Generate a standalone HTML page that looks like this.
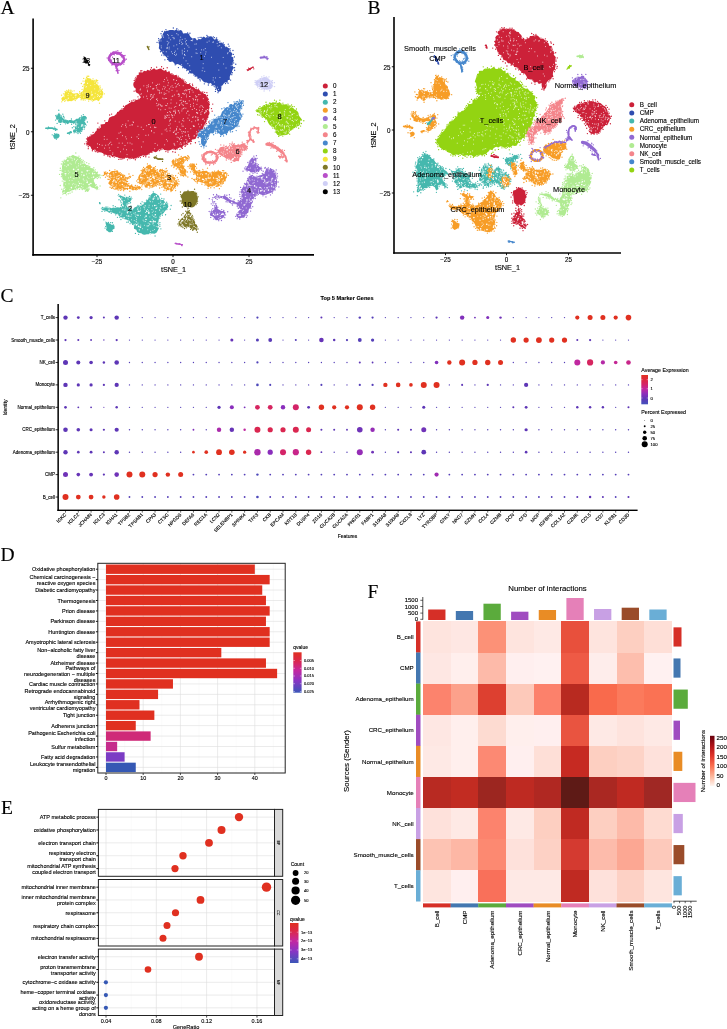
<!DOCTYPE html>
<html lang="en"><head><meta charset="utf-8"><title>Figure</title>
<style>html,body{margin:0;padding:0;background:#fff}svg{display:block}text{font-family:"Liberation Sans",sans-serif;stroke:#000;stroke-width:.12px}</style></head>
<body>
<svg width="727" height="1029" viewBox="0 0 727 1029">
<rect width="727" height="1029" fill="#fff"/>
<g font-family="Liberation Serif" font-size="19.5" style="font-family:'Liberation Serif',serif">
<text x="0.5" y="14.2" style="font-family:'Liberation Serif',serif">A</text>
<text x="367.5" y="13.6" style="font-family:'Liberation Serif',serif">B</text>
<text x="0.5" y="302.3" style="font-family:'Liberation Serif',serif">C</text>
<text x="0.5" y="561.3" style="font-family:'Liberation Serif',serif">D</text>
<text x="1" y="814.3" style="font-family:'Liberation Serif',serif">E</text>
<text x="367.5" y="598.3" style="font-family:'Liberation Serif',serif">F</text>
</g>
<g id="panelA">
<path d="M135.39 78.99L136.72 77.65L136.54 75.42L138.77 74.63L138.72 72.41L140.61 72.23L142.62 72.39L143.99 70.68L146.14 71.24L147.51 69.67L149.25 70.49L150.91 70.31L152.51 69.32L154.1 68.15L155.91 69.85L157.33 69.45L159.25 68.85L161.12 68.45L162.55 69.81L164.1 70.68L166.13 69.63L166.98 72.31L169.37 71.12L170.18 73.16L171.47 74.21L172.9 74.98L174.57 75.24L176.7 74.81L177.25 77.15L179.28 77.24L180.82 78.07L181.9 79.61L183.61 80.19L184.34 82.18L185.79 83.22L187.47 83.96L189.65 83.99L190.72 85.57L192.01 86.85L193.86 87.31L195.15 88.44L196.41 89.62L198.5 89.34L199.84 90.38L200.71 92.24L202.64 92.36L203.8 93.7L205.69 94.31L206.67 95.83L206.97 97.65L209.2 98.91L207.55 101.27L208.8 102.81L210.14 104.32L209.11 106.1L209.66 108.12L208.19 109.8L209.49 111.95L209.4 113.97L208.31 115.69L208.43 117.81L206.42 119.22L206.69 121.51L205.52 122.94L204.55 124.48L203.34 125.88L203.24 127.99L202.46 129.64L200.44 130.46L199.86 132.24L197.55 132.87L197.87 135.37L196.52 136.52L195.91 138.41L194.34 139.34L192.1 139.6L191.06 141.02L190.27 142.59L187.97 142.28L187.44 144.17L185.71 144.58L184.63 145.33L183.01 145.81L182.13 148.15L179.95 147.23L178.66 148.1L176.96 148.72L175.39 150.21L173.35 148.42L171.73 149.62L169.98 150.13L167.96 150.67L166.11 150.19L164.22 150L162.32 148.2L160.56 149.17L158.63 149.65L157.19 151.57L155.53 152.31L153.09 151.19L151.62 152L150.19 152.88L148.69 153.63L147.49 154.96L145.68 155.72L143.59 155.4L141.54 155.25L139.98 156.79L138.3 156.83L136.68 157.5L135.12 158.67L133.38 158.16L131.67 157.87L129.99 158.31L128.2 158.39L126.47 156.7L124.6 158.82L122.83 158.44L121.03 158.62L119.25 158.35L117.53 157.22L115.87 157.03L114.29 156.06L112.46 157.22L110.97 155.54L109.31 155.34L107.77 155.54L106.14 154.8L104.31 154.61L102.91 153.29L101.29 152.53L99.49 152.28L98.07 151.64L96.2 151.2L95.18 149.47L92.46 150.31L91.34 148.75L90.58 146.8L88.91 145.76L87.25 144.7L85.82 143.9L87.39 142.04L86.82 138.9L87.79 137.25L90.07 136.76L91.28 135.33L93.3 134.62L94.46 133.26L95.28 131.63L96.67 130.61L96.92 128.37L99.35 128.48L100.85 127.57L100.53 124.57L102.66 124.32L104.73 123.98L105.56 122.04L107.83 121.97L108.5 119.82L109.2 117.79L110.65 116.98L112.17 116.27L114.15 116.1L115.22 114.85L116.8 114.21L117.09 111.92L118.91 111.39L119.99 109.83L122.13 109.74L123.75 108.92L124.32 106.63L125.55 105.2L127.24 104.49L128.81 103.59L130.29 102.56L131.9 101.73L134.12 101.86L135.29 100.27L137.07 99.7L139.07 99.49L141.05 96.87L139.49 95.54L138.54 93.84L136.53 92.66L135.25 91L135.88 88.71L134.05 87.23L133.24 84.9L133.49 82.82L135.18 80.86Z" fill="#cc2139"/>
<path d="M135.12 78.85h0M135.84 77.37h0M140.6 70.9h0M141.87 70.74h0M150.56 69.33h0M151.42 67.71h0M156.64 67.18h0M161.6 66.78h0M163.5 68.53h0M167.19 67.77h0M171.89 73.58h0M173.02 74.62h0M178.12 76.22h0M182.31 79.07h0M183.91 79.9h0M185.14 81.6h0M186.14 82.61h0M189.86 83.56h0M192.47 84.13h0M192.69 85.63h0M196.16 87.32h0M196.53 89.17h0M198.56 89.1h0M200.88 92.01h0M202.82 91.99h0M204.65 92.37h0M206.88 92.69h0M207.47 95.52h0M207.13 97.52h0M208.63 101.38h0M209.06 102.58h0M212.75 104.07h0M211.49 108.57h0M208.52 109.82h0M212.18 111.17h0M206.92 119.46h0M208.8 122.02h0M206.28 123.48h0M205.03 124.84h0M203.67 126h0M204.34 128.25h0M201.77 131.8h0M200.12 136h0M198.31 137.68h0M195.4 142.7h0M191.46 141.26h0M190.73 143.7h0M188.12 142.54h0M187.61 144.34h0M185.87 144.96h0M185.12 146.4h0M182.27 148.43h0M179.93 149.36h0M177.17 149.04h0M175.22 152.25h0M173.24 149.08h0M172.79 151.71h0M167.98 152.01h0M165.86 151.62h0M162.12 149.08h0M160.79 149.76h0M159.37 150.69h0M151.85 152.39h0M149.01 154.04h0M148.96 157.08h0M145.8 156.74h0M143.48 156.4h0M141.66 155.57h0M140.37 157.6h0M138.39 157.25h0M136.81 157.72h0M135.33 159.76h0M133.31 158.47h0M131.69 158.25h0M130.04 158.65h0M127.54 159.83h0M126.56 157.37h0M122.8 158.85h0M121.01 159.37h0M118.83 159.41h0M114.35 157.11h0M110.1 157h0M109.31 156.09h0M107.7 155.93h0M104.13 155.01h0M97.89 152.2h0M95.88 151.63h0M94.86 150.81h0M92.38 150.74h0M88.25 148.69h0M88.31 146.71h0M87.05 145.04h0M84.7 143.84h0M86.36 141.84h0M86.51 138.87h0M87.68 137.08h0M89.84 136.36h0M91.07 135h0M93.11 134.32h0M93.08 132.34h0M99.25 127.09h0M97.89 123.1h0M104.81 120.87h0M109.65 115.03h0M111.62 114.06h0M116.59 114.07h0M121.95 108.98h0M123.49 108.74h0M123.49 106.23h0M129.57 101.35h0M131.77 101h0M133.35 100.07h0M135.04 99.93h0M138.75 99.05h0M140.68 96.83h0M137.98 96.8h0M134.13 91.18h0M134.25 80.4h0" stroke="#cc2139" stroke-width="1.35" stroke-linecap="round" fill="none"/>
<path d="M159.08 46.3L159.18 44.53L158.37 42.58L159.75 41.07L159.48 39.18L161.59 37.95L162.41 36.06L162.67 34.23L163.54 32.55L164.89 31.64L166.28 30.82L167.93 30.82L169.6 30.1L171.33 30.06L173.05 29.88L174.5 30.51L176.75 29.24L177.99 31.35L180.25 30.08L182 30.71L183.06 33.46L185.27 33.16L187.6 33.14L189.19 33.89L189.82 35.92L190.93 37.29L192.33 38.5L195.18 37.96L197.01 40.6L198.53 39.07L200.74 39.37L202.26 37.83L203.78 36.47L205.88 38.06L207.28 36.1L209.15 36.49L211.21 36.33L212.77 37.43L214.07 39.17L216.52 38.44L217.38 40.11L218.19 41.89L219.54 42.75L221.52 42.58L222.83 43.48L223.99 44.8L225.14 46.14L226.8 46.78L228.01 47.71L229.99 48.86L229.05 51.48L231.52 52.4L232.65 54.25L231.22 56.19L233.4 57.52L233.17 59.26L233.89 60.83L232.72 62.6L232.78 64.27L232.69 65.92L234 67.69L232.88 69.26L232.21 70.8L231.85 72.56L230.98 74.18L229.95 75.74L229.73 77.16L229.94 79.66L227.78 80.19L227.61 82.77L225.32 82.31L223.97 83.26L222.93 84.66L221.51 86.48L221.31 88.56L220.93 90.93L218.04 92.08L217.15 90.6L216.4 88.84L215.4 87.25L215.77 86.36L214.16 84.99L212.23 84.93L210.9 82.95L208.49 83.8L206.9 82.48L204.75 82.44L203.03 81.29L201.58 79.61L200.17 78.28L197.53 78.93L197.3 76.37L195.43 76L194.24 74.72L192.93 73.6L190.92 73.42L189.2 72.84L188.82 70.41L186.94 70.35L186.02 68.77L184.31 68.43L183.13 67.23L181.54 65.82L179.71 64.89L177.82 64.08L175.24 64.66L173.85 62.86L172.36 61.38L170.12 61.92L168.63 61.24L167.95 59.27L167.12 57.9L165.65 56.62L164.45 55.07L162.7 54.18L162.28 52.47L161.07 51.29L160.18 50.08L158.78 48.25Z" fill="#2f4db0"/>
<path d="M157.04 42.36h0M158.9 40.79h0M158.6 38.66h0M161.89 35.91h0M161.05 33.7h0M162.17 31.38h0M164.77 31.47h0M165.94 29.55h0M173.31 28.01h0M176.88 28.71h0M178.29 30.09h0M187.64 32.94h0M189.94 33.29h0M198.13 37.84h0M200.08 37.42h0M201.79 37.34h0M206.94 35.39h0M213.33 36.86h0M214.49 37.59h0M216.63 38.03h0M217.68 39.97h0M218.42 41.7h0M219.89 41.06h0M223.23 43.03h0M224.18 44.63h0M228.24 44.15h0M229.02 46.16h0M230.2 48.81h0M230.38 50.91h0M232.97 50.52h0M233.45 54.32h0M234.4 56.89h0M233.67 62.91h0M235.77 64.29h0M234.53 67.66h0M234.64 70.27h0M232.32 72.73h0M231.77 74.65h0M230.61 80.09h0M228.05 83.28h0M225.48 83.53h0M217.99 92.68h0M215.47 91.44h0M215.59 89.26h0M214.98 86.79h0M213.82 85.83h0M212.02 85.26h0M208.35 84.99h0M204.32 83.84h0M200.28 80.85h0M199.96 79.51h0M197 76.59h0M195.23 76.37h0M193.99 74.98h0M188.72 73.18h0M186.8 70.6h0M182.72 67.66h0M178.46 67.55h0M175.18 64.86h0M167.68 59.39h0M164.9 59.81h0M164.05 55.55h0M161.65 55.05h0M160.51 51.78h0" stroke="#2f4db0" stroke-width="1.35" stroke-linecap="round" fill="none"/>
<path d="M219.93 77.46h0M203.78 49.92h0M182.21 52.03h0M176.79 33.64h0M178.11 34.83h0M211.46 57.29h0M175.81 55.43h0M204.75 71.35h0M214.33 82.06h0M208.06 37.13h0M221.29 47.81h0M200.75 52.71h0M213.58 41.96h0M176.8 44.81h0M201.6 49.83h0M196.28 43.95h0M218.86 70.07h0M221.27 86.23h0M161.28 47.81h0M167.19 41.36h0M231.19 65.73h0M227.98 52.67h0M223.18 57.43h0M202.94 68h0M174.57 52.45h0M168.85 42.25h0M207.1 42.22h0M209.1 41.09h0M181.66 42.22h0M217.87 63.55h0M163 35.9h0M187.89 63.68h0M188.97 47.16h0M181.67 64.7h0M185.03 55.41h0M185.52 41.84h0M212.83 42.24h0M192.81 39.69h0M186.05 60.85h0M169.19 47.16h0M218.59 89.48h0M173.05 37.47h0M227.68 53.64h0M226.04 68.03h0M217.16 43.37h0M174.61 54.37h0M197.08 53.37h0M167.48 44.92h0M203.2 63.68h0M205.26 48.58h0M189.74 65.69h0M190.17 70.41h0M191.75 56.76h0M194.95 44.19h0M215.49 77.91h0M192.61 40.74h0M167.88 56.28h0M165.13 56.99h0M213.24 77.76h0M196.03 53.02h0M213.13 80.08h0M217.35 87.23h0M163.16 51.35h0M214.94 39.46h0M225.46 46.65h0M173.87 45.9h0M196.19 49.38h0M161.01 40.9h0M205.96 51.9h0M223.69 63.99h0M205.46 54.03h0M218.05 46.02h0M232.51 65.37h0M191.41 40.57h0M219.71 45.33h0M202.17 70.71h0M160.79 38.87h0M204.44 56.38h0M168.15 43.7h0M166.23 51.74h0" stroke="#fff" stroke-width=".8" stroke-linecap="round" fill="none"/>
<path d="M167.65 47.35h0M180.7 37.17h0M181.94 44.43h0M168.34 35.7h0M174 38.78h0M179.74 41.09h0M182.72 43.59h0M161.2 45.95h0M174.15 38.07h0M166.76 48h0M177.76 48.9h0M170.69 39.75h0M187.63 50.88h0M186.28 44.17h0M186.16 43.83h0M167.71 34.52h0M171.63 51.8h0M184.49 54.37h0M185.08 38.83h0M179.43 43.39h0M187.83 45.73h0M169.12 48.91h0M168.94 38.02h0M186.31 40.46h0M191.11 40.5h0M182.18 50.28h0M183.42 57.95h0M176.42 54.22h0M184.58 54.69h0M175.26 51.13h0M180.03 39.95h0M167.21 48.39h0M171.96 35.5h0M184.4 48.69h0M184.56 51.45h0M172.63 53.62h0M163.46 37.21h0M182.31 53.82h0M182.21 39.4h0" stroke="#fff" stroke-width=".8" stroke-linecap="round" fill="none"/>
<path d="M192.09 90.16h0M161.95 105.81h0M141.44 93.86h0M165.31 98.45h0M206.3 111.53h0M198.55 119.73h0M170.02 130.79h0M176.99 90.99h0M140.09 89.95h0M173.8 132.49h0M159.51 90.86h0M188.11 111.14h0M187.95 131.79h0M183.19 100.94h0M167.6 103.73h0M154.18 94.33h0M201.98 111.35h0M176.56 129.47h0M191.79 121.73h0M163.97 98.87h0M185.54 128.57h0M193.19 116.93h0M153.18 97.07h0M188.36 135.85h0M150.63 86.66h0M157.03 98.86h0M175.91 87.01h0M162.56 89.04h0M190.43 106.61h0M147.35 90.27h0M166.71 77.93h0M187.69 111.3h0M183.49 108.64h0M202.45 106.26h0M179.48 129.08h0M168.97 91.85h0M189.67 138.45h0M193.24 125.58h0M198.63 124.11h0M184.12 107.97h0M193.81 126.51h0M183.3 93.39h0M169.13 108.06h0M182.75 104.78h0M186.44 142.04h0M193.52 103.31h0M204.69 112.64h0M177.21 126.81h0M175.23 121.23h0M197.01 112.82h0M164.45 79.55h0M158.87 104.09h0M168.92 125.45h0M164.22 94.47h0M204.64 113.2h0M166.96 90.67h0M195.68 120.87h0M172.27 115.7h0M196.31 133.88h0M172.19 96.56h0M177.71 84.45h0M197.34 100.88h0M198.51 94.63h0M165.87 93.64h0M169.31 88.8h0M159.34 93.02h0M160.76 109.8h0M169.47 121.09h0M185.34 101.43h0M185.11 93.39h0M146.98 85.71h0M163.83 86.42h0M181.84 131.38h0M185.97 139.44h0M194.2 135.5h0M176.51 128.57h0M178.17 94.42h0M156.11 85.47h0M173.91 79.68h0M172.12 85.83h0M173.79 111.13h0M177.11 137.22h0M172.18 115.74h0M185.76 135.63h0M165.79 105.46h0M183.81 121h0M186.95 142.13h0M175.12 110.17h0M189.39 120.23h0M165.18 109.44h0M176.14 130.62h0M169.05 115.13h0M196.86 96.45h0M196.93 104.38h0M174.65 94.94h0M174.83 145.24h0M185.02 132.15h0M162.76 98.18h0M183.66 131.59h0M200.91 114.51h0M143.42 96.99h0M140.43 89.09h0M203.37 119.04h0M185.26 131.94h0M202.57 119.26h0M182.41 120.34h0M187.9 118.15h0M186.83 90.7h0M185.87 108.25h0M185.1 101.89h0M196.58 131.76h0M178.66 93.96h0M160.77 105.67h0M161.9 106.31h0M184.14 142.3h0M195.73 116.65h0M203.18 107.44h0M180.71 142.57h0M207.45 109.51h0M168.36 82.8h0M184.33 90.69h0M189.47 92.83h0M190.45 88.91h0M189.08 136.69h0M183.23 126.23h0M173.45 79.78h0M165.28 116.63h0M170.17 123.92h0M183.31 105.4h0M178.98 96.42h0M188.37 134.68h0M181.34 97.58h0M181.39 139.6h0M195.54 95.77h0M140.12 94.32h0M169.06 117.46h0M179.33 95.09h0M187.09 140.86h0M163.86 81.59h0M178.08 132.54h0M181.74 123.97h0M172 90.28h0M194.45 108.38h0M193.11 92.16h0M179.86 139.66h0M200.87 112.83h0M172.78 117.65h0M153.01 89.26h0M164.95 115.87h0M167.68 112.5h0M181.07 100.17h0M199.57 110.29h0M179.01 94.21h0M193.59 105.97h0M153.82 88.43h0M178.33 137.78h0M181.13 103.93h0M184.06 143.91h0M186.06 103.62h0M170.84 86.93h0M157.6 100.68h0M194.08 126.26h0M143.84 85.86h0M186.55 96.87h0M180.68 129.71h0M147.25 98.67h0M157.68 84.38h0M173.1 87.56h0M156.4 85.74h0M189.33 89.46h0M197.93 120.45h0M171.11 99.81h0M196.61 109.66h0M183.2 85.71h0M189.09 115.08h0M158.32 104.96h0M150.71 94.89h0M197.74 99.43h0M185.96 90.61h0M172.84 95.98h0M157.73 89.92h0M146.71 96.2h0M189.96 96.5h0M195.5 99.89h0M197.24 113.17h0M179.29 85.38h0M188.94 89.57h0M181.85 110.94h0M158.84 90.24h0M182.12 126.13h0M195.82 117.2h0M190.39 104.69h0M195.75 99.48h0M202.6 109.59h0M199.97 94.55h0M165.25 87.2h0M165.53 118.05h0M170.66 112.38h0M205.62 110.89h0M175.3 113.45h0M152.54 82.85h0M188.07 89.46h0M179.65 112.9h0M199.8 126.79h0M173.95 111.32h0M159.23 84.23h0M167.9 85.3h0M180.7 137.09h0M166.74 105.58h0M197.75 113.1h0M193.43 99.72h0M156.53 99.47h0M157.14 105.7h0M183.51 101.57h0M176.51 80.46h0M169.78 111.61h0M204.44 120.79h0M184.12 94.51h0M186.66 95.06h0M177.29 141.62h0M182.73 93.43h0M175.78 106.52h0M205.76 112.25h0M158.46 108.86h0M176.71 86.12h0M148.52 84.9h0M160.19 104.58h0M159.83 92.91h0M197.75 119.13h0M179.21 122.02h0M171.7 114.7h0M182.15 109.05h0M161.36 92.83h0M166.35 117.39h0M178.28 110.65h0M199.92 106.97h0M170.25 128.1h0M147.51 91.61h0M150.63 99.61h0M182.39 136.3h0M196.48 112.54h0M190.81 128.67h0M192.25 109.49h0M193.99 126.18h0M192.66 117.4h0M174.24 144.36h0M179.34 105.39h0M181.77 102.65h0M171.11 108.25h0M189.73 96.45h0M166.87 115.22h0M166.44 98.53h0M194.13 136.27h0M174.36 107.26h0M152.67 97.25h0M203.28 98.67h0M178.85 111.08h0M175.59 112.5h0M187.13 103.36h0M164.6 118.04h0M186.53 113.07h0M167.57 115.65h0M179.48 138.43h0M206.33 110.32h0M170.27 120.18h0M176.46 133.86h0M151.74 98.25h0M175.25 83.41h0M201.52 124.85h0M201.08 105.61h0M150.76 96.24h0M175.19 111.62h0M152.94 88.55h0M183.34 118.64h0M140.27 97.28h0M197.92 117.43h0M185.95 89.57h0M174.24 115.07h0M179.51 104.91h0M148.36 86.72h0M146.88 87.7h0M175.94 134.38h0M182.16 133.2h0M193 98.59h0M189.21 100.81h0M151.65 94.57h0M180.05 100.46h0M170.94 103.09h0M180.07 144.14h0M170.24 119.86h0M196.11 97.22h0M181.44 144.17h0M174.08 143.43h0M156.71 103.38h0M189.41 91.34h0M173.31 132.21h0M156.74 87.91h0M164.65 88.85h0M178.62 83.72h0M176.71 103.08h0M167.73 80.18h0M164.16 93.02h0M153.15 95.79h0" stroke="#fff" stroke-width=".8" stroke-linecap="round" fill="none"/>
<path d="M151.46 130.73h0M108.25 144.85h0M132.68 149.91h0M125 145.5h0M127.04 154.64h0M112.69 154.35h0M137.91 126.31h0M133.48 122.57h0M155.05 127.6h0M126.28 127.04h0M146.7 125.74h0M138.61 138.53h0M117.98 147.41h0M127.71 142.98h0M143.25 129.54h0M128.14 120.83h0M110.05 150.48h0M122.29 143.18h0M104.26 139.28h0M125.73 136.89h0M121.46 126.27h0M105.72 145.27h0M119 133.13h0M97.51 143.84h0M151.41 131.12h0M130.07 143.04h0M154.44 127.13h0M166.97 131.14h0M148.45 124.54h0M157.39 145.11h0M120.76 132.25h0M149.26 124.46h0M166.35 139.59h0M155.91 127.37h0M131.97 144.02h0M167.6 141.04h0M104.45 148.17h0M112.86 152.94h0M154.05 132.75h0M175.44 133.93h0M148.39 135.05h0M99.62 144.56h0M131.41 137.34h0M154.73 148.72h0M117.2 138.67h0M141.23 127.18h0M129.99 125.3h0M155.09 143.48h0M138.81 134.74h0M174.55 131.12h0M120.45 151.78h0M107.06 139.33h0M123.35 149.1h0M141.6 146.97h0M109.38 143.33h0M145.89 135.37h0M125.64 125.5h0M111.75 144.69h0M133.08 121.88h0M122.58 135.66h0M125.85 124.01h0M102.14 145.29h0M104.25 136.44h0M131.91 124.86h0M150.47 127.24h0M97.35 147.51h0M166.36 128.98h0M110.79 142.23h0M109.32 147.9h0M122.77 124.65h0M165.15 129.91h0M126.32 138.86h0M126.39 149.72h0M143.18 141.84h0M164.68 144.84h0M137.02 136.86h0M153.48 123.84h0M132.36 124.89h0M161.89 133.99h0M119.08 143.14h0" stroke="#fff" stroke-width=".8" stroke-linecap="round" fill="none"/>
<path d="M243.77 100.01L242.99 101.62L242.23 103.23L241.77 104.96L241.53 106.77L241.17 108.54L240.68 109.73L240.06 111.79L240.91 113.26L241.78 114.73L242.6 116.3L241.51 117.63L240.51 119L239.58 120.42L239.22 122.11L238.71 123.69L238.03 125.41L236.71 126.32L235.41 127.26L234.28 128.42L233.02 129.4L231.38 129.92L230.35 131.19L228.26 131.13L227.7 133L226.3 133.94L224.49 133.81L222.95 134.71L220.76 135.65L219.6 133.72L217.76 132.71L216.09 130.93L214.46 131.83L213.23 133.54L210.65 133.15L209.6 134.6L208.98 136.48L207.41 137.48L206.35 139.44L206.95 141.72L206.07 143.61L205.12 145.46L203.87 146.91L202.46 145.41L201.14 143.77L201.02 141.63L201.1 139.45L200.41 137.09L198.25 136.75L197.42 134.96L199.12 133.45L199.23 130.66L201.52 130.82L203.47 130.25L204.96 128.71L206.57 127.82L207.51 126.26L208.68 124.93L210.41 124.02L211.14 121.8L212.78 120.64L213.99 119.31L215.44 118.52L217.53 118.53L218.53 116.7L220.38 115.71L221.34 113.82L221.98 111.69L223.68 110.36L224.77 108.44L226.39 107.13L228.75 106.8L229.67 104.18L231.41 104L233.39 104.42L234.47 102.57L236.31 102.68L238.31 102.44L239.74 100.46L241.84 100.52Z" fill="#4687cc"/>
<path d="M243.23 101.73h0M242.77 103.43h0M243.41 105.28h0M241.87 106.83h0M241.66 108.68h0M242.93 114.08h0M240.7 119.13h0M238.99 126.14h0M236.95 126.66h0M236.19 130.55h0M232.55 131.66h0M230.64 131.93h0M226.45 134.54h0M223.53 135.89h0M220.56 136.35h0M217.59 132.92h0M215.93 131.52h0M215.69 133.18h0M213.61 134.64h0M208.28 138.25h0M207.3 139.54h0M206.16 146.16h0M203.85 147.8h0M201.17 146.53h0M199.87 144.26h0M199.03 141.65h0M197.92 137.21h0M198.31 133.11h0M198.71 130.18h0M201.41 129.71h0M202.95 129.41h0M204.43 128.03h0M206.35 127.59h0M207.2 126.03h0M209.47 123.28h0M209.91 120.94h0M212.09 119.84h0M213.87 119.16h0M214.69 115.1h0M216.97 117.57h0M218.19 116.35h0M221.85 108.79h0M224.13 107.91h0M227.97 102.56h0M234.02 101.82h0M236.28 101.72h0M237.7 101.49h0M239.47 99.96h0" stroke="#4687cc" stroke-width="1.35" stroke-linecap="round" fill="none"/>
<path d="M219.77 117.26h0M218.46 120.94h0M223.8 114.21h0M231.11 125.91h0M240.86 116h0M239.08 112.97h0M230.08 110.26h0M227.47 109.25h0M227.51 119.05h0M228.9 115.88h0M212.97 123.23h0M225.15 112.08h0M232.98 104.22h0M235.15 119.89h0M222.41 127.66h0M223.17 130.9h0M225.32 115.55h0M231.78 112.12h0M233.39 114.53h0M219.5 130.8h0M233.31 117.04h0M232.49 104.23h0M240.96 117.18h0M233.49 111.4h0M226.92 116.18h0M234.52 121.62h0M202.49 134.47h0M207.52 126.77h0M204.75 140.56h0M237.7 112.56h0M204.97 132.09h0M225.14 121.29h0M237.43 108.57h0M204.47 134.59h0M242.81 101.55h0M205.78 132.21h0M204.34 134.7h0M213.85 123.32h0M239.99 116.42h0M216.38 126.16h0M229.33 130.7h0M222.66 125.79h0M209.28 128.71h0M239.52 102.33h0M229.61 115.25h0M227.39 125.8h0M236.97 123.98h0M208.34 129.59h0M231.88 117.81h0M230.44 118.5h0M221.84 128.8h0M228.82 115.14h0M226.59 125.52h0M207.83 128.79h0M221.64 122.4h0M221.73 124.79h0M235.12 111.22h0M205.47 138.63h0M218.79 130.1h0M235.32 105.78h0M234.65 124.5h0M229.64 121.12h0M232.59 107.04h0M228.96 117.25h0M230.72 112.91h0M236.08 104.29h0M217.97 117.26h0M230.45 113.88h0M216.37 130.46h0M235 116.56h0M215.32 127.2h0M240.27 109.01h0M214.72 131.28h0M232.47 117.83h0M221.82 123.34h0M218.89 121.72h0M236.33 119.5h0M217.84 123.09h0M228.94 126.03h0M201.07 138.42h0M232.34 126.53h0M200.04 132.01h0M230.39 122.69h0M200.03 132.48h0M216.83 127.45h0M237.83 106.84h0M212.96 124.36h0M221.13 119.75h0M237.12 112.08h0M222.33 117.57h0M218.97 122.98h0M224.5 117.19h0M234.57 109.41h0M222.15 119.22h0M223.63 115.21h0M210.98 133.4h0M237.4 103.38h0M234.53 123.42h0M228.67 131.72h0M236.27 106.85h0M239.95 109.72h0M216.68 130.97h0M229.22 107.28h0M200.12 132.7h0M224.42 114.98h0M239.68 115.25h0M236.41 107.14h0M215.07 130.12h0M231.18 120.2h0M235.82 105.74h0M232.2 123.34h0M240.5 104.37h0M225.15 125.41h0M236.6 110.68h0M240.26 101.52h0M212.91 121.13h0M208.94 134.89h0M205.77 137.02h0M225.05 121.69h0M202 130.4h0M228.17 107.7h0M205.35 144.25h0M237.9 122.57h0M238.16 105.5h0M220.45 125.19h0M220.94 117.24h0" stroke="#fff" stroke-width=".8" stroke-linecap="round" fill="none"/>
<path d="M255.26 110.48L256.83 109.22L258.75 108.6L260.57 107.78L262.19 106.68L263.23 104.99L265 104.95L266.22 103.65L268.35 104.45L269.46 102.2L271.17 102.94L272.81 102.31L274.49 102.62L276.15 102.33L277.86 103.07L279.61 102.06L281.02 103.52L282.73 103.75L284.3 104.57L286.12 104.35L287.84 104.55L289.27 105.29L291.19 105.45L291.53 107.58L293.34 107.89L294.2 109.37L295.89 109.9L297.41 111.36L298.55 113.11L298.77 115.29L299.74 116.84L301 118.27L302.31 120.32L300.07 121.36L300.36 123.41L299.65 125.31L298.09 126.34L296.04 126.41L294.81 127.97L292.59 128.69L291.36 130.45L288.8 131.14L288.88 133.81L286.97 134.84L284.88 135.25L282.69 135.11L280.96 135.84L278.9 135.79L277.27 134.87L276.36 133.6L275.61 132.02L275.54 130.26L274.88 128.37L273.61 127.14L272.22 126.03L270.06 125.51L268.78 123.87L267.83 121.98L267.03 119.97L265.75 118.75L264.14 117.86L262.73 116.77L261.77 115.39L260.21 114.21L258.95 112.54L256.84 112.16Z" fill="#93d412"/>
<path d="M258.61 108.22h0M259.98 106.73h0M266.01 102.25h0M274.51 100.14h0M276.29 101.26h0M279.88 100.17h0M282.95 103.06h0M287.95 104.19h0M291.61 105.04h0M292.55 106.69h0M294.23 106.56h0M296.47 108.95h0M303.81 120.77h0M301.39 123.52h0M300.61 126.05h0M298.63 128.13h0M296.36 127.07h0M292.74 128.9h0M289.27 131.49h0M289.65 134.19h0M282.83 136.04h0M278.73 136.43h0M275.28 132.09h0M274.47 128.63h0M272.81 128.05h0M272.02 126.47h0M264.55 121.57h0M265.63 118.91h0M262.36 117.13h0M261.22 115.93h0M259.21 115.19h0M257.61 114.72h0" stroke="#93d412" stroke-width="1.35" stroke-linecap="round" fill="none"/>
<path d="M266.66 114.39h0M295.09 119.84h0M296.56 124.99h0M271.82 124.81h0M284.38 115.19h0M279.28 125.33h0M297.18 119.31h0M286.78 121.31h0M275.82 127.85h0M270.12 107.12h0M281.82 104.08h0M284.83 111.98h0M290.45 112.33h0M280.31 116.7h0M292.43 125.33h0M288 125.82h0M267.9 107.96h0M281.75 130.37h0M291.91 114.22h0M289.33 108.26h0M269.51 104.31h0M268.84 115.43h0M263.7 112.94h0M269.92 117.29h0M260.04 111.28h0M273.32 115.51h0M275.94 130.75h0M284.63 128.78h0M269.64 107.63h0M290.2 118.37h0M280.98 125.13h0M290 111.79h0M279.61 112.23h0M284.3 111.27h0M293.44 121.62h0M267.35 110.71h0M290.05 125.38h0M260.17 112.86h0M284.98 135.15h0M284.48 125.86h0M291.02 115.81h0M270.89 115.75h0M292.47 114.3h0M279.73 120.09h0M286.13 132.93h0M261.21 113.93h0M278.35 131.25h0M286.05 122h0M273.77 121.86h0M290.07 119.39h0M289.55 130.21h0M285.17 132.16h0M287.73 123.17h0M267.79 104.77h0M283.06 130.32h0M267.7 109.69h0M265.41 105.67h0M292.3 114.64h0M287.52 104.94h0M293.99 113.47h0M261.45 111.78h0M280.8 129.75h0M260.14 110.08h0M284.27 113.98h0M270.39 121.69h0M292.61 120.63h0M274.71 104.63h0M284.3 126.95h0M282.2 116h0M278.81 122.37h0M277.22 107.01h0M276.11 125.54h0M287.94 117.84h0M270.89 108.91h0M273.73 112.04h0M279 117.3h0M264.15 111.46h0M281.05 126.17h0M288.6 126.78h0M257.92 109.44h0M288.57 123.77h0M267.27 114.49h0M292.41 117.86h0M277.15 130.24h0M281.2 119.64h0M264.73 111h0M289.06 115.47h0M276.56 103.96h0M296.34 120.53h0M284.04 132.38h0M277.53 124.08h0M264.57 110.72h0M297.12 115.41h0M260.87 109.25h0M276.22 122.26h0M284.59 126.36h0M275.44 104.78h0M276.89 116.01h0M286.29 126.59h0M287.18 118.42h0M282.86 104.62h0M265.64 115.74h0M284.48 127.53h0M298.26 124.05h0M290.21 106h0M280.85 130.22h0M278.37 123.42h0M282.65 129.48h0M280.36 112.32h0M276.3 106.62h0M285.23 109.49h0M274.95 106.23h0M300.41 120.93h0M271.39 105.67h0M288.95 131.18h0M272.09 112.72h0M290.45 107.49h0M283.2 135.53h0M287.2 122.71h0M279.19 117.88h0M273.94 123.12h0M285.16 133.43h0M289.07 129.38h0M286.66 131.19h0M275.54 126.34h0M266.75 112.64h0M271.2 113.45h0M290 111.75h0M266.61 116.42h0M255.97 110.29h0M291.95 120.46h0M272.07 120.63h0M279.69 124.44h0M280.04 134.16h0M259.17 109.67h0M286.94 125.81h0M289.69 127.92h0M266.55 111.18h0M264.73 111.26h0M282.49 124.64h0M282.8 125.95h0M269.13 104.66h0M271.81 107.3h0M263.27 105.88h0M269.1 116.3h0M287.06 117.52h0M288.87 105.7h0" stroke="#fff" stroke-width=".8" stroke-linecap="round" fill="none"/>
<path d="M254.01 81.89L255.93 81.72L256.63 80.03L258.65 80.25L259.85 77.98L261.96 77.99L264.13 77.03L266.21 77.29L268.44 77.76L269.42 79.4L270.55 80.87L271.95 81.33L273.47 82.81L272.39 84.67L273.45 86.45L272.11 87.61L270.96 88.96L269.56 89.43L267.9 89.2L266.24 88.95L264.15 90.29L263.09 88.64L261.39 88.42L259.96 87.62L258.02 86.4L256.49 86L255.95 84.1Z" fill="#cfcff6"/>
<path d="M255.22 80.73h0M258.41 79.87h0M261.72 76.92h0M263.94 75.85h0M266.29 76.84h0M269.02 76.87h0M270.83 80.5h0M272.46 80.56h0M274.45 82.68h0M274.61 86.56h0M269.66 90.79h0M267.84 89.61h0M266.33 89.25h0M264.08 90.96h0M262.77 89.11h0M261.11 89.28h0M259.37 88.61h0M257.75 86.97h0M255.18 84.57h0" stroke="#cfcff6" stroke-width="1.35" stroke-linecap="round" fill="none"/>
<path d="M268.45 84.54h0M272.19 84.06h0M259 79.63h0M270.71 80.15h0M271.83 83.26h0M268.21 78.43h0M262.99 81.47h0M258.35 85.79h0M261.27 79h0M266.74 83.93h0M254.96 83.38h0M268.38 84.21h0M258.89 83.74h0M265.84 85.64h0M272.23 86.75h0M270.57 82.1h0" stroke="#fff" stroke-width=".8" stroke-linecap="round" fill="none"/>
<path d="M260.5 57.75L264.5 57.25L267.75 58.5" stroke="#9069d2" stroke-width="1.84" stroke-linecap="round" stroke-linejoin="round" fill="none"/>
<path d="M264.07 57.01h0M261.2 57.47h0M263.95 56.04h0M260.82 57.66h0M262.22 57.28h0M260.99 57.12h0M266.93 56.6h0M267.13 59.52h0M264.84 56.49h0M267.62 58.33h0M266.55 56.88h0" stroke="#9069d2" stroke-width="1.3" stroke-linecap="round" fill="none"/>
<path d="M247.75 70.5L253 67" stroke="#cc2139" stroke-width="1.2" stroke-linecap="round" stroke-linejoin="round" fill="none"/>
<path d="M253.79 68.78h0M250.96 68.25h0M248.77 69.57h0M253.2 67.3h0M250.02 68.71h0M248.57 68.08h0M250.17 69.5h0M247.45 69.78h0M249.38 68.68h0M247.2 69.68h0" stroke="#cc2139" stroke-width="1.3" stroke-linecap="round" fill="none"/>
<path d="M175 243.3L182.5 244.8" stroke="#b84fc9" stroke-width="1.1" stroke-linecap="round" stroke-linejoin="round" fill="none"/>
<path d="M179.55 244.24h0M179.34 243.53h0M180.39 244.1h0M175.97 243.16h0M182.24 244.56h0M178.97 243.84h0M179.39 244.03h0M176.73 243.78h0M176.15 244.08h0M178 244.23h0M181.55 245.22h0M181.99 245.68h0" stroke="#b84fc9" stroke-width="1.3" stroke-linecap="round" fill="none"/>
<path d="M147.5 46.5L148.8 49.5" stroke="#7f7828" stroke-width="1.38" stroke-linecap="round" stroke-linejoin="round" fill="none"/>
<path d="M148.48 47.04h0M147.33 46.76h0M148.79 49.2h0M147.95 47.34h0M149.17 46.81h0" stroke="#7f7828" stroke-width="1.3" stroke-linecap="round" fill="none"/>
<path d="M84 57L86 59.5L85.5 62L88 63L89.3 65.5" stroke="#000000" stroke-width="1.2" stroke-linecap="round" stroke-linejoin="round" fill="none"/>
<path d="M84.64 58.21h0M85.57 57.92h0M84.59 59.2h0M85.29 58.07h0M85.56 58.45h0M86.12 61.05h0M84.29 61.66h0M87.05 60.21h0M86.31 61.04h0M85.89 62.34h0M85.93 62.65h0M86.07 63.22h0M85.63 62.2h0M88.52 65.08h0M88.44 64.91h0M89.66 64.68h0M88.92 64.68h0" stroke="#000000" stroke-width="1.3" stroke-linecap="round" fill="none"/>
<path d="M85 58.5L87.5 61.5" stroke="#000000" stroke-width="1.1" stroke-linecap="round" stroke-linejoin="round" fill="none"/>
<path d="M86.61 60.77h0M87.17 61.56h0M87.01 60.82h0M87.86 60.99h0M84.57 59.91h0M87.86 60.7h0" stroke="#000000" stroke-width="1.3" stroke-linecap="round" fill="none"/>
<path d="M110 55.5L113.75 52.5L118.75 53L123 56.25L124.5 60L121.25 63.75L116.25 65L111.25 62.5L108.75 58.75Z" stroke="#b84fc9" stroke-width="2.39" stroke-linecap="round" stroke-linejoin="round" fill="none"/>
<path d="M110.94 54.89h0M113.21 54.42h0M112.49 52.72h0M110.41 54.36h0M110.59 54.19h0M111.43 54.17h0M110.68 53.11h0M113.05 52.07h0M116.52 53.97h0M116.09 51.2h0M114.6 52.82h0M117.13 52.81h0M114.34 54.74h0M117.81 50.58h0M117.82 54.01h0M117.14 54.21h0M123.28 55.59h0M121.24 52.4h0M120.28 53.25h0M121.44 56.96h0M122.05 56.4h0M118.55 53.39h0M120.93 54.86h0M118.45 54h0M123.83 55.94h0M124.58 55.64h0M123.17 57.18h0M126.28 59.23h0M125.05 55.51h0M126.22 59.18h0M123.44 60.05h0M124.44 62.05h0M122.43 60.94h0M124.42 60.29h0M124.44 60.5h0M122.82 62.64h0M122.1 62.5h0M123.78 64.16h0M119.35 63.4h0M116.62 64.95h0M118.61 65.11h0M117.84 64.84h0M119.28 64.05h0M117.05 63.9h0M117.57 66.08h0M120.52 64.88h0M112.38 63.88h0M116.02 62.57h0M116.15 64.03h0M116.17 63.43h0M115.52 64.06h0M113.21 63.15h0M115.08 64.34h0M113 64.83h0M111.76 64.93h0M110.38 61.88h0M111.53 60.74h0M110.93 59.38h0M108.75 59.28h0M108.74 60.58h0M110.19 61.79h0M108.71 60.02h0M110.4 56.3h0M112.6 57.27h0M109.88 58.03h0M107.13 57.92h0M109.2 56.65h0" stroke="#b84fc9" stroke-width="1.3" stroke-linecap="round" fill="none"/>
<path d="M115.5 64.5L117 68.75L118 73.25" stroke="#b84fc9" stroke-width="1.47" stroke-linecap="round" stroke-linejoin="round" fill="none"/>
<path d="M116.39 66.64h0M117.06 64.67h0M115.58 66.68h0M116.42 65.12h0M116.87 66.51h0M115.86 66.11h0M115.8 68.1h0M117.77 69.08h0M117.8 70.86h0M116.99 69.94h0M116.86 70.28h0M117.18 70.96h0M116.13 70.7h0M119 70.41h0" stroke="#b84fc9" stroke-width="1.3" stroke-linecap="round" fill="none"/>
<path d="M86.43 74.89L86.51 76.86L87.97 78.08L90.33 78.52L92.43 79.89L94.18 80.65L96.32 79.31L98.65 80.85L96.54 81.81L96.21 83.8L98.01 84.83L99.17 86.4L99.67 88.45L101.63 89.75L102.91 91.6L103.64 93.72L102.41 95.66L102.39 97.84L100.22 98.64L98.85 101.33L96.57 99.95L94.54 100.62L92.42 101.73L90.73 100.29L88.87 99.93L87 99.55L85.22 99.44L83.31 99.39L81.44 99.22L79.83 97.43L78.16 97.94L76.8 99.46L74.93 99.39L72.96 100.51L71.5 101.37L69.76 100.9L67.6 101.46L66.03 99.35L64.24 100.21L62.09 101.37L61.28 98.23L62.64 96.96L64.55 96.26L64.2 93.94L65.4 91.84L67.32 91.32L68.71 90.04L70.27 90.98L71.31 92.08L73.04 93.41L74.83 93.52L77.51 92.97L80.02 94.98L80.59 92.49L82.78 91.32L83.36 89.69L83.76 88.02L83.8 86.26L83.31 84.37L85.2 83.07L84.37 81.18L85.57 79.16L86.05 77.21Z" fill="#f5e53c"/>
<path d="M87.71 76.28h0M88.76 76.26h0M93.01 78.84h0M94.14 80.33h0M97.85 82.89h0M100 86.02h0M100.47 87.87h0M102.19 89.17h0M104.34 93.8h0M99.5 103.15h0M88.64 101.07h0M85.2 99.95h0M83.27 100.08h0M81.13 99.78h0M75.22 100.46h0M65.63 100.42h0M64.79 101.29h0M61.75 101.87h0M61.56 95.18h0M64.37 96.17h0M63.51 93.8h0M65.13 91.51h0M66.87 90.48h0M68.68 89.81h0M70.85 90.24h0M72.02 91.27h0M74.09 90.83h0M79.77 93.35h0M79.58 91.74h0M82.06 89.31h0M82.71 86.4h0M81.33 83.5h0M83.04 81.05h0M83.72 78.38h0" stroke="#f5e53c" stroke-width="1.35" stroke-linecap="round" fill="none"/>
<path d="M66.99 99.69h0M79.91 94.37h0M83.74 97.15h0M94.88 84.63h0M71.09 95.11h0M95.42 80.91h0M91.56 100.1h0M75.57 94.77h0M82.76 93.05h0M99.98 89.89h0M93.65 98.45h0M88.25 96.69h0M91.86 95.21h0M87.07 99.41h0M92.02 95.23h0M91.66 94.19h0M73.2 97.64h0M95.22 93.3h0M75.86 95.7h0M87.71 83.19h0M86.61 78.91h0M90.76 85.58h0M68.15 98.34h0M97.43 94.67h0M85.03 92.89h0M92.62 100.63h0M97.52 96.36h0M86.53 93.29h0M84.82 85.87h0M99.45 96.61h0M100.78 92.26h0M94.76 82.04h0M75.71 97.18h0M68.48 93.63h0M64.25 96.75h0M92.55 94.44h0M84.89 99.89h0M65.51 99.98h0M93.17 98.18h0M98.41 95.35h0M91.5 92.01h0M69.35 91.45h0M91.4 79.73h0M76.49 94.9h0M80.21 96.35h0M85.93 87.19h0M98.77 91.23h0M101.37 98.2h0M100.17 90.14h0M94.76 88.9h0M85.68 94.67h0M87.59 83.54h0M99.71 96.39h0M94.85 97.17h0M103.36 93.58h0M75.12 95.45h0M68.41 98.16h0M100.82 95.44h0M68.01 95.55h0M85.83 99.49h0M86.38 86.54h0" stroke="#fff" stroke-width=".8" stroke-linecap="round" fill="none"/>
<path d="M55.02 114.88L57.58 114.84L59.01 112.58L60 114.61L61.61 115.1L61.83 117.05L63.24 118.13L64.46 119.43L66.15 119.54L67.53 120.94L69.35 119.96L71.23 119.98L73.17 120.85L75.01 120.01L76.31 118.82L78.25 118.78L79.38 117.25L81.8 116.86L83.6 115.68L85.47 115.91L86.97 117.84L86.19 119.75L84.38 121.31L85.49 123.07L86.71 125.31L85.39 127.13L83.7 128.69L82.93 130.33L81.13 130.78L80.21 132.78L78.11 132.45L76.54 132.38L74.19 132.53L73 131.65L73.25 129.8L75.13 129.25L74.77 127.01L76.69 125.58L77.92 124.18L75.99 122.72L73.78 123.24L71.64 123.03L69.53 123.05L67.42 124.31L65.96 122.67L64.17 123.21L62.69 122.28L60.46 123.11L58.25 122.5L58.09 120.16L56.31 119.49L55.93 117.49Z" fill="#45b8ae"/>
<path d="M58.79 110.28h0M62.83 114.19h0M63.35 116.23h0M64.04 117.24h0M64.55 119.25h0M67.58 120.55h0M71.46 119h0M81.47 115.99h0M83.32 114.58h0M87.39 121.97h0M84.23 129.1h0M81.64 131.34h0M80.49 133.29h0M78 133.51h0M76.55 132.62h0M74.12 132.83h0M71.43 132.19h0M72.31 127.71h0M73.87 126.63h0M75.85 124.65h0M77.51 124.28h0M75.79 123.63h0M73.8 123.58h0M71.59 124.2h0M65.56 123.83h0M60.52 124.37h0M57.12 123.4h0M55.53 120.12h0" stroke="#45b8ae" stroke-width="1.35" stroke-linecap="round" fill="none"/>
<path d="M81.23 126.38h0M76.54 131.53h0M85.3 119.26h0M55.9 117.05h0M77.83 124.03h0M60.36 115.99h0M80.84 117.83h0M76.1 129.69h0M69.42 123.06h0M83.9 125.08h0M58.03 119.63h0M64.89 119.49h0M83.48 127.12h0M56.9 115.45h0M81.56 125.96h0M78.33 127.34h0M76.09 121.67h0M62.35 120.97h0M61.6 114.76h0M76.64 132.88h0M76.1 122.91h0M80.37 118.84h0M76.59 126.95h0" stroke="#fff" stroke-width=".8" stroke-linecap="round" fill="none"/>
<path d="M82.09 125.73h0M83.45 128.72h0M82.1 124.76h0M85.31 125.88h0" stroke="#fff" stroke-width="1.6" stroke-linecap="round" fill="none"/>
<path d="M45.75 128.25L51.25 128L57 129.5" stroke="#45b8ae" stroke-width="1.47" stroke-linecap="round" stroke-linejoin="round" fill="none"/>
<path d="M50.97 128.12h0M48.85 127.81h0M48.37 127.26h0M47.63 128.8h0M48.95 127.45h0M46.98 128.35h0M48.48 127.24h0M48.06 128.4h0M48.69 128.54h0M52.87 128.27h0M55.44 130.31h0M54.23 128.77h0M54.63 127.09h0M53.36 128.75h0M55.51 128.34h0M55.65 130.42h0M52.51 128.19h0M53.75 129.07h0" stroke="#45b8ae" stroke-width="1.3" stroke-linecap="round" fill="none"/>
<path d="M53.08 135.24L54.86 133.94L57.16 133.36L58.3 134.86L59.6 134.73L59.43 136.78L58.06 138.27L56.32 138.69L54.27 138.84L53.43 137Z" fill="#45b8ae"/>
<path d="M52.23 134.85h0M54.7 133.59h0M58.5 134.5h0M56.39 139.15h0" stroke="#45b8ae" stroke-width="1.35" stroke-linecap="round" fill="none"/>
<path d="M67.5 133.25L71.25 132.5" stroke="#45b8ae" stroke-width="1.38" stroke-linecap="round" stroke-linejoin="round" fill="none"/>
<path d="M69.27 132.6h0M68.9 133.07h0M70.01 131.91h0M70.69 131.76h0M69.38 134.07h0M69.23 133.68h0" stroke="#45b8ae" stroke-width="1.3" stroke-linecap="round" fill="none"/>
<path d="M72.96 154.8L74.59 155.66L76.26 156.29L78.49 156.97L80.11 158.45L80.97 160.35L82.82 161.17L84.23 162.23L85.21 163.84L86.42 164.95L88.22 165.09L89.57 166.65L90.97 168.02L93.33 168.55L94.56 170.42L95.81 171.57L97.27 172.46L98.25 173.93L99.42 175.28L101.14 175.73L99.75 176.54L98.35 176.84L96.79 177.61L95.42 178.32L92.76 180.38L94.01 181.51L94.75 182.9L95.66 184.94L96.84 186.73L98.66 187.54L99.6 189.22L96.98 189.37L95.4 188.17L93.36 187.89L91.68 187.41L89.99 186.01L88.13 187.93L88.66 189.58L89 191.04L87.37 191.91L85.71 190.82L84.06 189.79L82.71 188.91L81.41 187.98L79.41 187.72L77.4 188.14L75.53 189.1L73.68 190.05L71.46 190.53L69.58 191.75L67.11 191.9L65.8 194.05L63.89 193.98L62.21 195.2L62.78 193.41L62.03 191.79L62.87 189.66L63.89 187.49L63.12 185.16L63.38 183.12L63.57 180.73L62.33 178.7L62.18 176.4L60.93 174.31L61.94 172.2L61.21 170.4L61.97 168.54L61.98 166.46L62.33 164.21L62.91 161.77L64.58 160.68L66.11 159.47L67.39 157.66L69.58 157.08L71.4 155.79Z" fill="#b0eb92"/>
<path d="M75.8 152.98h0M78.95 156.16h0M80.41 158.23h0M81.74 159.58h0M83.2 160.5h0M84.69 161.82h0M86.66 162.68h0M88.93 163.79h0M89.77 166.46h0M93.85 167.77h0M95.27 169.84h0M97.48 172.24h0M99.77 174.73h0M102.06 175.48h0M100.25 177.77h0M98.61 177.55h0M97.25 178.52h0M93.43 180.68h0M96.16 184.67h0M97.11 186.42h0M100.08 185.95h0M96.92 189.6h0M95.22 188.59h0M88.99 188.25h0M88.98 189.49h0M85.4 191.29h0M82.33 189.46h0M81.16 188.68h0M79.47 189.2h0M77.61 188.75h0M75.8 189.63h0M72.08 192.03h0M70.03 193.17h0M68.22 193.73h0M66.31 194.83h0M60.85 197.83h0M61.84 189.21h0M60.24 185.5h0M62.22 181.06h0M61.39 176.65h0M59.55 174.38h0M60.2 170.4h0M60.33 168.22h0M61.34 164.02h0M62.24 161.34h0M64.24 160.2h0M67.18 157.35h0M69.4 156.69h0" stroke="#b0eb92" stroke-width="1.35" stroke-linecap="round" fill="none"/>
<path d="M64.73 192.07h0M83.23 179.33h0M89.14 173.29h0M92.62 172.97h0M72.35 184.73h0M88.97 170.53h0M70.05 163.25h0M81.53 174.81h0M75.39 162.94h0M75.01 184.21h0M87.48 170.93h0M97.95 173.61h0M81.41 186.44h0M69 183.82h0M75.24 187.48h0M64.84 165.64h0M86.58 174.04h0M76.19 177.96h0M69.8 172.21h0M71.25 188.22h0M83.23 178.89h0M95.71 186.42h0M88.29 187.59h0M78.59 181.82h0M65.1 171.17h0M69.94 189.68h0M76.64 160.46h0M68.4 177.91h0M68.68 173.74h0M82.65 172.3h0M91.88 177.61h0M82.66 163.26h0M84.06 180.79h0M75.98 173.94h0M63.67 180.6h0M83.17 184.25h0M65.11 188.56h0M71.03 157.82h0M71.2 157.91h0M80.71 164.6h0M73.11 173.19h0M75.98 186.51h0M74.28 158.8h0M89.05 186.17h0M76.82 167.12h0M63.97 193h0M81.62 172.34h0M78.61 185.7h0M94.42 173.78h0M68.21 170.94h0M87.6 177.19h0M79.58 177.81h0M70.9 177.1h0M86.24 180.14h0M94.91 173.54h0M66.31 166.63h0M89.68 184.06h0M69.27 180.57h0M87.43 181.18h0M61.93 172.38h0M74.11 178.72h0M74.58 159.62h0M87.98 166.08h0M82.98 187.3h0M65.69 184.17h0M63.79 192.52h0M75.86 161.72h0M76.92 174.81h0M77.72 159.38h0M82.05 166.62h0M78.54 163.69h0M87.01 188.3h0M76.84 185.15h0M72.25 158.86h0M62.75 172.68h0M78.74 185.46h0M72.14 160.62h0M81.91 171.72h0M70.61 177.24h0M73.21 178.27h0M73.16 183.55h0M61.83 169.69h0M66.14 173.67h0M69.99 157.72h0M64.69 162.32h0M94.03 171.37h0M71.17 164.21h0M85.06 189.55h0M88.91 178.33h0M81.01 162h0M78.61 165.87h0M84.58 166.58h0M72.09 180.56h0M64.49 187.02h0M80.96 163.72h0M65.67 175.12h0M81.29 183.7h0" stroke="#fff" stroke-width=".8" stroke-linecap="round" fill="none"/>
<path d="M76.07 171.19h0M71.38 187.56h0M93.57 177.12h0M64.25 189.55h0M68.1 164.95h0M79.63 183.46h0M64.91 181.3h0M65.25 173.77h0M87.14 182.39h0M78.12 169.65h0M89.01 184.55h0M87.17 170.78h0M83.93 175.39h0M90.88 183.51h0M98.75 188.33h0M92.68 173.75h0M73.6 169.4h0M67.89 160.74h0M83.87 163.03h0" stroke="#fff" stroke-width="1.6" stroke-linecap="round" fill="none"/>
<path d="M100.52 208.34L102.39 208.48L104.22 208.22L106.03 207.26L107.8 208.13L109.72 207.44L111.53 208.35L113.29 207.44L115.2 208.02L117.09 207.87L119.24 207.15L122.06 206.67L122.05 204.84L122.68 203.13L122.91 201.39L121.64 200.25L120.69 198.62L119.63 197.1L116.8 195.39L118.78 195.81L120.19 195.23L122.28 196.35L124.58 197.1L126.98 196.82L129.13 197.54L131.04 197.92L132.68 197.99L131.15 200.16L130.03 202.05L127.87 202.49L127.45 204.41L126.14 204.92L127.83 207.5L130.38 207.38L132.65 209.29L134.51 207.56L136.62 206.62L138.16 206.03L139.72 205.48L141.02 204.42L143.08 204.41L144.48 203.12L145.87 201.99L146.83 200.49L148.16 199.3L148.69 197.47L149.94 196.22L150.84 194.63L153.39 192.54L156.17 193.71L158.8 195.74L159.49 197.46L159.95 199.22L161.5 200.09L163.56 199.91L164.78 201.66L166.03 202.86L167.14 204.36L168.44 206.04L167.89 207.83L166.67 209.35L165.04 211.02L163.66 212.94L161.85 214.44L159.85 215.78L159.05 217.99L158.63 220.17L158.3 222.45L158.28 224.56L158.81 226.47L158.89 228.33L157.99 229.91L156.71 232.56L154.62 233.66L152.17 233.45L150.34 233.64L148.55 234.33L146.76 234.29L144.76 234.77L142.91 234.47L141.25 233.35L139.13 232.97L137.22 231.89L136.34 229.82L134.04 228.79L133.91 226.31L132.83 224.2L130.81 222.92L129.47 220.74L127.66 220.37L126.24 219.38L124.43 219.13L123.3 217.72L121.56 217.53L120.13 216.71L118.79 215.74L117.54 214.57L116 213.91L113.71 213.32L111.54 212.37L109.26 212.16L107.1 211.42L104.97 210.51L102.6 210.2Z" fill="#45b8ae"/>
<path d="M102.36 207.42h0M104 207.57h0M106.03 207.02h0M107.85 207.05h0M113.14 205.79h0M115.35 206.75h0M117.03 207.6h0M121.27 205.73h0M121.57 204.75h0M121.1 202.73h0M120.65 201.04h0M119 199.7h0M118.71 194.32h0M124.77 195.1h0M129.44 196.39h0M131.15 197.06h0M130.51 202.73h0M128.87 203.59h0M126.95 204.82h0M130.92 205.92h0M137.97 205.52h0M140.74 203.52h0M142.12 201.83h0M144.16 202.76h0M146.47 200.19h0M149.32 195.75h0M153.26 191.81h0M160.7 194.06h0M161.8 198.5h0M163.97 199.04h0M166.68 202.28h0M167.61 204.01h0M171.12 205.46h0M170.35 209.13h0M166.9 209.56h0M165.57 214.72h0M162.42 215.19h0M160.27 216.11h0M159.71 218.18h0M159.92 222.58h0M159.84 224.36h0M159.87 226.29h0M160.88 228.8h0M155.08 236.02h0M150.39 233.85h0M138.64 234.33h0M135.47 233.44h0M132.59 224.42h0M130.07 223.63h0M128.42 222.04h0M126.89 222.2h0M123.04 218.19h0M120.94 219.48h0M119.82 217.19h0M117.48 217.32h0M115.7 214.86h0M111.33 213.17h0M109.21 212.36h0M104.8 211.17h0M102.01 211.42h0" stroke="#45b8ae" stroke-width="1.35" stroke-linecap="round" fill="none"/>
<path d="M128.19 211.5h0M148.84 225.5h0M136.49 221.95h0M109.11 208.8h0M150.53 201.66h0M122.52 204.51h0M133.03 208.59h0M130.93 216.41h0M158.87 203.42h0M134.47 224.84h0M111.1 210.79h0M160.88 208.43h0M150.61 231.31h0M145.17 205.57h0M130.69 212.28h0M159.55 209.99h0M157.88 226.97h0M132.2 209.89h0M149.97 196.42h0M125.9 210.04h0M139.52 229.93h0M125.24 197.2h0M139.97 211.4h0M124.26 210.19h0M140.5 215.4h0M121.85 213.34h0M160.68 202.59h0M153.31 211.17h0M136.88 214.99h0M145.68 221.52h0M155.99 205.33h0M142.83 204.38h0M155.7 211.66h0M148.92 207.24h0M155.11 217.62h0M144.76 209.12h0M136.54 219.41h0M149.15 205.31h0M139.28 226.8h0M137.4 208.94h0M152.6 205.88h0M137.75 224.3h0M152.69 201.82h0M152.22 219.32h0M136.72 217.7h0M149.82 200.97h0M121.53 207.04h0M149.87 216.86h0M117.54 214.24h0M164.01 204.55h0M151.25 221.79h0M122.23 201h0M161.39 204.09h0M125.35 197.7h0M139.64 211.36h0M121.14 214.7h0M152.89 222.98h0M154.05 216.19h0M156.96 207.36h0M134.23 220.52h0M154.29 196.73h0M142.66 228.71h0M152.27 212.37h0M163.59 206.83h0M160.8 201.08h0M152.9 224.04h0M153.53 222.95h0M120.88 215.5h0M146.34 210.48h0M148.15 223.13h0M163.03 211.04h0M140.77 226.77h0M162.99 204.02h0M157.43 223.3h0M133.86 213.24h0M154.78 198.2h0M159.79 210.26h0M131.62 219.78h0M139.07 229.92h0M135.12 214.14h0M121.7 197.89h0M149.89 224.42h0M140.79 225.13h0M156.28 226.35h0M149.48 223.87h0M144.36 225.3h0M135.42 216.22h0M144.9 217.32h0M133.93 224.35h0M129.32 210.32h0M129.76 216.16h0M124.98 209.06h0M129.39 208.23h0M127.25 211.47h0M140.55 208.05h0M119.85 212.16h0M147.75 226.02h0M132.29 208.9h0M131.58 198.77h0M145.55 212.5h0M140.33 210.3h0M149.92 197.79h0M139.28 206.28h0M164.91 206.4h0M128.28 218.77h0M143.69 207.03h0M161.46 214.25h0M122.99 209.22h0M151.91 209.59h0M132.65 209.28h0M152.9 230.47h0M136.06 221.22h0M126.31 204.06h0M131.68 214.73h0M148.6 210.81h0M119.46 207.18h0M154.01 225.68h0M147.75 229.71h0M117.97 214.79h0M156.13 217.2h0M157.87 197.61h0M144.7 207.61h0M160.66 205.13h0M144.01 221.21h0M124.18 200.51h0M143.1 220.18h0M135.27 212.62h0M137.97 223.1h0M161.01 212.29h0M153.42 198.09h0M146.96 225.91h0M128.15 199.2h0M145.1 206.05h0M127.74 198.01h0M126.56 215.76h0M137.87 209.59h0M154.65 196.38h0M152.29 215.11h0M153.8 216.64h0M122.3 209.74h0M148.27 225.97h0M154.38 229.54h0M121.98 198.79h0M152.04 221.69h0M125.65 207.06h0M123.49 206.13h0M135.24 223.88h0M160.24 207.47h0M147.43 209.58h0M158.8 224.49h0M138.08 207.86h0" stroke="#fff" stroke-width=".8" stroke-linecap="round" fill="none"/>
<path d="M154.7 205.46h0M155.32 214.82h0M137.99 215.26h0M128.27 216.01h0M146.01 219.5h0M155.1 221.66h0M153.21 199.09h0M136.46 224.92h0M127.43 212.73h0M153.47 221.15h0M133.44 226.08h0M146.84 211.55h0M138.59 226.36h0M148.83 213.17h0M158.02 198.93h0M156.22 208.3h0M138.31 211.29h0M156.4 195.85h0M109.04 210.37h0M165.38 201.97h0M146.1 216.16h0M140.93 205.24h0M150.23 221.52h0M148.84 212.4h0M158.27 226.83h0M124.14 217.69h0M122.78 205.47h0M140.39 227.23h0M150.11 233.84h0M164.54 203.73h0" stroke="#fff" stroke-width="1.6" stroke-linecap="round" fill="none"/>
<path d="M105.49 221.26L106.76 222.26L108.25 222.9L110.1 223.7L111.58 224.72L113.22 225.07L114.57 225.67L114.51 228.67L112.78 229.54L112.03 231.14L110.55 232.19L108.91 232.13L107.46 231.11L105.92 230.11L106.54 228.23L106.35 226.32L105.63 223.54Z" fill="#45b8ae"/>
<path d="M103.9 219.86h0M108.46 222.41h0M110.65 222.69h0M112.45 222.73h0M113.29 224.85h0M112.34 231.4h0M105.04 228.06h0M105.74 226.44h0" stroke="#45b8ae" stroke-width="1.35" stroke-linecap="round" fill="none"/>
<path d="M99.84 202.61L100.06 203.93" stroke="#45b8ae" stroke-width="1.1" stroke-linecap="round" stroke-linejoin="round" fill="none"/>
<path d="M99.54 202.69h0M99.68 203.36h0" stroke="#45b8ae" stroke-width="1.3" stroke-linecap="round" fill="none"/>
<path d="M103.79 171.21L105.57 172.39L107.42 173.16L109.54 173.05L110.63 171.83L112.09 171.1L113.15 170.92L115.1 171.08L117.21 170.3L118.48 171.29L119.64 173.12L121.2 174.33L122.84 174.89L124.46 175.49L125.91 177.35L127.88 177.33L129.59 175.68L131.71 175.94L130.13 176.92L128.41 177.77L127.65 179.57L125.96 180.77L124.91 182.41L126.87 182.48L128.01 184.48L129.6 185.42L131.65 185.09L133.4 186.46L135.36 186.57L137.34 186.51L139.49 186L141.14 187.61L143.03 187.44L141.44 188.33L139.56 188.43L138.03 189.46L136.38 190.61L134.69 189.82L132.9 190.55L131.24 189.34L129.52 189.08L127.71 189.9L125.82 189.4L123.81 190.04L122.03 188.39L120.13 189.34L118.18 189.65L116.13 189.58L114.79 189.85L113.13 189.09L111.96 187.96L111.4 186.37L109.96 184.92L108.18 183.36L109.27 181.5L110.5 179.56L109.36 177.82L107.55 176.72L106.02 175.89L103.95 175.07Z" fill="#f79d27"/>
<path d="M105.8 171.96h0M107.5 172.7h0M109.58 170.45h0M114.9 169.8h0M120.12 172.69h0M121.49 173.81h0M122.92 174.66h0M124.62 175.3h0M128.99 174.03h0M132.94 175.4h0M130.36 177.33h0M128.92 178.24h0M126.49 181.29h0M127.54 181.48h0M128.85 183.7h0M131.7 184.9h0M135.37 185.41h0M137.25 185.86h0M141.76 186.09h0M141.81 189.62h0M139.68 188.79h0M129.87 191.27h0M123.64 190.67h0M121.77 189.76h0M120.4 190.14h0M118.2 190.09h0M111.51 188.25h0M110.11 187.22h0M109.16 179.53h0M108 179.23h0M105.46 177.13h0M103.46 175.31h0" stroke="#f79d27" stroke-width="1.35" stroke-linecap="round" fill="none"/>
<path d="M134.11 186.24h0M134.24 188.78h0M116.48 176.94h0M119.99 185.09h0M131.4 187.98h0M115.87 187.19h0M119.78 181.5h0M115.96 172.53h0M111.79 184.63h0M112.64 181.45h0M119.25 175.47h0M128.63 188.89h0M110.46 175.38h0M115.6 180.95h0M122.68 188.43h0M126.77 185.91h0M112.44 183.34h0M113.89 177.76h0M113.93 174.96h0M116.47 178.41h0M117.87 176.59h0M111.77 186.61h0M123.45 181.38h0M108.3 176.49h0M118.59 171.43h0M137.81 188.33h0M110.45 177.03h0M136 186.87h0M118.72 188.96h0M113.93 181.64h0M118.73 172.06h0M109.03 175.65h0M124.38 187.29h0M113.21 173.01h0M107.13 174.46h0M113.15 181.95h0M124.57 176.91h0M120.37 180.96h0M136.81 190h0M126.11 178.92h0M112.79 185.83h0M112.4 184.38h0M122.98 178.67h0M122.22 180.8h0M115.84 172.16h0M110.44 179.01h0M117.41 180.15h0M124.59 177.89h0M114.77 177.15h0M116.27 185.05h0M123.14 186.13h0M111.8 177.49h0M119.43 177.83h0M126.39 189.51h0M124.76 181.8h0M118.42 183.03h0M114.86 188.6h0M118.23 175.61h0M114.36 179.88h0M111.97 186.12h0M113.84 173.08h0M126.32 187.49h0M114.07 188.67h0M127.73 187.44h0M110.17 174.89h0M126.66 179.34h0M115.86 186.89h0M119.01 179.13h0M113.8 185.07h0M124.1 185.92h0M111.01 175.68h0M124.03 180.94h0" stroke="#fff" stroke-width=".8" stroke-linecap="round" fill="none"/>
<path d="M121.27 176.65h0M105.73 175.36h0M128.79 189.62h0M141.91 187.51h0M108.34 174.4h0M128.3 187.38h0M114.1 187.56h0M108.16 174.53h0M107.88 175.11h0M125.99 187.33h0M118.21 178.82h0M122.35 184.45h0M116.07 182.15h0M113.77 180.35h0" stroke="#fff" stroke-width="1.6" stroke-linecap="round" fill="none"/>
<path d="M140.2 173.85L141.63 172.72L141.78 170.73L143.14 169.55L144.22 168.34L145.75 167.78L146.72 166.12L148.11 165.29L150.17 164.49L151.32 166.28L152.8 167.22L154.92 167.07L154.39 169.01L156.33 170.16L156.05 171.69L157.81 171.24L159.12 170.12L160.54 168.75L161.96 169.99L163.63 169.95L165.7 169.72L166.51 171.12L167.34 172.51L168 174.58L169.98 174.86L171.72 175.16L172.71 176.73L174.77 177.24L176 178.65L177.23 180.02L177.25 181.87L178.45 183.9L176.79 185.09L175.91 186.74L174.68 188.01L173.59 189.24L172.82 190.88L171.07 191.19L169.63 190.02L167.91 190.32L166.63 189.87L164.81 189.13L163.67 187.7L162.42 186.37L160.65 186.05L159.55 184.85L158.1 182.92L156.76 183.8L156.2 185.73L154.77 186.56L152.89 187.61L150.84 188.33L149.4 187.19L147.65 187.6L145.67 187.85L144.64 186.55L143.95 184.78L142.48 183.87L139.93 184.16L138.25 182.54L139.12 181.02L138.34 179.3L138.18 177.48L138.96 175.59Z" fill="#f79d27"/>
<path d="M141.21 170.46h0M142.74 169.14h0M143.58 167.4h0M147.47 163.94h0M155.48 166.58h0M154.95 168.76h0M157.27 169.58h0M157.08 170.29h0M162.2 169.38h0M166.22 168.45h0M167.11 170.77h0M169.04 173.41h0M171.91 174.88h0M173.34 175.81h0M175.62 175.79h0M177.3 177.51h0M178.19 179.64h0M178.97 181.33h0M178.81 183.95h0M177.58 185.79h0M174.94 188.25h0M175.62 190.55h0M170.97 191.57h0M166.32 190.69h0M164.01 190.21h0M161.95 187.24h0M159.63 188h0M159.15 185.18h0M157.59 184.27h0M157.76 184.48h0M156.47 185.93h0M149.24 187.92h0M142.34 184.77h0M137.96 182.61h0M136.82 180.95h0M137.88 179.42h0" stroke="#f79d27" stroke-width="1.35" stroke-linecap="round" fill="none"/>
<path d="M157.66 179.4h0M152.45 183.06h0M159.43 178.15h0M148.54 171.02h0M164.79 174.08h0M152.51 167.16h0M168.43 174.68h0M175.87 182.02h0M153.68 176.27h0M162.35 178.92h0M172.59 188.49h0M169.07 182.06h0M152.69 177.51h0M160.48 184.43h0M144.54 184.97h0M169.54 189.85h0M166.62 179.45h0M170.87 186.18h0M163.16 182.61h0M145.37 174.02h0M151.17 187.55h0M140.76 173.74h0M152.49 175.31h0M172.08 179.07h0M163.22 176.66h0M149.27 178.88h0M144.1 178.39h0M169.86 176.45h0M140.11 182.11h0M144.09 171.99h0M154.97 184.86h0M155.51 176.09h0M154.21 178.76h0M145.84 168.67h0M159.98 174.35h0M165.04 174.69h0M155.42 173.47h0M159.39 172.52h0M164.76 175.92h0M166.28 172.8h0M156.35 179.7h0M166.69 182.18h0M145.58 169.99h0M164.46 174.08h0M148.03 169.98h0M144.03 182.95h0M161.16 171.75h0M170.32 182.78h0M155.25 181.02h0M164.25 176.68h0M141.95 174.7h0M168.88 187.69h0M153.06 174.89h0M158.58 171.78h0M146.61 168.56h0M165.45 178.46h0M172.84 189.77h0M172.82 181.23h0M162.79 176.56h0M155.1 169.01h0M159.96 172.36h0M149.93 180.21h0M149.26 186.82h0M146.58 182.06h0M160.23 173.68h0M141.49 177.87h0M146.35 170.04h0M150.39 186.08h0M147.49 181.7h0M166.29 178.14h0M142.78 177.52h0M160.32 176.15h0M173.18 180.29h0M152.03 172.61h0M171.53 175.06h0M162.14 179.58h0M164.13 181.15h0M171.3 177.59h0M146.89 175.78h0M141.29 180.32h0M146.98 183.46h0M145.18 183.15h0M162.71 183.72h0M165.29 175.55h0M173.62 186.67h0M168.47 180.82h0M151.68 186.59h0M165.13 187.05h0M169.99 177.04h0M153.93 185.9h0M164.17 179.25h0M147.21 168.7h0M168.08 182.84h0M154.53 180.72h0M158.36 179.25h0M156.57 175.93h0M165.66 189.36h0M168.37 179.34h0M152.28 167.76h0M141.97 179.24h0M173.07 187.74h0M145.57 184.7h0M170.19 177.7h0M151.57 178.59h0M167.02 176.89h0M150.26 187.76h0M153.8 176.13h0M147.16 177.78h0M166.21 174.62h0M164.47 178.04h0M149.7 179.41h0M149.05 178.51h0M145.21 173.18h0M147.53 180.75h0M142.78 178.74h0M159.98 173.26h0M167.73 181.23h0M174.23 181.01h0M145.55 170.04h0M166.11 186.29h0M140.8 176.06h0M149.49 177.37h0M172.77 179.77h0M167.71 185.1h0M149.29 181.3h0M153.14 177.55h0M159.27 182.56h0M144.68 173.36h0M143.22 174.51h0M141.66 177.47h0M151.99 184.42h0M174.54 188.48h0M160.63 178.92h0M145.04 173.56h0M147.02 170.32h0M162.57 173.65h0M168.63 180.12h0M171.77 178.42h0M163.28 171.42h0M165.8 175.78h0M166.81 180.41h0M143.86 173.04h0M163.27 179.4h0M166.54 173.77h0M157.16 177.62h0M158.47 171.97h0M161.59 171.96h0M146.47 171.24h0M173.07 184.34h0M148.94 179.62h0M158.81 178.09h0M164.8 172.74h0M174.24 181.41h0M166.41 187.58h0M169.98 183.07h0M176.17 180.12h0" stroke="#fff" stroke-width=".8" stroke-linecap="round" fill="none"/>
<path d="M167.34 182.65h0M154.13 178.19h0M158.37 170.83h0M148.63 187.18h0M171.73 183.35h0M165.51 178.48h0M160.95 182.54h0M148.39 186.64h0M169.83 187.79h0M153 176.93h0M175.86 179.38h0M165.11 170.21h0M166.38 173.49h0M171.2 185.68h0M161.26 183.17h0M151.75 168.54h0M151.16 184.45h0M147.83 177.57h0M167.91 185.88h0M150.78 179.31h0M150.56 176.18h0M150.79 182.17h0M173.16 183.13h0M166.86 178.38h0M161.94 185.65h0M168.98 182.71h0M140.8 177.66h0M148.94 181.02h0M154 177.07h0M159.56 180.51h0M149.18 170.01h0" stroke="#fff" stroke-width="1.6" stroke-linecap="round" fill="none"/>
<path d="M171.39 161.99L172.38 159.98L173.92 159.03L175.97 159.53L177.84 158.86L179.63 157.63L181.47 157.47L183.33 156.69L185.44 156.06L187.14 157.16L188.78 157.46L189.89 156.41L189.36 159.45L187.04 159.62L185.19 161.05L184.03 162.78L182.91 164.4L181.1 165.9L180.32 167.54L179.08 168.82L178.42 169.63L177.41 168.21L176.27 166.55L174.13 166.63L172.38 165.52L172.76 162.93Z" fill="#f79d27"/>
<path d="M175.94 159h0M178.62 155h0M181.22 156.51h0M187.73 155.77h0M188.49 156.41h0M187.38 160.51h0M180.57 167.72h0M176.36 168.94h0M173.91 167.49h0M171.48 165.86h0M172.5 163h0" stroke="#f79d27" stroke-width="1.35" stroke-linecap="round" fill="none"/>
<path d="M184.92 159.37h0M180.85 164.42h0M182.22 162.76h0M180.87 165.83h0M177.1 161.33h0M180.52 160.52h0M178.21 165.99h0M188.87 158.71h0M178.29 168.38h0M179.07 161.28h0M180 166.37h0M185.82 158.92h0M174.93 161.14h0M174.48 162.97h0M173.6 165.36h0M178.98 159.88h0M184.27 160.98h0M176.72 160.11h0" stroke="#fff" stroke-width=".8" stroke-linecap="round" fill="none"/>
<path d="M184.47 158.53h0M176.52 162.26h0M174.52 159.81h0" stroke="#fff" stroke-width="1.6" stroke-linecap="round" fill="none"/>
<path d="M179.93 166.02L181.63 164.65L182.87 164.5L183.69 166.36L184.31 168.29L186.25 169.91L186.34 171.87L185.77 173.95L186.94 176.52L184.68 176.26L184.1 177.35L182.79 176.32L181.22 175.5L181.39 173.69L179.74 172.42L179.72 170.7L178.81 169.02L179.83 167.17Z" fill="#f79d27"/>
<path d="M178.6 165.08h0M181.07 163.56h0M184.01 166.24h0M187.28 171.99h0M187.87 176.95h0M180.88 175.68h0M180.23 174.24h0M178.43 173.15h0M178.16 166.55h0" stroke="#f79d27" stroke-width="1.35" stroke-linecap="round" fill="none"/>
<path d="M185.94 173.01h0M183.02 174.62h0M182.83 164.7h0M183.24 169.84h0M181.73 169.57h0M180.92 168.46h0" stroke="#fff" stroke-width=".8" stroke-linecap="round" fill="none"/>
<path d="M184.67 176.19h0" stroke="#fff" stroke-width="1.6" stroke-linecap="round" fill="none"/>
<path d="M189.37 164.33L190.84 163.33L192.7 164.28L194.2 163.29L194.92 164.81L195.31 166.4L194.95 168.2L195.56 170.3L197.52 172.65L195.73 173.09L193.98 174.08L192.92 172.24L191.95 170.81L190.68 169.35L190.49 167.58L189.16 166.13Z" fill="#f79d27"/>
<path d="M192.7 163.89h0M196.48 164.26h0M195.54 166.4h0M196.6 168.09h0M196.15 174.14h0M193.87 174.44h0M190.56 171.88h0M189.44 168.08h0M188.06 166.51h0" stroke="#f79d27" stroke-width="1.35" stroke-linecap="round" fill="none"/>
<path d="M192.58 170.37h0M193.28 171.72h0M190.97 164.83h0M191.05 167.73h0" stroke="#fff" stroke-width=".8" stroke-linecap="round" fill="none"/>
<path d="" stroke="#fff" stroke-width="1.6" stroke-linecap="round" fill="none"/>
<path d="M194.23 170.63L196.23 170.54L198.04 171.53L199.65 171.2L201.6 171.44L203.05 170.41L204.48 170.89L206.64 170.81L208.34 172.13L210.62 172.62L212.4 171.17L214.48 172.17L216.36 171.59L218.25 170.95L220.17 171.19L221.99 172.32L223.93 172.41L226.23 171.82L226.76 173.96L227.24 175.43L226.88 177.4L225.75 178.9L225.7 181.16L223.37 181.42L222.6 182.85L221.85 183.75L220.2 185.21L218.5 186.55L216.32 186.9L214.39 185.7L212.47 186.47L210.54 186.15L208.17 187.14L206.82 185.76L205.31 184.64L203.96 183.11L202.24 182.77L200.57 182.27L198.93 181.38L197.09 182.18L195.75 182.14L194.29 181.03L192.82 178.88L195.22 178.86L197.05 177.74L196.14 175.92L195.63 174.2L194.78 172.68Z" fill="#f79d27"/>
<path d="M193.92 170.42h0M198.21 170.64h0M199.63 170.54h0M202.84 169.32h0M207.49 168.19h0M214.59 171.15h0M218.2 170.45h0M222.53 170.64h0M223.74 170.74h0M227.16 173.85h0M228.27 175.4h0M223.54 181.74h0M223.23 183.26h0M222.07 183.97h0M221.02 186.19h0M219.42 188.65h0M214.16 187.77h0M210.79 187.73h0M208.06 188.21h0M204.92 185.06h0M201.9 184.13h0M197.29 183.02h0M192.02 178.54h0M196.59 177.59h0" stroke="#f79d27" stroke-width="1.35" stroke-linecap="round" fill="none"/>
<path d="M217.3 179.02h0M197.75 177.55h0M227.2 176.26h0M197.89 177.15h0M195.29 179.97h0M201.12 173.59h0M215.29 185.18h0M213.38 178h0M205.4 178.6h0M205 183.88h0M221.31 183.04h0M210.26 178.21h0M222.45 171.96h0M210.24 177.45h0M207.28 178.15h0M211.2 172.78h0M199.88 177.84h0M196.75 181.06h0M209.95 173.61h0M197.44 174.01h0M218.69 179.45h0M197.73 174.71h0M219.35 177.77h0M200.37 174.2h0M199.84 180.32h0M213.83 178.52h0M220.04 178.7h0M204.12 180.98h0M210.06 172.32h0M219.11 177.1h0M222.29 180.99h0M213.86 185.98h0M221.05 175.56h0M219.06 179.79h0M218.96 177.42h0M197.53 179.18h0M202.39 174.33h0M223.58 180.15h0M219.14 183.41h0M208.35 177.42h0M208.19 175.88h0M220.2 184.51h0M203.54 181.68h0M216.96 182.74h0M218.13 175.29h0M219.56 183.84h0M208.27 174.52h0M206.3 178.69h0M211.48 174.85h0M195.29 180.36h0M218.08 181.41h0M206.95 184.07h0M211.34 173.76h0M215.94 178.35h0M211.87 183.79h0M215.44 185.43h0M216.84 185.01h0M219.39 176.43h0M211.36 182.84h0M195.22 178.86h0M212.9 181.79h0M205.07 179.96h0M218.72 176.28h0M216.84 184.82h0M206.01 178.65h0M209.98 183.76h0M202.57 174.72h0M206.81 180.71h0M210.64 181.99h0M206.57 179.39h0M213.56 177.55h0M204.9 180.67h0" stroke="#fff" stroke-width=".8" stroke-linecap="round" fill="none"/>
<path d="M199.24 177.97h0M202.59 179.28h0M217.06 178.51h0M219.21 180.23h0M196.11 180.78h0M209.98 182.46h0M225.69 175.79h0M222.67 173.8h0M221.8 177.34h0M208.97 178.18h0M206.12 173.8h0M217.2 180.3h0M225.5 174.66h0M203.38 179.5h0" stroke="#fff" stroke-width="1.6" stroke-linecap="round" fill="none"/>
<path d="M154.31 157.32L157.58 158.86L162.78 159.25" stroke="#7f7828" stroke-width="1.66" stroke-linecap="round" stroke-linejoin="round" fill="none"/>
<path d="M156.51 155.81h0M154.4 158.24h0M155.24 157.27h0M155.59 157.02h0M156.62 158.14h0M154.3 157.56h0M158.15 159.08h0M159.86 158.61h0M159.45 159.32h0M162.5 161.45h0M159.75 159.31h0M160.73 159.46h0M162.2 158.85h0M158.42 159.24h0" stroke="#7f7828" stroke-width="1.3" stroke-linecap="round" fill="none"/>
<path d="M202.87 157.83L204.38 154.04L207.86 152.08L212.4 152.08L216.18 154.04L217.7 157.52L216.18 160.85L212.4 162.67L207.86 162.67L204.38 161.16Z" stroke="#f4858b" stroke-width="2.3" stroke-linecap="round" stroke-linejoin="round" fill="none"/>
<path d="M204.84 154.66h0M204.74 158.28h0M202.02 154.77h0M203.81 154.72h0M201.56 155.89h0M204.35 154.04h0M206.89 153.44h0M206.82 151.76h0M208.03 152.62h0M207.54 151.54h0M206.34 154.04h0M206.72 152.3h0M212.32 154.37h0M209.68 151.63h0M209.78 151.06h0M211.29 155.07h0M211.06 150.83h0M212.19 154.44h0M210.27 152.19h0M214.44 153.03h0M215.48 149.44h0M213.57 152.67h0M216.44 152.92h0M215.42 153.52h0M214.65 153.97h0M212.18 153.34h0M217.53 156.9h0M215.79 156.54h0M216.16 157.38h0M216.96 155.71h0M217.21 156.65h0M216.38 157.17h0M216.64 158.55h0M215.4 160.09h0M216.46 160.74h0M216.12 158.22h0M216.82 158.87h0M216.7 159.26h0M213.67 164.62h0M214.44 162.78h0M212.27 162.38h0M212.53 160.54h0M215.34 163.17h0M213.55 163.87h0M209.13 162.95h0M210.07 164.04h0M210.75 161.36h0M207.95 162.76h0M209.55 165.24h0M211.6 162.28h0M208.9 161.49h0M205.47 162.82h0M205.51 161.03h0M205.9 163.67h0M205.82 159.92h0M204.37 161.22h0M205.88 164.56h0M203.52 159.44h0M202.3 159.51h0M205.79 158.97h0M204.24 157.26h0M202.01 158.89h0M204.74 159.54h0" stroke="#f4858b" stroke-width="1.3" stroke-linecap="round" fill="none"/>
<path d="M217.85 150.42L219.04 149.09L219.87 147.4L221.25 147.05L223.62 146.6L225.08 147.63L226.74 147.16L228.2 146.3L230 145.92L230.67 144.33L232.27 142.97L233.9 144.36L235.85 144.97L238.19 144.98L240.45 144.55L242.58 143.34L245.07 143.31L246.39 145.02L248.14 146.55L246.79 148.21L246.13 149.64L244.84 150.84L243.47 151.87L241.5 152.37L241.2 154.44L240.16 156.24L239.32 158.48L238.93 161.18L236.58 161.04L234.18 161.91L232.29 160.94L230.6 159.48L228.84 158.48L226.53 159L224.85 157.51L222.93 156.41L220.97 155.4L219.15 154.07L217.92 152.36Z" fill="#f4858b"/>
<path d="M217.18 150.19h0M220.8 144.94h0M223.85 145.13h0M225.26 146.63h0M226.35 146.25h0M229.54 145.35h0M229.89 143.73h0M232.28 142.09h0M234.26 143.72h0M238.15 144.52h0M242.26 142.16h0M247.55 143.92h0M247.29 148.53h0M246.45 149.88h0M241.91 152.73h0M241.81 154.65h0M240.49 156.39h0M231.27 162.43h0M230.42 159.73h0M228.76 159.16h0M226.29 159.96h0M220.33 156.44h0M218.68 154.53h0M217.57 152.49h0" stroke="#f4858b" stroke-width="1.35" stroke-linecap="round" fill="none"/>
<path d="M232.15 148.61h0M235.19 157.49h0M221.19 152.28h0M223.37 155.19h0M238.21 147.47h0M224.67 148.96h0M229.62 151.75h0M223.79 151.81h0M246.47 145.11h0M229.63 147h0M243.27 148.93h0M232.44 144.4h0M238.59 152.79h0M240.22 148.22h0M225.29 154.31h0M239.5 152.41h0M234.47 157.49h0M238.44 151.99h0M241.65 150.92h0M227.42 153.19h0M235.46 151.63h0M242.47 148.04h0M232.97 153.32h0M242.28 151.59h0M234.54 156.9h0M240.09 154.76h0M245.36 144.47h0M236.95 147.44h0M222.97 153.26h0M231.48 151.89h0M229.83 146.48h0M231.72 146.42h0M237.37 157.19h0" stroke="#fff" stroke-width=".8" stroke-linecap="round" fill="none"/>
<path d="M232.31 159.63h0M243.39 151.38h0M233.18 158.86h0M229.19 148.09h0M227.05 149.85h0M230.83 145.37h0" stroke="#fff" stroke-width="1.6" stroke-linecap="round" fill="none"/>
<path d="M247.2 142.7L250.23 138.91L254.01 141.94" stroke="#f4858b" stroke-width="1.47" stroke-linecap="round" stroke-linejoin="round" fill="none"/>
<path d="M248.68 141.61h0M247.49 141.12h0M250.34 139.17h0M246.8 140.7h0M247.05 142.11h0M249.99 140.04h0M250 139.76h0M247.74 140.47h0M253.74 141.85h0M253.23 142.38h0M253.49 140.48h0M253.42 140h0M253.21 141.09h0M251.11 139.32h0M252.39 140.44h0M250.91 138.88h0" stroke="#f4858b" stroke-width="1.3" stroke-linecap="round" fill="none"/>
<path d="M250.23 138.91L249.17 133.62L250.98 129.38L254.77 127.57L258.55 128.47L257.94 132.86" stroke="#f4858b" stroke-width="1.56" stroke-linecap="round" stroke-linejoin="round" fill="none"/>
<path d="M249.85 133.51h0M249.9 134.94h0M249.56 136.7h0M248.51 135.91h0M251.16 136.94h0M250.82 138.67h0M250.58 135.28h0M248.95 134.74h0M250.39 134.36h0M248.36 132.64h0M249.71 133.37h0M249.88 133.08h0M251.36 129.86h0M250.55 132.81h0M250.8 129.6h0M248.79 131.93h0M253.49 129.08h0M254.13 126.76h0M253.44 129.2h0M251.06 129.11h0M250.93 128.13h0M253.62 128.63h0M258.03 127.67h0M257.94 128.34h0M256.59 128.91h0M258.73 127.5h0M254.95 128.12h0M258.27 128.01h0M258.26 131.38h0M258.46 129.34h0M257.23 129.03h0M259.17 132.62h0M257.94 132.78h0M256.59 131.79h0M258.23 132.63h0" stroke="#f4858b" stroke-width="1.3" stroke-linecap="round" fill="none"/>
<path d="M266.87 144.21L271.41 144.97L276.71 147.99L282 152.08" stroke="#f4858b" stroke-width="3.13" stroke-linecap="round" stroke-linejoin="round" fill="none"/>
<path d="M270.25 143.4h0M270.2 143.97h0M268.68 143.6h0M267.77 142.79h0M269.37 142.48h0M268.09 142.87h0M271.41 143.15h0M275.53 145.67h0M271.76 146.81h0M273.95 148.1h0M270.88 148.17h0M274.91 146.45h0M271.87 147.16h0M273.12 142.63h0M273.09 147.9h0M271.35 145.1h0M272.46 144.44h0M277.34 150.37h0M279.48 149.34h0M281.23 151.21h0M281.01 150.73h0M277.93 147.25h0M276.75 151.41h0M279.17 150.34h0M282.48 149.8h0M276.92 148.19h0M277.17 148.86h0M281.01 152.26h0" stroke="#f4858b" stroke-width="1.3" stroke-linecap="round" fill="none"/>
<path d="M282 152.08L285.48 156.31L286.84 161.61" stroke="#f4858b" stroke-width="1.84" stroke-linecap="round" stroke-linejoin="round" fill="none"/>
<path d="M284.48 150.43h0M284.25 153.12h0M283.63 154.68h0M282.96 153.67h0M283.19 153.72h0M283.14 156.07h0M281.04 154.15h0M283 152.49h0M281.42 155.03h0M283.51 156.96h0M285.33 160.26h0M286.9 160.69h0M284.96 156.99h0M286.05 160.43h0M286 160.22h0M286.79 160.29h0M285.03 160.39h0M286.18 161.49h0" stroke="#f4858b" stroke-width="1.3" stroke-linecap="round" fill="none"/>
<path d="M278.67 156.31L283.06 157.22" stroke="#f4858b" stroke-width="1.47" stroke-linecap="round" stroke-linejoin="round" fill="none"/>
<path d="M279.64 157.04h0M279.58 157.81h0M282.49 157.86h0M281.58 155.12h0M283.14 156.22h0M280.12 157.52h0M280.45 157.88h0" stroke="#f4858b" stroke-width="1.3" stroke-linecap="round" fill="none"/>
<path d="M250.28 159.43L251.87 157.8L253.86 157.37L255.53 157.8L256.61 158.52L256.39 160.29L256.28 162.08L255.9 164.26L257.85 165.33L259.37 166.78L260.76 167.77L262.56 168.7L261.11 169.47L259.95 170.61L258.36 170.98L256.58 172.01L254.88 172.39L252.96 172.18L250.83 172.59L249.26 171.04L247.17 170.8L244.27 170.05L245.31 168.76L246.42 167.57L247.59 166.76L248.2 164.81L248.92 163.01L249.97 161.26Z" fill="#9069d2"/>
<path d="M253.86 156.14h0M256.42 155.68h0M257.1 158.36h0M256.89 163.79h0M258.32 164.69h0M261.13 167.17h0M264.9 168.22h0M261.62 170.17h0M258.54 171.41h0M257.09 173.27h0M254.89 172.68h0M253.01 173.28h0M247.12 171.06h0M243.02 171.19h0M244.5 168.06h0M245.75 166.81h0M247.41 166.64h0M247.89 162.5h0M249.45 161.06h0" stroke="#9069d2" stroke-width="1.35" stroke-linecap="round" fill="none"/>
<path d="M254.34 162.86h0M254.07 163.58h0M255.54 171.11h0M255.05 169.05h0M251.25 162.22h0M256.71 166.09h0M250.41 168.05h0M255.79 162.3h0M257.31 168.39h0M245.36 169.92h0M248.83 168.48h0M253.05 164.13h0M260.18 169.89h0M253.87 172.69h0" stroke="#fff" stroke-width=".8" stroke-linecap="round" fill="none"/>
<path d="M253.86 157.93h0M254.71 161.38h0" stroke="#fff" stroke-width="1.6" stroke-linecap="round" fill="none"/>
<path d="M266.14 168.58L268.39 168.09L270.47 167.89L271.63 169.03L273.32 169.5L274.6 170.62L274.65 172.68L276.56 173.96L276.16 176.05L276.57 178.05L276.91 180.06L277.28 181.99L276.95 184.05L277 186.21L275.52 187.73L274.77 189.67L273.56 191.23L272.06 192.31L269.83 193.19L267.62 194.07L265.45 195.05L263.03 195.28L260.82 194.49L258.33 193.58L256.58 194.71L255.19 195.79L253.92 197.89L253.11 200.15L252.68 202.52L251.17 204.45L251.17 206.34L250.46 207.88L248.99 209.03L248.61 210.73L248.4 212.52L246.94 213.6L246.23 215.1L245.02 216.2L244.19 217.67L241.88 217.82L239.77 218.18L237.77 217.69L236.35 216.03L236.3 214.05L237.53 212.46L238.91 210.82L240.56 209.19L239.18 207.99L238.96 206.08L237.25 205.71L235.96 204.29L232.8 204.03L231.46 202.93L229.45 202.93L228.4 201.18L226.54 200.78L224.85 199.52L223.07 198.47L221.07 197.99L219.21 197.77L217.32 197.44L215.63 197.57L213.96 198.01L212.55 198.62L212.69 200.76L214.24 202.13L215.57 203.84L217.14 205.45L217.05 207.43L217.83 208.93L219.6 209.99L221.39 211.02L223.63 210.9L225.62 212.42L224.74 214.65L224.03 217.22L222.4 218.19L220.7 218.95L218.56 220.11L215.78 220.27L214.5 218.52L213.19 216.75L211.27 216.08L209.99 215.48L209.93 211.79L211.85 211.11L213.78 210.76L214.34 208.9L214.31 207.22L214.11 204.77L212.54 203.19L212.36 201.26L211.54 199.33L213.3 198.07L214.64 196.26L216.81 195.34L219.2 195.48L220.94 195.99L222.7 196.23L224.72 195.23L226 196.45L227.49 197.24L228.68 198.47L230.25 199.4L231.68 200.52L233.76 200.42L235.65 202.31L238.32 202.62L239.16 201.23L240.06 199.88L241.53 198.74L241.33 196.38L241.71 194.17L240.86 191.98L241.66 189.86L242.16 188.22L243.16 186.82L243.65 185.25L244.99 183.81L246.45 182.46L246.8 180.36L248.25 178.75L248.59 176.42L250.44 175.58L252.63 174.83L254.56 176.62L257 176.63L259.15 175.52L261.46 175.08L262.75 174.11L264.16 173.29L264.92 172.11L265.69 170.3Z" fill="#9069d2"/>
<path d="M265.23 167.47h0M268.36 167.86h0M276.22 169.94h0M275.74 172.05h0M277.25 173.65h0M277.6 176.05h0M276.96 177.98h0M278.12 181.98h0M278.87 186.93h0M275.2 189.91h0M272.4 192.95h0M270.5 194.88h0M265.94 196.9h0M262.96 195.84h0M258.36 194.25h0M256.93 195.2h0M255.39 195.97h0M255.17 198.49h0M252.73 206.66h0M250.95 208.27h0M250.63 211.07h0M247.06 215.72h0M246.42 217.31h0M239.74 219.02h0M237.16 218.65h0M235.68 216.3h0M238.36 208.41h0M238 206.89h0M237.06 206.05h0M232.51 205h0M231.27 203.49h0M227.86 201.91h0M226.11 201.7h0M219.16 198.12h0M217.21 199.32h0M215.77 198.42h0M214.63 201.77h0M215.89 203.55h0M217.78 207.29h0M221.71 209.6h0M223.77 210.46h0M227.73 211.79h0M225.56 214.92h0M224.74 217.68h0M221.48 220.51h0M218.71 220.69h0M213.79 219.05h0M210.74 217.41h0M209.17 211.47h0M211.58 210.11h0M213.54 210.49h0M212.82 208.68h0M212.8 205.34h0M211.25 203.83h0M209.3 198.67h0M212.85 197.61h0M213.46 194.75h0M216.65 194.39h0M224.73 194.97h0M226.87 195.25h0M229.41 194.7h0M229.59 197.3h0M231 198.29h0M234.19 199.46h0M238.2 202.23h0M238.26 200.65h0M240.67 198.43h0M240 196.32h0M239.82 194.38h0M240.05 191.99h0M241.3 189.73h0M240.59 187.44h0M244.48 183.3h0M247.77 178.53h0M249.87 174.12h0M256.9 176.19h0M262.27 173.39h0M263.19 171.23h0" stroke="#9069d2" stroke-width="1.35" stroke-linecap="round" fill="none"/>
<path d="M271.31 190.32h0M251.04 188.96h0M257.72 181.17h0M210.45 212.78h0M273 186.98h0M237.41 213.36h0M271.66 179.71h0M253.67 196.15h0M262.19 177.28h0M256.78 187.02h0M247.69 186.87h0M261.28 190.26h0M219.76 213.25h0M220.07 196.87h0M265.96 189.68h0M266.13 183.91h0M245.7 196.38h0M252.47 176.68h0M248.23 183.08h0M247.46 181.83h0M271.8 186.02h0M249.24 179.18h0M230.15 199.24h0M219.43 196.18h0M249.76 200.3h0M246.82 190.35h0M273.72 187.08h0M246.2 208.01h0M258.58 177.64h0M261.96 179.34h0M272.24 178.17h0M248.01 182.5h0M271.47 181h0M249.92 185.27h0M246.86 201.88h0M215.56 214.92h0M271.59 186.01h0M271.86 178.82h0M268.94 181.31h0M248.2 183.42h0M274.91 182.29h0M273.15 190.65h0M222.44 197.46h0M269.09 186.9h0M241.33 199.97h0M275.53 186.86h0M246.38 189.26h0M262.93 176.44h0M247.84 185.33h0M216.17 196.55h0M245.21 196.33h0M244.26 185.99h0M260.84 191.24h0M251.84 190.12h0M217.6 196.31h0M272.76 170.32h0M275.73 184.3h0M243.6 210.35h0M252.02 191.66h0M249.24 202.42h0M242.22 193.36h0M242.1 197.61h0M257.72 177.86h0M241.48 202.9h0M261.43 188.17h0M223.31 214.13h0M248.99 189.38h0M268.78 175.18h0M252.21 179.83h0M273.93 187.65h0M238.71 215.63h0M263.66 182.49h0M233.86 203.71h0M265.23 193.97h0M254.26 180.27h0M262.41 177.85h0M242.59 211.2h0M264.28 179.57h0M242.22 198.42h0M245.3 185.71h0M215.18 206.4h0M261.98 190.36h0M215.44 205.86h0M253 183.25h0M259.84 177.34h0M247.97 182.56h0M256.1 194.01h0M236.27 204.47h0M260.28 187.7h0M262.51 189.99h0M243.1 214.55h0M249.95 180.68h0M251.9 185.48h0M253.62 175.62h0M222.22 213.82h0M240.92 209.52h0M250.04 188.2h0M258.47 191.61h0M250.35 185.65h0M218.81 218.62h0M271.62 186.75h0M246.08 202.77h0M258.52 192.96h0M245.08 204.32h0M245.18 193.71h0M254.98 189.67h0M276.22 178.84h0M256.72 187.63h0M268.15 182.23h0M247.81 191.66h0M264.53 173.31h0M256.17 176.83h0M215.34 212.97h0M244.47 191.18h0M222.24 213.28h0M220.04 217.41h0M235.08 204.1h0M276.12 185.57h0M243.39 190.69h0M263 179.33h0M240.08 213.94h0M264.48 187.76h0M212.29 212.21h0M228.84 197.88h0M254.07 182.58h0M244.46 185.02h0M272.2 178.59h0M216.05 215.05h0M272.77 178.45h0M249.28 199.18h0M247.8 181.6h0M220.47 217.39h0M250.67 197.12h0M268.79 170.97h0M249.99 188.25h0M272.07 179.83h0M258.47 190.07h0M214.41 215.38h0M268.05 168.94h0M220.26 215.4h0M265.14 182.9h0M255.87 187.04h0M274.09 172.62h0M270.72 181.94h0M276 174.56h0M242.62 207.31h0M245.76 214.86h0" stroke="#fff" stroke-width=".8" stroke-linecap="round" fill="none"/>
<path d="M264.72 181.01h0M253.53 193.22h0M268.42 190.12h0M245.1 185.89h0M217.58 214.39h0M264.27 191.12h0M249.04 185.06h0M214.68 204.4h0M240.03 215.4h0M246.96 200h0M252.51 199.89h0M213.49 214.33h0M251.08 201.41h0M267.05 187.84h0M269.24 168.87h0M238.02 213.24h0M244.2 205.06h0M221.64 214.56h0M260.79 190.76h0M267.12 182.61h0M275.41 180.32h0M272.02 183.32h0M266.71 177.16h0M261.51 177.9h0M213.94 203.01h0M231.77 202.6h0M260.01 187.54h0M223.04 214.15h0M254.57 185.89h0" stroke="#fff" stroke-width="1.6" stroke-linecap="round" fill="none"/>
<path d="M182.41 193.65L183.86 191.52L186 191.29L188 190.97L190 191.31L191.71 191.02L193.72 190.94L194.8 192.53L197.36 192.86L196.44 195.07L197.7 196.91L197.91 199.1L197.25 201.06L196.68 203.05L195.71 204.42L194.6 206.36L193.01 207.35L191 207.56L189.05 206.77L187.06 206.42L185.33 206.71L183.19 206.23L182.91 204.12L181.89 202.97L181.29 201L182 198.93L180.49 196.87L181.01 194.88Z" fill="#7f7828"/>
<path d="M180.49 192.02h0M188 190.33h0M194.55 189.25h0M194.98 192.18h0M196.81 195.03h0M198.07 196.78h0M197.58 201.17h0M197.22 203.29h0M196.1 204.66h0M188.67 208.1h0M187.05 206.89h0M182.35 207.01h0M181.58 203.13h0M180.2 200.97h0M180.54 194.6h0" stroke="#7f7828" stroke-width="1.35" stroke-linecap="round" fill="none"/>
<path d="M187.86 209.68L188.9 211.13L190.13 212.41L191.5 213.75L191.32 215.71L192.49 217L192.45 218.9L193.76 220.12L195.04 221.67L195.36 223.69L197.1 225.01L196.99 226.94L197.15 228.99L196.9 231.31L195.16 229.86L192.91 229.95L191.07 228.83L189.81 227.62L188.27 227.09L186.39 227.38L184.9 227.07L183.11 226.49L181.22 226.48L179.2 225.54L178.75 223.82L178.49 221.66L179.86 220.4L180.95 218.97L182.51 217.84L183.38 216.28L184.72 214.95L185.81 213.42L186.53 211.62Z" fill="#7f7828"/>
<path d="M187.69 208.83h0M189.37 210.74h0M192.25 215.43h0M192.81 216.89h0M192.99 218.68h0M194.09 219.81h0M197.2 226.93h0M198.01 229.01h0M197.31 232.26h0M192.79 230.43h0M190.62 229.44h0M186.39 227.8h0M184.5 228.54h0M182.94 227.53h0M181.17 226.68h0M178.89 225.83h0M178.01 223.96h0M178.64 219.3h0M181.58 214.9h0M183.04 213.52h0M185.79 211.21h0" stroke="#7f7828" stroke-width="1.35" stroke-linecap="round" fill="none"/>
<path d="M185.53 212.76h0M189.27 226.75h0M187.4 220.95h0M186.78 218.52h0M192.73 228.24h0M186.86 214.25h0M187.84 216.42h0M183.76 226.22h0M185.46 223.13h0M193.45 226.27h0M192.04 222.81h0M182.22 220.53h0M194.41 226.47h0M189.93 223.25h0M183.69 218.39h0M191.95 224.63h0M195.03 229.53h0M184.02 215.23h0M189.64 220.31h0M183.53 226.16h0M181.54 221.23h0M184.26 222h0M181.44 220.82h0M186.39 219.38h0M185.82 213.46h0M181.27 225.27h0M190.73 224.44h0M190.81 220.78h0M188.86 219.62h0M183.83 217.92h0M190.08 215.71h0M183.33 216.38h0M186.33 223.52h0M187.08 226.64h0M186.3 215.4h0M195.55 223.37h0M192.36 220.97h0M185.46 216.26h0M195.34 227.51h0M186.73 218.04h0M187.51 210.74h0M185.33 220.67h0M195.75 223.72h0M196.5 228.06h0M180.1 222.1h0M188.97 219.83h0M181.36 221.63h0M189.61 224.92h0M186.69 217.22h0M191.79 218.13h0M193.66 223.91h0" stroke="#fff" stroke-width=".8" stroke-linecap="round" fill="none"/>
<path d="M188.88 214.37h0M182.37 224.94h0M186.72 214.99h0M191.26 215.04h0M183.93 218.79h0M190.37 216.43h0M186.44 218.97h0M182.85 216.95h0M180.9 222.93h0M182.69 220.72h0" stroke="#fff" stroke-width="1.6" stroke-linecap="round" fill="none"/>
<line x1="33.1" y1="18.5" x2="33.1" y2="255.7" stroke="#000" stroke-width="1.6"/>
<line x1="32.3" y1="254.9" x2="314" y2="254.9" stroke="#000" stroke-width="1.6"/>
<g font-size="6.3" text-anchor="middle">
<line x1="97" y1="254.9" x2="97" y2="257.1" stroke="#000" stroke-width="0.9"/>
<text x="97" y="263.5">−25</text>
<line x1="173" y1="254.9" x2="173" y2="257.1" stroke="#000" stroke-width="0.9"/>
<text x="173" y="263.5">0</text>
<line x1="249" y1="254.9" x2="249" y2="257.1" stroke="#000" stroke-width="0.9"/>
<text x="249" y="263.5">25</text>
</g><g font-size="6.3" text-anchor="end">
<line x1="30.9" y1="68.25" x2="33.1" y2="68.25" stroke="#000" stroke-width="0.9"/>
<text x="29.5" y="71.05">25</text>
<line x1="30.9" y1="131.75" x2="33.1" y2="131.75" stroke="#000" stroke-width="0.9"/>
<text x="29.5" y="134.55">0</text>
<line x1="30.9" y1="195.25" x2="33.1" y2="195.25" stroke="#000" stroke-width="0.9"/>
<text x="29.5" y="198.05">−25</text>
</g>
<text x="173.5" y="272" font-size="7.3" text-anchor="middle">tSNE_1</text>
<text x="15.1" y="136.7" font-size="7.3" text-anchor="middle" transform="rotate(-90 15.1 136.7)">tSNE_2</text>
<g font-size="7.4" text-anchor="middle">
<text x="153.5" y="124.1">0</text>
<text x="201.5" y="60.1">1</text>
<text x="130" y="211.1">2</text>
<text x="169" y="179.6">3</text>
<text x="249" y="192.6">4</text>
<text x="76.5" y="177.1">5</text>
<text x="237.5" y="153.6">6</text>
<text x="225" y="124.1">7</text>
<text x="279.5" y="118.6">8</text>
<text x="87.5" y="97.6">9</text>
<text x="187.5" y="206.6">10</text>
<text x="116" y="62.6">11</text>
<text x="264" y="86.6">12</text>
<text x="86" y="63.1">13</text>
</g>
<g font-size="6.3">
<circle cx="325.3" cy="85.9" r="2.5" fill="#cc2139"/>
<text x="333" y="88.1">0</text>
<circle cx="325.3" cy="94.04" r="2.5" fill="#2f4db0"/>
<text x="333" y="96.24">1</text>
<circle cx="325.3" cy="102.18" r="2.5" fill="#45b8ae"/>
<text x="333" y="104.38">2</text>
<circle cx="325.3" cy="110.32" r="2.5" fill="#f79d27"/>
<text x="333" y="112.52">3</text>
<circle cx="325.3" cy="118.46" r="2.5" fill="#9069d2"/>
<text x="333" y="120.66">4</text>
<circle cx="325.3" cy="126.6" r="2.5" fill="#b0eb92"/>
<text x="333" y="128.8">5</text>
<circle cx="325.3" cy="134.74" r="2.5" fill="#f4858b"/>
<text x="333" y="136.94">6</text>
<circle cx="325.3" cy="142.88" r="2.5" fill="#4687cc"/>
<text x="333" y="145.08">7</text>
<circle cx="325.3" cy="151.02" r="2.5" fill="#93d412"/>
<text x="333" y="153.22">8</text>
<circle cx="325.3" cy="159.16" r="2.5" fill="#f5e53c"/>
<text x="333" y="161.36">9</text>
<circle cx="325.3" cy="167.3" r="2.5" fill="#7f7828"/>
<text x="333" y="169.5">10</text>
<circle cx="325.3" cy="175.44" r="2.5" fill="#b84fc9"/>
<text x="333" y="177.64">11</text>
<circle cx="325.3" cy="183.58" r="2.5" fill="#cfcff6"/>
<text x="333" y="185.78">12</text>
<circle cx="325.3" cy="191.72" r="2.5" fill="#000000"/>
<text x="333" y="193.92">13</text>
</g>
</g>
<g id="panelB">
<path d="M476.17 77.52L477.33 76.16L476.92 74.04L479.03 73.15L478.76 71.02L480.7 70.68L482.78 70.67L484.09 68.85L485.98 69.32L487.5 68.15L489.21 68.94L490.82 68.74L492.36 67.72L494.21 66.57L495.29 68.81L496.99 69.06L498.91 68.55L500.77 68.25L502.15 69.69L503.33 70.94L505.52 70.49L505.69 73.41L508.19 72.44L508.79 74.51L509.96 75.95L511.34 77.15L513.06 77.9L515.31 78.02L515.66 80.43L517.76 80.89L519.28 82.02L520.24 83.78L521.95 84.68L522.63 86.95L524.04 87.95L525.68 88.63L527.8 88.61L528.84 90.15L529.99 91.29L531.55 92.09L532.29 93.55L533 95.04L535.16 95.78L535.32 97.58L534.57 99.59L535.81 101.13L536.09 102.9L537.4 104.78L536.77 106.6L535.38 108.31L536.91 110.41L534.46 111.85L534.71 113.92L535.06 116.01L533.03 117.46L533.37 119.55L531.56 120.59L532.28 122.86L531.74 124.52L530.53 125.87L530.41 127.73L528.32 128.53L528.38 130.49L527.35 131.86L526.48 133.36L525.22 134.4L524.98 136.27L524.18 137.69L522.22 138.16L521.56 139.75L519.2 139.87L519.1 142.3L517.74 143.44L516.77 145.56L514.89 145.99L512.59 145.57L511.1 146.61L509.46 147.64L507.4 146.3L505.83 147.73L504.25 147.29L502.25 146.75L500.26 146.19L498.27 147.54L496.12 146.63L494.72 147.53L493.35 148.5L492.44 150.21L489.85 149.39L488.84 151.13L487.45 152.29L486.18 154.06L484.11 154.56L482.12 155.34L479.73 154.53L478.16 155.08L476.52 155.13L475.07 156.69L473.48 157.07L471.76 155.19L470.07 155.17L468.38 155.23L466.69 155.15L464.97 155.72L463.27 155.91L461.69 154.99L460.18 154.07L458.4 154.89L456.8 154.51L455.1 154.77L453.02 155.42L451.69 154.06L450.26 152.9L448.53 152.39L446.85 151.79L446.16 149.73L443.25 150.19L441.93 148.7L440.25 147.65L438.8 146.2L438.34 144.22L437.11 142.99L436.68 142.3L436.2 139.69L438.25 138.37L439.25 136.97L439.97 135.37L441.07 134.04L441.71 132.38L443.26 131.51L444.58 130.21L445.5 128.56L446.81 127.25L447.51 125.41L449.3 124.68L448.96 121.96L450.61 121.34L452.62 121.1L453.62 119.78L454.63 118.48L455.79 117.32L457.45 116.52L457.31 113.96L458.26 112.45L460.45 112.17L461.63 110.9L463.73 110.43L465.11 109.16L466.12 107.45L467.67 106.36L468.14 103.99L470.75 104.09L472.5 103.13L472.49 100.02L474.7 99.62L476.98 99.18L478.05 97.11L480.91 95.42L478.93 94.33L477.07 93.19L476.46 91.23L476.38 89.26L476.96 87.1L476.19 85.3L476.22 83.59L474.78 81.41L475.54 79.38Z" fill="#93d412"/>
<path d="M476.81 76.05h0M483.25 66.84h0M485.91 68.96h0M487.46 67.74h0M489.26 68.65h0M491.34 66.13h0M498.84 68.21h0M501.1 67.33h0M503.52 68.4h0M506.86 69.2h0M510.11 73.84h0M513.55 75.71h0M515.62 77.7h0M520.16 81.26h0M521.56 82.46h0M522.57 84.21h0M523.97 86.09h0M526.05 86.52h0M532.08 91.55h0M532.63 93.38h0M536.58 97.77h0M536.71 102.63h0M537.81 104.71h0M537.63 107.09h0M536.09 108.28h0M534.87 112.11h0M536.95 113.6h0M536.31 116.61h0M534.74 120.19h0M532.01 120.74h0M532.51 122.85h0M530.8 125.98h0M530.74 128h0M529.6 129.47h0M530.31 131.06h0M528.06 132.33h0M526.64 133.5h0M526.02 136.6h0M524.38 137.98h0M523.84 140.22h0M520.56 141.18h0M519.41 142.43h0M520.02 145.07h0M511.41 147.07h0M509.28 149.81h0M507.42 147.23h0M506.01 148.3h0M504.15 147.63h0M501.95 147.84h0M498.47 149.42h0M495.12 150.01h0M492.97 152.27h0M491.55 153.38h0M486.44 154.44h0M484.47 155.7h0M482.12 155.63h0M479.72 154.76h0M478.23 155.49h0M477.07 156.18h0M473.35 157.36h0M470.72 157.04h0M468.37 155.61h0M466.98 157.18h0M465.12 156.38h0M462.76 158.19h0M460.14 155.41h0M458.58 156.33h0M455.31 155.64h0M452.89 156.05h0M450.83 155h0M445.97 150.14h0M441.59 149.1h0M438.64 149.66h0M437.91 146.69h0M437.45 144.68h0M436.86 143.21h0M435.81 142.54h0M435.8 139.53h0M438.08 138.18h0M438.29 136.42h0M439.69 135.2h0M440.75 133.86h0M441.45 132.15h0M442.31 130.25h0M444.04 129.8h0M446.46 127.03h0M446.96 124.88h0M448.25 124.24h0M452.14 120.16h0M453.35 117.36h0M455.36 116.71h0M457.09 116.36h0M458.04 112.07h0M464.65 108.79h0M465.73 107.09h0M466.48 105.66h0M467.88 103.64h0M469.74 101.95h0M471.53 99.42h0M474.63 99.23h0M476.31 98.29h0M477.33 96.35h0M480.61 95.32h0M478.83 94.51h0M476.71 93.47h0M476.08 91.3h0M476.02 89.21h0M475.31 87.17h0" stroke="#93d412" stroke-width="1.35" stroke-linecap="round" fill="none"/>
<path d="M494.83 44.94L495.26 43.26L493.98 41.29L496.23 39.91L495.18 37.86L496.11 36.11L498.18 34.83L497.42 31.95L498.82 30.71L500.69 30.07L502.29 28.62L504.12 28.2L506.17 29.58L507.94 28.44L509.78 29.17L511.91 29.1L513.79 29.88L515.3 30.51L516.54 31.73L518.58 31.9L519.72 33.64L521.22 34.99L522.05 37.25L523.47 38.68L526.1 39.55L527.35 38.37L529.09 38.24L529.99 35.91L532 36.1L533.82 35.49L535.88 35.06L537.79 35.85L539.44 37.17L540.6 39.02L543.12 38.51L544.44 39.63L545.48 41.13L546.93 42.1L548.61 43.25L549.13 45.66L551.85 46.05L551.47 48.2L551.77 50.07L552.89 51.61L554.65 53.03L553.63 54.84L555.12 56.31L555.9 57.87L554.98 59.67L554.94 61.29L555.06 62.94L555.43 64.62L555.52 66.27L555.05 67.89L554.99 69.59L553.26 70.98L553 72.73L552.83 74.5L553.47 76.67L551.68 77.45L551.27 79.17L549.47 79.54L547.87 81L546.34 83.04L546.71 85.34L546.12 87.57L544.97 88.92L543.96 89.76L542.66 88.67L541.95 87.27L541.66 85.56L541.58 82.99L538.8 84.08L537.16 81.84L534.89 82.86L533.45 82.08L533.01 79.46L530.97 79.45L529.04 79.28L527.19 78.54L526.55 76.26L525.36 74.57L523.97 73.1L521.29 73.03L521.01 70.37L518.93 69.66L518.09 67.69L516.05 67.28L514.03 67.02L513.58 64.43L511.23 64.92L510.14 63.37L508.18 63.24L506.93 61.95L506.09 60.11L503.63 60.24L502.75 58.32L502.13 56.48L501.06 55.08L499.04 54.46L498.01 53.05L497.21 50.82L496.51 48.77L495.49 46.85Z" fill="#cc2139"/>
<path d="M494.6 44.96h0M495.99 39.82h0M496.47 31.81h0M500.18 29.22h0M501.82 27.75h0M504.26 27.64h0M506.21 28.92h0M509.94 28.2h0M512.07 28.21h0M513.89 29.65h0M523.6 38.45h0M527.13 37.87h0M531.71 33.52h0M533.56 34.56h0M535.94 34.35h0M540.93 38.11h0M545.36 38.81h0M545.9 40.72h0M547.39 41.42h0M550.75 41.93h0M551.28 43.19h0M553.51 44.52h0M551.84 48.21h0M552.37 49.82h0M553.07 51.43h0M555.67 52.79h0M557.25 57.93h0M555.84 59.91h0M555.96 61.26h0M555.97 64.54h0M557.22 66.47h0M556.82 68.17h0M555.18 69.7h0M554.37 71.68h0M553.1 78.7h0M549.73 80.02h0M548.84 81.86h0M543.94 89.96h0M541.92 89.27h0M534.98 84.16h0M531.65 83.08h0M532.52 79.92h0M526.59 79.03h0M523.69 73.85h0M520.18 74.23h0M520.66 70.61h0M518.71 69.91h0M517.9 67.91h0M515.77 68.98h0M513.22 64.91h0M511.16 65.16h0M506.96 65.98h0M505.39 62.98h0M505.99 60.3h0M502.95 61.51h0M500.55 59.2h0M501.42 56.86h0M498.38 55.44h0M495.59 49.18h0M492.74 48.06h0" stroke="#cc2139" stroke-width="1.35" stroke-linecap="round" fill="none"/>
<path d="M544.3 42.69h0M524.64 40.02h0M508.11 54.15h0M503.45 52.7h0M503.18 31.68h0M498.22 52.69h0M551.07 48.75h0M534.87 51.79h0M517.24 48.9h0M511.54 50.12h0M544.42 55.1h0M506.28 50.9h0M515.13 45.25h0M552.65 66.45h0M513.76 45.45h0M550.15 67.5h0M508.75 57.73h0M518.01 43.94h0M520.64 58.85h0M543.24 73.93h0M544.47 76.04h0M531.4 48.66h0M513.95 50.76h0M509.57 32.47h0M510.63 33.66h0M537.62 55.99h0M508.77 54.14h0M532.19 69.97h0M539.93 80.6h0M534.87 35.95h0M545.57 46.57h0M528.95 51.44h0M539.33 40.75h0M509.58 43.59h0M529.64 48.57h0M525.34 42.73h0M543.6 68.69h0M545.55 84.75h0M497.02 46.56h0M501.8 40.16h0M553.58 64.37h0M550.98 51.39h0M547.1 56.12h0M530.72 66.63h0M507.77 51.18h0M503.14 41.04h0M534.09 41.01h0M535.71 39.88h0M513.5 41.01h0M542.8 62.21h0M498.41 34.73h0M518.54 62.34h0M519.42 45.92h0M513.51 63.35h0M516.23 54.11h0M516.63 40.62h0M538.72 41.02h0M522.52 38.49h0M517.06 59.53h0M503.42 45.92h0M543.38 87.98h0M506.54 36.28h0M550.74 52.36h0M549.41 66.66h0" stroke="#fff" stroke-width=".8" stroke-linecap="round" fill="none"/>
<path d="M518.42 36.46h0M507.39 53.11h0M501.99 41.2h0M510.67 40.77h0M499.24 37.13h0M516.66 54.47h0M513.03 45.21h0M513.82 38.71h0M507.84 46.08h0M508 48.11h0M508.61 42.23h0M509.85 36.81h0M517.77 51.34h0M508.94 35.33h0M509.37 33.4h0M499.4 42.02h0M498.34 42.33h0M516.9 51.28h0M510.48 31.99h0M510.26 40.62h0M516.86 52.27h0M509.91 56.05h0M497.58 39.9h0M521.62 37.87h0M510.21 55.07h0M501.71 37.55h0M510.32 39.05h0M515.35 54.42h0M499.01 44.69h0M514.09 40.13h0M520.94 45.34h0" stroke="#fff" stroke-width=".8" stroke-linecap="round" fill="none"/>
<path d="M512.08 136.84h0M514.84 102.12h0M524.19 92.91h0M504.41 86.66h0M525.42 92.12h0M512.4 121.28h0M481.68 84.71h0M514.08 104.82h0M508.33 137.76h0M487.15 90.25h0M485.72 99.48h0M512.58 88.61h0M514.52 107.85h0M493.36 84.71h0M502.17 92.88h0M511.09 99h0M515.72 105.64h0M502.39 90.99h0M508.01 119.7h0M497.02 95.44h0M523.37 124.95h0M521.26 107.17h0M521.07 106.26h0M492.37 81.57h0M518.48 134.19h0M519.4 93h0M510.62 105.09h0M523.67 111.29h0M494.29 90.88h0M521.32 97.33h0M528.78 97.45h0M514.89 123.35h0M505.93 133.79h0M518.62 135.06h0M504.13 125.61h0M511.54 95.97h0M498.99 84.17h0M518.34 119.16h0M518.58 126.47h0M485.76 88.72h0M515.09 132.75h0M514.94 94.52h0M521.94 88.66h0M497.56 104.22h0M480.97 92.34h0M500.28 96.9h0M533.44 109.9h0M527.17 118.05h0M504.09 129.05h0M509.73 89.49h0M479.88 88.45h0M507.15 130.74h0M495.59 89.36h0M518.72 109.52h0M518.59 130.04h0M514.74 99.37h0M502.13 102.14h0M491.27 92.8h0M529.95 109.72h0M509.38 127.73h0M521.7 120.04h0M499.19 97.31h0M516.64 126.84h0M522.84 115.27h0M490.46 95.53h0M518.93 134.07h0M488.4 85.18h0M493.58 97.31h0M508.86 85.53h0M498.06 87.55h0M520.6 105.01h0M485.75 88.77h0M501.41 76.5h0M518.39 109.67h0M514.99 107.03h0M530.32 104.66h0M511.74 127.35h0M503.24 90.34h0M519.99 136.66h0M522.87 123.86h0M527.23 122.41h0M515.5 106.36h0M523.33 124.79h0M514.83 91.87h0M503.37 106.45h0M514.39 103.19h0M517.37 140.22h0M523.1 101.73h0M532.14 111h0M509.91 125.09h0M508.3 119.54h0M525.93 111.18h0M499.58 78.11h0M495.07 102.51h0M503.2 123.73h0M499.4 92.94h0M532.1 111.56h0M501.61 89.16h0M524.85 119.19h0M505.91 114.05h0M525.36 132.12h0M505.85 95.02h0M510.31 82.99h0M526.19 99.31h0M527.13 93.1h0M500.73 92.12h0M503.51 87.31h0M495.45 91.51h0M496.6 108.18h0M503.64 119.4h0M516.48 99.86h0M516.3 91.87h0M485.45 84.24h0M499.08 84.94h0M513.65 129.64h0M517 137.64h0M523.65 133.73h0M509.34 126.84h0M510.69 92.89h0M492.83 84h0M507.24 78.25h0M505.79 84.36h0M507.14 109.51h0M509.82 135.44h0M505.84 114.09h0M516.82 133.85h0M500.67 103.87h0M515.25 119.32h0M517.78 140.32h0M508.21 108.55h0M519.76 118.55h0M500.18 107.83h0M509.04 128.88h0M503.3 113.48h0M525.8 94.91h0M525.86 102.79h0M507.83 93.41h0M507.98 143.41h0M516.22 130.4h0M498.21 96.63h0M515.12 129.85h0M529.08 112.87h0M482.57 95.45h0M480.15 87.59h0M531.07 117.37h0M516.41 130.19h0M530.43 117.58h0M514.12 118.65h0M518.55 116.49h0M517.69 89.2h0M516.91 106.64h0M516.29 100.32h0M525.57 130.01h0M511.08 92.43h0M496.61 104.08h0M497.52 104.71h0M515.51 140.48h0M524.89 114.99h0M530.92 105.83h0M512.74 140.76h0M534.37 107.89h0M502.75 81.34h0M515.66 89.18h0M519.83 91.31h0M520.62 87.41h0M519.5 134.91h0M514.78 124.51h0M506.86 78.34h0M500.25 114.97h0M504.21 122.21h0M514.84 103.81h0M511.34 94.88h0M518.93 132.92h0M513.25 96.03h0M513.29 137.8h0M524.73 94.23h0M479.9 92.79h0M503.31 115.8h0M511.62 93.56h0M517.9 139.05h0M499.1 80.14h0M510.61 130.78h0M513.57 122.27h0M505.69 88.78h0M523.85 106.77h0M522.77 90.65h0M512.05 137.86h0M529.05 111.19h0M506.32 115.99h0M490.33 87.76h0M499.99 114.22h0M502.2 110.86h0M513.03 98.61h0M527.99 108.67h0M511.36 92.69h0M523.16 104.37h0M490.99 86.94h0M510.82 135.99h0M513.08 102.34h0M515.45 142.09h0M517.07 102.04h0M504.75 85.45h0M494.04 99.12h0M523.56 124.54h0M482.91 84.38h0M517.46 95.33h0M512.71 127.97h0M485.67 97.12h0M494.1 82.92h0M506.58 86.07h0M493.07 84.27h0M519.71 87.96h0M526.67 118.77h0M504.97 98.25h0M525.6 108.04h0M514.75 84.24h0M519.51 113.43h0M494.63 103.37h0M488.47 93.36h0M526.52 97.87h0M516.99 89.1h0M506.37 94.44h0M494.15 88.42h0M485.23 94.67h0M520.22 94.96h0M524.71 98.33h0M526.11 111.53h0M511.59 83.91h0M519.4 88.08h0M513.66 109.32h0M495.04 88.74h0M513.88 124.41h0M524.96 115.53h0M520.57 103.11h0M524.91 97.92h0M530.45 107.98h0M528.32 93.02h0M500.23 85.71h0M500.45 116.39h0M504.61 110.75h0M532.89 109.27h0M508.36 111.81h0M489.95 81.39h0M518.69 87.96h0" stroke="#fff" stroke-width=".8" stroke-linecap="round" fill="none"/>
<path d="M483.04 135.98h0M477.34 135.12h0M471.29 121.11h0M484.09 149h0M453.52 137.9h0M470.13 132.03h0M501.14 136.08h0M470.6 152.09h0M496.82 128.88h0M459.93 128.74h0M460.54 132.1h0M486.9 129.87h0M479.9 118.5h0M473.18 135.28h0M487.52 126.07h0M490.05 126.37h0M486.12 125.49h0M479.18 132.54h0M464.4 140.78h0M451.68 138.73h0M461.86 133.8h0M480.11 121.55h0M463.59 131.49h0M463.22 125.21h0M449.44 136.88h0M501.14 139.33h0M482.61 140.89h0M457.23 143.2h0M475.09 136.94h0M485.54 133.9h0M464.75 125.17h0M458.63 135.57h0M469.75 138.39h0M481.68 134.76h0M462.98 153.87h0M463.72 145.58h0M503.31 132.78h0M473.65 144.16h0M467.63 141.85h0M485.78 148.58h0M499.87 135.78h0M494.2 144.46h0M495.64 134.14h0M497.37 143.13h0M496.05 138.4h0M482.73 131.93h0M485.16 130.46h0M474.5 133.47h0M493.12 127.12h0M470.26 137.23h0M469.84 128.24h0M477.75 132.94h0M453.37 138h0M506.67 128.31h0M472.72 150.91h0M482.25 134.99h0M478.98 135.76h0M490.52 130.84h0M468 138.74h0M467.54 152.35h0M489.92 136.07h0M470.97 137.46h0M482.87 149.72h0M473.67 139.89h0" stroke="#fff" stroke-width=".8" stroke-linecap="round" fill="none"/>
<path d="M564.59 98.7L562.96 100.01L562.78 101.77L562.76 103.58L561.15 104.89L560.9 106.63L561.52 108.11L561.77 109.75L561.74 111.48L561.55 113.26L563.38 114.86L562.44 116.21L562.05 117.79L561.72 119.4L560.95 120.82L559.59 121.95L557.99 122.85L556.9 124.26L555.91 125.79L554.64 127.02L552.98 127.86L551.71 129.1L551.01 130.91L549.63 132.17L547.48 132.36L544.93 133.88L544.02 132.17L543.4 130.14L541.41 129.37L539.74 131.19L537.17 131.77L536.7 133.45L534.73 133.91L534.06 135.66L534.68 137.89L533.89 139.88L533.66 142.09L531.93 143.25L531.38 145.16L530.28 143.59L529.77 141.86L528.76 139.9L528.62 137.8L527.65 136.28L527.23 134.56L526.47 133.29L527.75 131.64L528.24 130.04L529.19 128.27L531.25 128.46L532.95 127.47L533.86 126.15L534.38 124.51L534.97 122.92L536.25 121.95L536.96 119.92L538.83 119.01L540.7 118.1L541.72 116.03L543.49 115.13L544.09 113.27L545.76 112.25L547.05 110.76L547.92 109.01L549.06 107.67L549.42 105.36L551.16 104.54L552.73 103.65L554.34 102.66L556.07 101.94L557.97 101.67L558.92 99.65L560.65 99.55L561.91 98.3Z" fill="#f4858b"/>
<path d="M565.28 98.28h0M563.63 100.41h0M562.71 105.85h0M562.29 106.47h0M562.71 111.54h0M561.96 113.06h0M563.36 116.63h0M564.28 118.29h0M561.47 121.26h0M560.23 122.87h0M557.47 124.67h0M556.23 126.05h0M554.95 127.46h0M553.23 128.21h0M551.19 131.04h0M549.98 133.01h0M548.09 134.03h0M544.9 134.44h0M543.71 132.29h0M542.91 130.59h0M540.8 133.07h0M537.31 134.15h0M534.98 134.2h0M535.93 137.94h0M533.98 142.28h0M533.05 144.08h0M529.04 144.2h0M528.79 142.27h0M527.99 140.11h0M527.03 136.55h0M526.26 134.94h0M527.38 131.43h0M528.91 127.73h0M531 127.28h0M532.43 126.89h0M533.45 124.19h0M534.14 122.31h0M535.26 121.29h0M536.59 119.59h0M538.43 118.18h0M540.13 114.53h0M545.74 109.89h0M546.38 108.02h0M549 105.08h0M550.65 103.55h0M551.9 102.25h0M555.89 101.28h0M557.53 101.12h0" stroke="#f4858b" stroke-width="1.35" stroke-linecap="round" fill="none"/>
<path d="M550.2 106.83h0M553.13 110.34h0M542.59 130.41h0M530.48 135.41h0M552.31 116.83h0M549.82 119.59h0M528.35 131.06h0M542.35 122.35h0M561.05 104.4h0M536.09 123.97h0M545.6 119.23h0M561.34 114.86h0M532.65 129.58h0M548.72 119.99h0M533.7 131.22h0M538.46 120.34h0M529.46 131.94h0M550.74 110.19h0M557.73 112.28h0M533.27 128.25h0M532.62 135.1h0M557.2 113.4h0M540.11 124.19h0M547.53 127.79h0M544.82 121.78h0M552.06 106.09h0M555.76 118.32h0M536.92 129.35h0M545.58 118.12h0M538.99 118.94h0M560.14 106.12h0M547.4 114.7h0M538.43 119.95h0M551.63 126.9h0M537.43 125.12h0M550.54 112.42h0M551.71 119.34h0M529.51 129.3h0M540.24 125.57h0M541.9 123.2h0M547.45 116.96h0M530.52 138.72h0M544.63 124.32h0M534.8 125.2h0M546.92 131.83h0M554.64 103.8h0M530.14 137.23h0M555.32 104.83h0M552.79 118.34h0M532.61 133.27h0M530.55 141.67h0M551.58 110.34h0M530.45 135.85h0M537.17 130.54h0M533.14 136.67h0M551.75 116.78h0M557.94 116.82h0M543.82 125.4h0M551.43 111.18h0M536.13 125.02h0M550.01 128.09h0M553.99 122.22h0M550.09 114.81h0M546.93 117.41h0M544.34 115.6h0M543.27 119.25h0M547.6 112.57h0M553.51 124.19h0M561.4 114.35h0M559.96 111.33h0M552.68 108.64h0M550.57 107.63h0M550.6 117.38h0M551.72 114.22h0M538.84 121.54h0M548.69 110.45h0M555.03 102.64h0M556.78 118.21h0M546.48 125.93h0M547.09 129.15h0M548.83 113.9h0M554.05 110.49h0M555.36 112.89h0M544.12 129.06h0M555.29 115.38h0M554.63 102.64h0M561.48 115.52h0M555.43 109.77h0M550.12 114.52h0M556.27 119.94h0M530.35 132.7h0M534.43 125.05h0M532.18 138.76h0M558.85 110.93h0M532.37 130.34h0M548.68 119.61h0M558.62 106.96h0M531.96 132.83h0M562.98 99.98h0M533.02 130.46h0M531.86 132.93h0M539.55 121.63h0" stroke="#fff" stroke-width=".8" stroke-linecap="round" fill="none"/>
<path d="M572.42 107.75L574.4 107.67L575.95 106.95L576.62 104.88L578.18 104.04L579.82 103.48L581.73 103.4L583.32 102.74L584.59 101.85L586.23 102.1L587.85 102.04L589.42 101.11L591.05 101.19L592.69 100.83L594.2 101.66L595.64 102.76L597.61 102.09L599.21 102.65L600.8 103.35L602.07 104.59L603.52 105.65L605.15 106.52L606.38 108.03L607.15 109.83L607.67 111.79L608.53 113.45L609.24 115.05L610.73 116.4L610.26 118.26L609.72 119.91L609.22 121.58L608.5 122.74L607.29 125.3L604.23 125.09L603.4 127.17L602.41 128.66L600.37 129.69L599.91 131.68L598.67 133.02L596.93 133.19L595.23 133.53L594.03 133.88L591.32 133.76L589.12 132.09L588.57 130.48L589.75 128.51L588.34 127.24L587.85 125.58L586.39 124.7L585.5 123.34L584.85 121.46L582.83 120.42L583.24 117.75L581.19 117.36L580.03 116.24L579.5 114.6L578.4 113.48L576.62 113.07L576.09 110.98L574.28 110.52Z" fill="#cc2139"/>
<path d="M574.3 107.23h0M574.96 106.16h0M579.62 102.35h0M581.48 102.23h0M584.32 100.63h0M587.6 101.21h0M589.34 100.81h0M592.81 100.04h0M595.4 99.83h0M595.7 102.22h0M597.59 101.36h0M605.98 105.52h0M607.41 107.41h0M609.01 109.19h0M607.86 111.72h0M609.17 113.14h0M611.35 116.2h0M610.59 118.35h0M610.41 123.74h0M604.43 125.51h0M603.06 129.43h0M600.61 129.88h0M600.22 131.84h0M598.83 133.32h0M597.05 134.03h0M594.06 134.33h0M591.22 134.04h0M587.38 133.56h0M586.72 128.28h0M585.62 125.5h0M584.43 123.84h0M582.31 120.65h0M582.01 118.41h0M580.42 118.99h0M577.98 117.5h0M578.3 115.31h0M575.57 111.45h0M573.58 111.3h0" stroke="#cc2139" stroke-width="1.35" stroke-linecap="round" fill="none"/>
<path d="M601.28 113.65h0M592.62 117.59h0M590.24 116.43h0M604.42 114.84h0M590.65 130.79h0M589.38 117.41h0M592.09 128.59h0M598.06 125.77h0M587.95 102.29h0M598.41 119.51h0M601.78 126.75h0M577.28 108.33h0M601.18 119.86h0M599.59 117.12h0M588.56 120.52h0M585.42 118.31h0M583.17 109.73h0M584.61 109.48h0M605.15 119.57h0M592.06 115.02h0M605.06 109.55h0M593.03 113.47h0M590.3 117.33h0M594.8 113.19h0M602.99 107.64h0M607.42 119.58h0M592.89 114.64h0M594.09 111.78h0M603.03 120.79h0M589.57 130.38h0M596.89 102.57h0M595.27 106.97h0M607.54 119.75h0M602.96 117.64h0M598.19 123.57h0M583.93 108h0M588.44 123.03h0M598.64 106.12h0M583.88 108.73h0M594.73 111.62h0M593.93 106.09h0M607.14 111.81h0M587.57 102.03h0M587.13 122.42h0M600.23 115.35h0M598.38 104.76h0M608.18 118.58h0M583.78 112.6h0M601.07 117.58h0M591.07 129.91h0M595.33 119.07h0M604.64 108.55h0M595.36 133.38h0M597.54 102.6h0M585.37 116.01h0M584.06 103.25h0M593.87 104.13h0M593.59 127.36h0M595.24 116.4h0M586.11 113.5h0M597.78 106.42h0M605.7 117.04h0M591.5 118.91h0M591.9 113.23h0M580.28 114.47h0M580.49 105.19h0M591.71 130.8h0M591.21 127.46h0M594.3 124.04h0M578.62 109.79h0M592.33 110.72h0M594.6 108.77h0M595.23 127.23h0M596.1 124.13h0M603.48 112.4h0M603.33 116.42h0M608.21 114.75h0M588.15 103.88h0M598.37 106h0M585.79 105.63h0M580.29 108.29h0M590.88 117.61h0M601.11 122.27h0M585.97 106.37h0M600.88 105.45h0M595.05 115.53h0M605.6 110.96h0M608.99 118.76h0M581.57 107.57h0M590.06 108.86h0M591.37 131.39h0M598.62 124.76h0M602.69 123.83h0M588.12 103.85h0M597.38 128.98h0M585.61 120.88h0M603.4 114.97h0M595.59 116.27h0M585.46 108.09h0M596.13 110.73h0M576.15 110.02h0M599.22 115.75h0M597.7 128h0M579.76 110.03h0M595.79 130.91h0M587.67 117.69h0M608.79 117.93h0M592.67 100.94h0M589.94 128.08h0M582.27 112.74h0M605.27 118.16h0M606.46 123.28h0M586.45 123.11h0M596.61 113.53h0M592.48 123.62h0M606.96 117.64h0M598.55 119.63h0M589.68 126.12h0" stroke="#fff" stroke-width=".8" stroke-linecap="round" fill="none"/>
<path d="M571.94 80.54L573.66 79.26L575.22 77.69L577.44 77.77L578.47 76.39L580.12 76.89L581.95 75.6L584.04 76.06L584.84 78.65L587.15 79.78L587.33 81.44L586.59 83.22L587.45 84.65L586.94 86.3L585.78 87.42L584.62 88.11L582.49 88.72L580.7 87.67L578.67 87.08L576.93 85.88L574.87 86.2L573.19 84.84L572.41 83.05Z" fill="#9069d2"/>
<path d="M572.42 77.84h0M577.22 77.21h0M577.84 74.46h0M581.72 74.48h0M585.82 74.38h0M585.17 78.38h0M587.67 81.5h0M587.13 83.2h0M590.39 84.32h0M587.6 86.7h0M586.32 88.12h0M584.78 88.53h0M582.39 89.58h0M580.41 88.35h0M578.22 88.02h0M576.84 86.27h0M572.39 85.47h0" stroke="#9069d2" stroke-width="1.35" stroke-linecap="round" fill="none"/>
<path d="M577.21 77.96h0M583.92 81.92h0M580.91 84.41h0M583.85 79.5h0M580.46 79.66h0M581.99 79.3h0M584.97 83.11h0M576.46 79.1h0M573.49 82.89h0M583.87 84.5h0M578.69 86.11h0M574.12 79.89h0M582.21 88.09h0" stroke="#fff" stroke-width=".8" stroke-linecap="round" fill="none"/>
<path d="M577.29 56.44L580.52 55.95L583.15 57.19" stroke="#b0eb92" stroke-width="1.84" stroke-linecap="round" stroke-linejoin="round" fill="none"/>
<path d="M579.51 57.27h0M579.5 55.95h0M580.47 56.91h0M579.77 56.59h0M579.77 55.26h0M581.77 55.7h0M582.68 55h0M581.47 57.49h0M580.11 57.73h0" stroke="#b0eb92" stroke-width="1.3" stroke-linecap="round" fill="none"/>
<path d="M566.97 69.12L571.22 65.64" stroke="#93d412" stroke-width="1.2" stroke-linecap="round" stroke-linejoin="round" fill="none"/>
<path d="M568.04 67.49h0M568.94 67.17h0M570.85 66.46h0M569.14 68.26h0M569.52 67.26h0M569.57 65.46h0M570.19 65.78h0M569.7 65.91h0M568.42 66.55h0" stroke="#93d412" stroke-width="1.3" stroke-linecap="round" fill="none"/>
<path d="M508.12 240.88L514.19 242.37" stroke="#4687cc" stroke-width="1.1" stroke-linecap="round" stroke-linejoin="round" fill="none"/>
<path d="M512.45 242.7h0M512.93 242.78h0M508.69 241.99h0M512.34 242.15h0M509.61 242.02h0M508.32 241.81h0M509.62 241.91h0M509.42 241.16h0M512.28 241.65h0M514.07 242.17h0" stroke="#4687cc" stroke-width="1.3" stroke-linecap="round" fill="none"/>
<path d="M485.87 45.26L486.92 48.24" stroke="#cc2139" stroke-width="1.38" stroke-linecap="round" stroke-linejoin="round" fill="none"/>
<path d="M486 47.56h0M486.26 45.37h0M485.37 45.45h0M486.88 47.02h0M486.35 45.29h0" stroke="#cc2139" stroke-width="1.3" stroke-linecap="round" fill="none"/>
<path d="M434.5 55.7L436.12 58.18L435.71 60.67L437.74 61.66L438.79 64.15" stroke="#2f4db0" stroke-width="1.2" stroke-linecap="round" stroke-linejoin="round" fill="none"/>
<path d="M434.33 57.38h0M434.24 56h0M436.12 57.57h0M435.75 57.11h0M435.59 58.97h0M436.72 58.84h0M436.09 60.2h0M436.92 60.38h0M437.26 60.26h0M435.86 60.51h0M436.65 61.35h0M438.49 63.19h0M438 63.67h0M437.98 63.06h0M438.52 63.05h0" stroke="#2f4db0" stroke-width="1.3" stroke-linecap="round" fill="none"/>
<path d="M435.31 57.19L437.33 60.17" stroke="#2f4db0" stroke-width="1.1" stroke-linecap="round" stroke-linejoin="round" fill="none"/>
<path d="M438.26 59.52h0M437.34 59.31h0M437.2 60.2h0M435.2 57.57h0M436.26 58.52h0M436.55 59.32h0" stroke="#2f4db0" stroke-width="1.3" stroke-linecap="round" fill="none"/>
<path d="M455.53 54.21L458.57 51.23L462.61 51.72L466.05 54.95L467.26 58.68L464.63 62.41L460.59 63.65L456.54 61.17L454.52 57.44Z" stroke="#4687cc" stroke-width="2.39" stroke-linecap="round" stroke-linejoin="round" fill="none"/>
<path d="M457.49 54.13h0M456.69 54.23h0M455.72 53.22h0M458.69 52.96h0M456.23 53.71h0M457.44 51.88h0M456.59 51.88h0M461.65 49.56h0M462.36 52.04h0M462.25 52.02h0M458.58 53.19h0M459.7 48.88h0M461.51 51.38h0M464.71 53.83h0M463.97 51.41h0M465.51 53h0M462.73 51.91h0M462.1 53.48h0M466.81 52.8h0M464.5 52.85h0M466.57 55.42h0M463.46 59h0M467.8 58.14h0M464.85 58.62h0M466.53 55.33h0M464.89 55.78h0M466.25 59.13h0M468.8 61.17h0M465.69 61.54h0M465.85 62.96h0M465.21 61.32h0M466.99 60.63h0M465.12 57.91h0M464.69 62.78h0M463.57 64.41h0M464.91 63.42h0M462.2 61.16h0M464.8 63.58h0M464.06 61.56h0M462.79 61.06h0M459.58 60.9h0M457.87 62.28h0M456.46 62.16h0M458.35 63.82h0M459.55 64.19h0M460.61 61.81h0M457.78 62.45h0M455.49 58.33h0M454.93 58.55h0M457.52 60.38h0M454.98 58.77h0M455 58.56h0M453.57 59.44h0M454.09 60.22h0M453.12 54.87h0M454.34 57.16h0M451.28 55.61h0M454.4 56.01h0M457.3 56.06h0" stroke="#4687cc" stroke-width="1.3" stroke-linecap="round" fill="none"/>
<path d="M459.98 63.15L461.2 67.38L462 71.85" stroke="#4687cc" stroke-width="1.47" stroke-linecap="round" stroke-linejoin="round" fill="none"/>
<path d="M461.2 66.2h0M461.24 67.26h0M461.18 66.48h0M460.33 64.15h0M461.32 67.03h0M462.18 66.78h0M461.26 65.71h0M461.04 68.12h0M461.23 67.46h0M461.63 71.79h0M462.3 70.46h0M462.58 67.88h0M462.65 69.48h0M462.73 71.21h0" stroke="#4687cc" stroke-width="1.3" stroke-linecap="round" fill="none"/>
<path d="M437 73.27L436.22 75.47L437.97 75.99L439.59 77.22L441.5 77.5L443.6 78.56L446.02 79.14L445.27 80.74L444.78 81.9L445.2 84.08L446.29 85.06L447.82 86.61L448.12 88.68L449.3 90.45L449.61 92.02L450.4 94.44L448.92 95.79L448.32 98.15L446.51 99.49L444.74 99.11L442.96 98.76L441.32 99.95L439.46 98.75L437.36 98.73L435.62 97.81L432.91 98.22L431.29 96.53L429.15 96.95L426.75 97.38L425.96 99.51L423.91 100.99L421.89 100L419.87 97.78L418.53 98.84L417.45 99.6L416.15 96.88L418.08 96.38L418.54 94.68L418.28 92.44L419.24 90.1L421.38 90.2L421.57 88.98L422.63 90.18L424.24 90.64L427.29 91.32L429.05 92.19L430.92 93.02L432.21 91.46L433.09 89.7L433.36 88.03L433.23 86.28L433.89 84.69L434.11 83.01L434.24 81.31L434.7 79.75L435.12 77.65L436.52 75.83Z" fill="#f79d27"/>
<path d="M438.3 75.37h0M441.72 76.85h0M446.43 78.83h0M446.34 81.22h0M447.88 81.96h0M451.67 94.68h0M449.27 95.98h0M448.59 98.33h0M443.07 99.19h0M436.86 100.75h0M435.54 98.44h0M430.96 97.52h0M429.3 97.77h0M426.97 97.64h0M424.05 102.23h0M417.05 100.08h0M415.4 96.74h0M416.37 94.52h0M417.63 94.63h0M414.87 91.91h0M418.74 89.41h0M423.56 88.69h0M424.68 88.84h0M427.44 90.85h0M429.79 90.62h0M430.8 92.48h0M432.6 89.54h0M432.28 87.99h0M432 86.09h0M433.6 84.61h0M431.02 82.68h0M434.4 79.67h0M435.64 75.45h0" stroke="#f79d27" stroke-width="1.35" stroke-linecap="round" fill="none"/>
<path d="M431.62 93.14h0M428.13 95.93h0M424.19 96.54h0M443.78 91.59h0M422.95 97.88h0M421.87 91.28h0M436.44 91.34h0M435.85 79.58h0M443.27 80.34h0M443.54 81.25h0M429.44 94.12h0M432.53 96.93h0M444.92 79.89h0M424.06 93.56h0M435.62 96.95h0M449.2 96.62h0M422.3 96.8h0M425.51 98.39h0M432.16 93.22h0M439.02 83.29h0M432.48 93.46h0M433.45 89.83h0M438.62 77.48h0M443.8 98.97h0M441.66 96.6h0M436.82 97.79h0M441.95 89.25h0M423.85 95.97h0M437.14 80.51h0M436.25 97.38h0M422.19 89.31h0M446.68 91.35h0M425.64 98.87h0M446.07 84.86h0M434.49 96.37h0M443.92 91.13h0M424.78 91.25h0M436.42 95.09h0M447 88.9h0M422.67 92.17h0M441.69 90.34h0M432.53 91.63h0M432.65 91.79h0M440.59 90.97h0M422.62 99.31h0M443.19 79.84h0M424.4 93.32h0M436.1 83.14h0M440.43 85.32h0" stroke="#fff" stroke-width=".8" stroke-linecap="round" fill="none"/>
<path d="M411.84 114.27L412.78 112.63L413.55 112.06L415.58 112.1L416.1 113.48L416.88 115.26L417.87 116.33L419.54 117.51L421.1 118.22L423.15 118.4L425.18 118.24L427.01 118.02L428.57 116.38L431.13 116.31L432.34 114.43L434.05 114.1L435.91 115.68L436.15 117.9L435.07 119.5L436.2 121.2L436.91 123.61L435.45 125.23L433.9 126.65L432.14 128.04L431.28 130.31L428.03 131.59L426.92 130.02L425.84 129.93L427.16 128.13L428.14 126.06L428.32 123.74L429.83 121.18L428.03 121.2L426.15 120.88L424.58 121.93L422.96 122.67L421.31 121.2L419.25 120.99L416.86 122.05L413.42 120.84L413.55 118.67L412.34 117.78L411.71 115.84Z" fill="#f79d27"/>
<path d="M411.13 114.03h0M411.95 111.99h0M413.49 111.75h0M415.8 111.71h0M418.26 115.86h0M423.16 117.49h0M426.9 117.81h0M428.12 115.31h0M430.4 114.9h0M434.3 113.37h0M437.74 114.66h0M436.96 118.08h0M438.69 123.94h0M436.11 125.89h0M434.82 127.72h0M432.68 128.42h0M428 132.05h0M426.06 131.13h0M426.44 127.7h0M427.76 123.55h0M425.42 123.43h0M422.82 123.3h0M420.93 122.04h0M419.34 121.46h0M410.46 119h0M411.44 115.88h0" stroke="#f79d27" stroke-width="1.35" stroke-linecap="round" fill="none"/>
<path d="M433.27 120.54h0M416.36 113.74h0M414.08 112.76h0M421.07 120.98h0M416.96 117.69h0M430.61 118.75h0M434.68 123.66h0M430.12 126.69h0M414.8 113.48h0M413.2 114.62h0M415.65 114.82h0M430.47 119.83h0M414.35 116.52h0M429.87 129.09h0M433.94 120.76h0M435.23 123.37h0M418.62 120.61h0M429.26 125.95h0" stroke="#fff" stroke-width=".8" stroke-linecap="round" fill="none"/>
<path d="M414.67 115.21h0M431.68 118.1h0M429.97 118.15h0" stroke="#fff" stroke-width="1.6" stroke-linecap="round" fill="none"/>
<path d="M403.55 126.52L408 126.27L412.66 127.76" stroke="#f79d27" stroke-width="1.47" stroke-linecap="round" stroke-linejoin="round" fill="none"/>
<path d="M404.4 126.73h0M405.38 125.76h0M406.19 127.74h0M403.6 126.43h0M407.61 127.33h0M407.83 126.97h0M407.13 125.01h0M409.09 127.14h0M409.81 126.27h0M409.89 126.44h0M412.34 127.3h0M409.59 127.88h0M411.15 128.54h0M409.51 125.49h0M412.41 128.38h0" stroke="#f79d27" stroke-width="1.3" stroke-linecap="round" fill="none"/>
<path d="M409.27 132.85L410.87 132.18L412.91 131.49L414.69 133.02L414.52 134.86L413.41 136L410.05 137.15L410.65 134.89Z" fill="#f79d27"/>
<path d="M408.02 132.75h0M410.19 130.36h0M414.27 137.68h0" stroke="#f79d27" stroke-width="1.35" stroke-linecap="round" fill="none"/>
<path d="M421.15 131.49L424.18 130.75" stroke="#f79d27" stroke-width="1.38" stroke-linecap="round" stroke-linejoin="round" fill="none"/>
<path d="M421.4 131.89h0M423.97 131.57h0M422.24 131.46h0M423.46 130.63h0M422.14 132.7h0" stroke="#f79d27" stroke-width="1.3" stroke-linecap="round" fill="none"/>
<path d="M425.61 152.71L428.15 154.4L429.33 155.91L430.88 157.04L431.67 158.68L433.58 159.33L435.29 162.12L437.36 163.92L438.7 165.02L440.66 165.41L441.45 167.3L443.05 168.41L444.54 170.11L446.5 171.36L448.81 174.36L446.15 175.23L443.68 176.15L442.25 177.98L443.05 180.98L444.66 182.28L445.59 184.06L445.98 185.75L447.22 187.48L444.8 187.6L443.88 186L442.15 185.44L439.84 184.58L437.77 185.87L438.17 187.52L438.57 189.06L436.44 190.59L435.56 189.03L434.87 187.19L432.37 185.69L429.2 186.25L428.03 187.81L426.25 188.33L424.24 188.11L422.94 189.63L420.68 189.72L419.57 191.45L417.36 192.97L416.75 191.39L416.92 189.73L417.83 187.63L417.68 185.33L417.49 183.1L417.76 181.04L417.91 178.73L417.65 176.5L416.49 174.46L415.96 172.25L416.55 170.24L415.41 168.25L415.71 166.31L416.92 164.57L417.43 162.39L417.49 159.99L418.36 158.43L420.24 157.73L421.47 156.26L422.75 154.9L423.98 153.34Z" fill="#45b8ae"/>
<path d="M425.96 151.31h0M429.73 155.5h0M433.86 159.04h0M437.93 163.25h0M442.13 166.76h0M443.41 168.01h0M445.91 168.51h0M450.4 174.5h0M444.35 177.1h0M444.29 180.28h0M445.95 183.92h0M447.18 185.17h0M447.47 187.64h0M444.69 187.84h0M439.86 184.82h0M439.1 186.62h0M436.43 192.3h0M429.68 187.24h0M424.72 189.33h0M423.2 190.19h0M421 190.32h0M420.82 192.72h0M417.31 195.63h0M413.65 191.81h0M417.43 187.56h0M416.87 185.39h0M417.16 180.98h0M417.05 178.75h0M416.96 176.73h0M415.19 174.98h0M413.01 172.21h0M415.27 170.42h0M415.08 166.05h0M415.46 163.92h0M415.71 162.18h0M417.75 157.68h0M419.6 156.81h0M422.24 154.47h0M423.29 152.44h0" stroke="#45b8ae" stroke-width="1.35" stroke-linecap="round" fill="none"/>
<path d="M439.6 166.86h0M428.99 170.02h0M425.62 174.95h0M437.47 182.26h0M427.82 186.98h0M441.64 176.39h0M437.94 166.28h0M446.64 174.75h0M429.01 159.9h0M419.68 188.84h0M426.44 171.93h0M432.04 167.22h0M436.7 171.82h0M426.74 168.18h0M435.73 184.32h0M424.4 167.51h0M428.53 167.2h0M445.6 174.33h0M424.9 165.97h0M423.34 154.85h0M424.51 182.2h0M446.7 174.81h0M422.2 182.79h0M418.96 187.84h0M440.42 176.68h0M421.2 159.84h0M435.73 179.73h0M428.64 162.77h0M421.62 159.8h0M420.88 166.72h0M433.16 180.06h0M417.02 170.31h0M441.63 175.81h0M435.46 166.15h0M421.62 168.03h0M442 184.32h0M441.87 169.27h0M437.68 175.58h0M439.6 169.06h0M426.21 167.76h0M441.68 184.41h0M438.29 165.4h0M443.8 172.3h0M418.63 190.16h0M440.66 175.72h0M418.77 183.96h0M419.28 163.71h0M419.63 187.78h0M430.29 181.91h0M424.27 182.07h0M431.98 181.73h0M422.9 179h0M424.96 167.51h0M434.51 185.24h0M440.58 170.98h0M419.79 182.83h0M420.64 180.02h0M417.67 192.51h0M433.51 182.48h0M420.2 178.29h0M428.17 162.6h0M417.05 171.32h0M431.17 181.6h0M439.63 166.41h0M420.37 185.49h0M419.84 160.04h0M432.19 166.13h0M431.33 184.32h0M440.99 178.05h0M430.35 156.5h0M445.63 185.12h0M438.09 182.66h0M423.47 171.27h0M438.16 174.94h0M429.1 159.3h0M420.39 171.55h0M431.96 163.36h0M427.88 174.94h0" stroke="#fff" stroke-width=".8" stroke-linecap="round" fill="none"/>
<path d="M440.69 176.37h0M421.2 188.38h0M428.45 174.67h0M426.13 153.68h0M422.58 157.53h0M425.17 177.99h0M438.21 167.18h0M437.7 167.1h0M435.59 164.67h0M422.62 173.05h0M419.77 186.38h0M437.67 180.21h0M437.97 181.38h0M426.1 175.52h0M416.22 169.34h0" stroke="#fff" stroke-width="1.6" stroke-linecap="round" fill="none"/>
<path d="M447.78 205.34L450.06 205.5L452.36 204.9L454.44 206.3L456.8 206.31L459.03 206.07L461.07 204.91L463.15 205.34L464.18 204.1L465.52 202.7L465.13 201.05L465.41 199.34L465.38 197.52L462.54 195.99L461.25 193.99L463.99 192.52L465.4 194.15L467.57 193.97L469.41 194.32L470.9 196.05L474.41 196.24L472.57 198L471.13 198.96L469.95 200.33L469.4 201.92L468.75 202.7L470.39 204.18L472.17 205L473.59 206.29L475.36 205.43L477.48 205.21L478.84 203.44L480.75 202.56L483.62 201.09L483.88 199.31L485.53 198.43L486.55 197.15L487.42 195.77L488.32 194.41L488.7 192.7L490.77 190.21L492.44 191.98L494.59 193.87L495.35 195.47L495.95 197.07L498.52 198.34L499.97 199.29L500.63 200.69L501.36 202.31L502.5 203.67L501.59 205.21L501.54 207.22L499.65 208.41L498.94 210.56L496.98 211.69L495.38 213.39L495.22 215.74L494.43 217.95L494.58 220.14L495.4 222.34L494.5 224.1L494.97 225.97L494.99 228.02L493.22 229.9L491.47 230.79L489.76 232.19L487.48 232.02L485.35 231.72L483.16 231.02L481.06 230.54L479.34 230.03L478.15 229.09L476.39 227.89L475.54 226.09L474.8 224.11L473.65 222.32L471.86 221.05L471.21 218.74L469.51 217.28L467.58 216.06L465.78 214.99L463.57 214.59L461.94 213.26L460.35 211.83L458.73 210.67L456.94 209.67L455.13 209.22L453.02 209.64L451.34 208.72L449.99 207.55Z" fill="#f79d27"/>
<path d="M449.94 204.23h0M452.44 204.45h0M458.83 205.47h0M460.93 204.15h0M463.27 203.28h0M464.74 201.06h0M464.12 199.25h0M464.21 198.53h0M460.3 198.61h0M460.72 193.77h0M464.02 191.64h0M467.59 193.54h0M469.7 193.85h0M473.51 199.13h0M471.27 199.12h0M469.88 202.16h0M472.75 204.12h0M473.7 205.53h0M478.68 203.24h0M483.17 200.65h0M482.15 198.07h0M484.54 197.21h0M486.85 195.4h0M488.35 192.49h0M493.17 191.21h0M495.88 192.79h0M499.08 197.32h0M502.55 201.56h0M503.81 203.57h0M503.09 205.62h0M501.21 209.62h0M496.94 216.09h0M495.07 220.03h0M496.86 222.37h0M494.84 224.14h0M496.62 225.77h0M495.26 228.14h0M494.15 231.08h0M491.6 230.98h0M487.37 233.08h0M479.17 230.37h0M477.34 230.21h0M475.79 228.41h0M474.06 226.71h0M472.79 223.15h0M470.2 219.37h0M469.21 217.68h0M467.44 216.28h0M465.1 216.85h0M463.35 215.09h0M456.28 211.31h0M455.12 209.6h0M451.1 209.06h0" stroke="#f79d27" stroke-width="1.35" stroke-linecap="round" fill="none"/>
<path d="M488.21 210.86h0M468.07 201.8h0M474.52 220.18h0M495.35 208.84h0M496.62 208.34h0M468.36 195.55h0M497.28 208.86h0M469.61 215.33h0M469.2 206.35h0M448.46 206.04h0M489.53 204.43h0M485.06 216.55h0M484.77 215.98h0M479.31 203.97h0M483.13 215.61h0M470.65 205.68h0M494.75 200.71h0M480 206.27h0M492.22 201.78h0M490.34 210.5h0M468.67 200.06h0M482.06 222.92h0M493.96 213.38h0M489.06 208.89h0M452.83 205.92h0M471.53 211.69h0M474.88 206.04h0M495 199.3h0M495.9 205.46h0M468.07 195.34h0M483.79 212.7h0M465.78 204.24h0M494.11 204.66h0M467.61 207.3h0M484.25 209.14h0M470.07 200.26h0M491.1 209.59h0M493.4 206.17h0M485.21 218.67h0M475.06 210.22h0M483.18 219.43h0M465.04 213.47h0M477.75 216.22h0M490.55 214.34h0M460.01 208.98h0M493.3 214.14h0M489.08 205.72h0M492.86 217.72h0M496.59 208.88h0M493.3 219.2h0M477.02 226.43h0M492.23 221.02h0M481.37 226.42h0M500.21 202.27h0M488.63 225.14h0M469.54 199.9h0M468.01 211.78h0M489.11 221.56h0M495.81 205.42h0M487.94 217.94h0M470.08 212.39h0M473.68 211.65h0M490.94 198.81h0M487.4 205.27h0M492.33 194.51h0M474.26 206.25h0M491.58 201.14h0M493.33 213.54h0M480.78 216.61h0M490.9 218.77h0M492.48 208.74h0M484.71 230.19h0M470.4 211.77h0M495.29 206.71h0M473.86 212.94h0M471.92 211.52h0M498.76 198.87h0M479.05 212.95h0M483.34 206.03h0M483.07 219.32h0M487.98 194.79h0M493.78 226.77h0M491.02 220.63h0M489.29 207.7h0M498.83 206.9h0M464.96 193.61h0M471.98 208.75h0M489.93 225.12h0M470.17 218.06h0M478.49 209.76h0M478.37 226.53h0M452.22 205.92h0M482.45 225.63h0M473.58 196.03h0M487.72 199.09h0M483.03 217.88h0M480.55 204.58h0M464.59 213.27h0M492.09 195.39h0M487.49 205.91h0M457.69 207h0M475.3 207.83h0M468.82 208.68h0M493.43 206.93h0M489.2 202.17h0M458.96 208.9h0M489.61 202.07h0M496.98 200.48h0M478.56 207.89h0M497.98 203.17h0M479.94 220.11h0M468.41 195.85h0M470.2 215.43h0M480.02 220.56h0M463.06 211.24h0M458.07 208.75h0M491.71 211.19h0M475.7 211.53h0M487.24 206.13h0M499.49 201.28h0M492.43 216.02h0M483.31 224.24h0" stroke="#fff" stroke-width=".8" stroke-linecap="round" fill="none"/>
<path d="M495.11 197.88h0M458.47 209.81h0M473.89 217.58h0M469.26 208.25h0M488.39 217.61h0M469.88 214.26h0M486.99 229.6h0M493.48 227.14h0M493.99 225.69h0M487.11 199.88h0M494.27 204.27h0M494.32 203.17h0M462.49 207h0M495.02 206.18h0M486.71 214.78h0M486.78 224.24h0M485.93 213.44h0M492.35 197h0M469.7 198.54h0M486.63 214.41h0M490.51 216.7h0M480.65 228.91h0M492.33 214.14h0M468.17 194.83h0" stroke="#fff" stroke-width="1.6" stroke-linecap="round" fill="none"/>
<path d="M451.76 219.16L454.21 220.51L455.69 221.43L456.78 222.71L459.58 223.43L459.34 226.37L458.32 227.65L457.18 228.82L454.55 229.94L452.04 227.75L452.7 225.88L453.13 223.86L452 221.23Z" fill="#f79d27"/>
<path d="M454.78 219.52h0M457.2 219.66h0M457.33 221.65h0M458.5 227.82h0M451.25 228.11h0M452.4 225.8h0M451.69 224.08h0M451.68 221.32h0" stroke="#f79d27" stroke-width="1.35" stroke-linecap="round" fill="none"/>
<path d="M447.32 200.43L447.49 201.74" stroke="#f79d27" stroke-width="1.1" stroke-linecap="round" stroke-linejoin="round" fill="none"/>
<path d="M446.54 201.81h0M448.02 201.38h0" stroke="#f79d27" stroke-width="1.3" stroke-linecap="round" fill="none"/>
<path d="M450.44 169.82L452.65 170.91L455.32 171.18L456.65 169.5L458.16 168.24L460.59 168.28L462.88 169.01L463.36 171.05L464.51 172.67L466.77 172.99L468.43 175.28L470.72 174.56L472.32 173.24L471.39 174.61L470.3 175.84L469.77 177.54L469.18 179.44L467.71 180.18L469.75 180.71L471.46 181.87L473.03 183.22L475.36 183.7L477.43 185.17L479.17 184.97L480.67 185.63L482.43 185.86L480.2 185.78L478.74 187.39L476.91 187.93L475.14 187.99L473.4 187.69L471.69 187.01L469.83 187.99L467.74 187.86L465.71 187.24L463.46 186.15L462.14 187.43L460.72 188.35L458.23 188.61L457.41 186.48L457.27 183.81L454.94 183.32L454.03 181.34L455.45 179.69L455.27 178.1L454.24 176.56L453.07 175.3L451.63 172.72Z" fill="#45b8ae"/>
<path d="M449.68 169.39h0M456.05 168.92h0M457.72 166.82h0M463.46 168.43h0M465.28 171.32h0M472.35 172.7h0M471.13 176.3h0M472.41 178.35h0M469.56 179.73h0M469.95 180.28h0M475.68 182.99h0M479.27 184.24h0M483.22 188.27h0M477.18 189.52h0M475.08 188.96h0M471.76 187.87h0M469.95 188.57h0M467.25 190.56h0M464.67 189.82h0M463.48 186.46h0M461.47 190.85h0M457.76 189.43h0M456.89 186.58h0M456.73 184.23h0M452.42 181.11h0M453.99 179.13h0M454.27 178.49h0M452.63 177.82h0" stroke="#45b8ae" stroke-width="1.35" stroke-linecap="round" fill="none"/>
<path d="M478.11 184.66h0M477 187.85h0M460.88 184.81h0M459.21 173.11h0M477.86 185.93h0M458.15 182.07h0M460.19 170.03h0M459.41 183.56h0M465.31 184.44h0M461.55 185.74h0M458.29 181.39h0M461.29 172.92h0M462.71 173.94h0M459.42 182.91h0M457.25 174.59h0M459.43 185.42h0M462.54 186.58h0M468.51 185.39h0M458.6 173.25h0M465.78 175.74h0M477.22 185.98h0M462.42 170.54h0M470.74 182.93h0M460.24 178.4h0M459.6 177.02h0M465.36 186.39h0M479.34 186.67h0M470.86 185.59h0M463.54 172h0M457.48 175.6h0M463.65 179.64h0M478.84 187.05h0M470.63 175.4h0M466.98 179.78h0M463.62 175.11h0M463.76 171.51h0M467.74 176.61h0M458.39 174.39h0M466.17 177.02h0M455.49 175h0M475.4 185.93h0M457.96 183.74h0M464.51 178.86h0M460.05 169.4h0M468.08 181.2h0M457.57 168.94h0M459.32 177.01h0M457.85 171.79h0M464.89 182.43h0M461.51 184.27h0M462.95 179.35h0M461.09 172.69h0M464.61 185.51h0M460.04 172.72h0M476.45 187.86h0M462.81 183.53h0M460.47 172.24h0M457.37 177.54h0" stroke="#fff" stroke-width=".8" stroke-linecap="round" fill="none"/>
<path d="M471.67 183.41h0M456.99 178.81h0M469.5 182.7h0M456.72 174.3h0M461.36 169.98h0M461.54 182.72h0M453.49 173.11h0M478.64 186.91h0M459.46 183.13h0M458.55 187.14h0M460.95 174.51h0" stroke="#fff" stroke-width="1.6" stroke-linecap="round" fill="none"/>
<path d="M480.48 172.14L480.9 170.51L480.94 168.67L483.1 167.98L482.81 165.62L484.86 165.48L486.7 164.97L488.11 162.62L489.56 164.59L491.19 165.31L491.44 166.95L492.29 168.43L493.38 170.49L495.02 168.97L496.26 167.53L498.35 167.44L500.18 168.1L501.13 170.15L502.61 171.84L504.3 171.89L506.03 172.58L506.53 174.29L508.37 174.92L509.33 176.51L509.45 178.23L509.83 179.87L510.11 181.32L509.02 182.76L509.45 184.95L508.18 186.38L506 187.14L504.75 189.85L502.82 189.31L501.69 187.62L499.72 187.1L499.33 185.3L497.88 184.37L495.96 183.33L494.63 181.25L493.25 182.89L491.85 184.58L489.84 184.81L488.52 186.46L486.66 185.63L484.09 185.92L483.5 183.43L481.37 182.73L480.44 180.75L478.85 180.54L479.29 178.97L479.39 177.37L478.87 175.7L480.03 173.96Z" fill="#45b8ae"/>
<path d="M479.15 170.28h0M479.64 167.53h0M482.83 167.82h0M484.62 164.06h0M485.92 164.09h0M491.56 165.02h0M492.11 166.71h0M498.4 167.04h0M501.61 169.84h0M503.54 170.15h0M506.17 172.45h0M508.7 174.5h0M510 178.15h0M510.86 179.65h0M510.73 181.49h0M508.31 186.58h0M501.28 188.2h0M497.75 186.36h0M494.66 184.68h0M494.41 182.57h0M494 183.51h0M492.14 185.1h0M490.83 186.55h0M488.59 186.71h0M486.48 187.12h0M483.42 186.88h0M481.62 185.04h0M480.33 183.92h0M477.94 183.61h0M477.55 181.37h0M479.45 173.7h0" stroke="#45b8ae" stroke-width="1.35" stroke-linecap="round" fill="none"/>
<path d="M491.86 170.15h0M486.09 175.15h0M499.13 177.99h0M506.87 176.49h0M488.94 171.36h0M482.41 174.07h0M500.73 182.13h0M496.17 178.65h0M489.44 184.57h0M504.14 188.54h0M482.23 168.7h0M481.86 181.97h0M502.26 180.02h0M503.35 176.6h0M499.15 180.22h0M497.25 176.03h0M502.62 178.06h0M482.57 174.27h0M491.91 174.44h0M496.37 172.62h0M490.94 174.3h0M501.49 173.48h0M492.79 178.56h0M490.17 169.45h0M493.31 171.64h0M486.59 181.31h0M503.89 175.4h0M490.82 169.3h0M503.94 185.58h0M501.29 175.14h0M504.28 180.47h0M508.23 179.2h0M481.63 178.48h0M491.89 169.72h0M508.11 182.14h0M482.34 169.18h0M489.39 178.07h0M488.82 174.63h0M501.45 171.81h0M488.91 178.93h0M481.99 173.87h0M498.36 179.76h0M489.39 164.15h0M482.42 177.75h0M483.92 171.18h0M494.91 169.85h0M497.16 170.39h0M486.82 174.6h0M484.59 166.67h0M485.27 171.85h0M491.07 182.9h0M491.35 175.55h0M491.11 183.27h0M500.23 173.12h0M487.12 166.76h0M500.76 175.17h0M495.27 168.61h0M484.11 171.96h0M500.21 177.31h0M486.75 168.74h0M504.73 177.48h0M488.89 169.69h0M487.75 170.51h0M489.51 183.7h0M503.63 181.31h0M506.71 180.17h0M483.7 169.94h0M497.16 174.37h0M502.51 172.09h0M486.63 185.17h0M482.2 180.14h0M487.94 165.87h0M484.8 184.09h0M509.7 179.88h0M500.22 170.56h0M487.15 165.51h0M498.01 172.31h0M484.41 174.54h0M483.71 179.53h0M499.43 176.46h0M486.17 176.55h0M493.66 177.57h0M501.67 186.37h0M488.61 166.97h0M497.68 183.47h0M482.56 170.88h0M505.63 181.08h0M481.91 181.01h0M503.81 173.83h0M483.41 180.3h0M488.64 166.73h0M483.71 173.67h0M482.5 173.22h0M496.06 177.54h0M491.34 183.95h0M481.26 171.79h0M508.26 185.6h0M507.86 183.04h0M486.61 165.79h0M491.46 177.18h0M481.67 181.51h0M503.86 183.84h0M483.1 182.95h0M500.59 172.87h0M489.41 167.24h0M505.02 175.17h0M488.71 176.53h0M502.26 186.08h0M489.73 181.19h0M502.72 177.62h0M490.03 170.34h0M506.71 183.96h0M488.2 165.46h0M495.34 177.58h0M495.68 173.87h0M482.88 180.65h0M498.92 184.11h0M500.57 187.32h0M486.02 183.4h0M483.33 177h0M502.32 173.55h0M493.75 170.45h0M509.13 183.49h0M500.18 171.13h0M501.82 175.85h0" stroke="#fff" stroke-width=".8" stroke-linecap="round" fill="none"/>
<path d="M503.94 172.67h0M506.6 180.96h0M492.84 177.81h0M504.15 176.94h0M507.11 181.72h0M483.2 171.99h0M501.25 184.55h0M496.65 171.59h0M486.79 174.84h0M505.22 177.7h0M492.64 171.24h0M497.7 172.23h0M501.66 184.61h0M489.49 166.53h0M505.1 188.04h0M485.53 169h0M480.25 176.92h0M488.05 180.68h0M496.37 178.7h0M488.03 182.26h0M500.46 181.73h0M493.5 175.26h0M487.58 164.3h0M493.33 179.19h0M506.52 185.33h0" stroke="#fff" stroke-width="1.6" stroke-linecap="round" fill="none"/>
<path d="M504.63 158.96L506.89 158.21L508.92 157.53L511.23 156.98L513.35 155.79L514.76 154.79L516.69 155.73L518.65 155.73L520.26 154.59L519.59 157.3L518.27 158.63L516.08 159L515.93 161.27L514.01 162.2L514.18 164.5L512.53 165.9L510.69 167.89L510.12 166.34L508.3 165.83L506.34 163.33L505.17 161.58Z" fill="#45b8ae"/>
<path d="M503.37 158.32h0M506.72 157.71h0M510.01 153.87h0M512.53 154.46h0M516.74 155.53h0M518.34 154.77h0M520.67 154.34h0M521.8 158.38h0M517.11 162.03h0M516.49 165.43h0M513.59 167h0M510.86 168.78h0M505.86 163.68h0" stroke="#45b8ae" stroke-width="1.35" stroke-linecap="round" fill="none"/>
<path d="M509.22 161.6h0M511.3 162.14h0M518.16 157.32h0M518.31 154.98h0M513.3 162.36h0M511.78 157.13h0M511.35 162.58h0M518.67 156.99h0M514.26 159.54h0M508.63 162.53h0M509.99 158.89h0M512.34 156.83h0M511.2 164.04h0M509.98 165.33h0" stroke="#fff" stroke-width=".8" stroke-linecap="round" fill="none"/>
<path d="M514.7 160.72h0M519.24 156.06h0" stroke="#fff" stroke-width="1.6" stroke-linecap="round" fill="none"/>
<path d="M511.81 162.85L513.41 162.5L514.83 162.37L514.93 164.4L516.29 166.09L517.08 167.99L516.83 169.97L517.09 171.89L517.61 174.05L514.89 175.81L514.01 173.72L513.27 171.76L512.42 170.27L511.91 168.71L510.92 167.04L510.9 165.11Z" fill="#f79d27"/>
<path d="M511.4 162.45h0M515.76 164.08h0M518.12 169.97h0M514.83 176.45h0M513.45 173.95h0M513.06 171.86h0M512.2 170.37h0M509.19 164.75h0" stroke="#f79d27" stroke-width="1.35" stroke-linecap="round" fill="none"/>
<path d="M514.12 162.67h0M514.66 170.79h0M513.69 170.62h0M514.76 165.84h0M513.07 166.61h0" stroke="#fff" stroke-width=".8" stroke-linecap="round" fill="none"/>
<path d="M516.72 169.02h0" stroke="#fff" stroke-width="1.6" stroke-linecap="round" fill="none"/>
<path d="M519.93 163.12L521.77 162.18L523.82 161.32L524.44 162.86L523.45 164.66L524.87 165.95L525 168.13L525.99 170L523.74 171.79L522.55 170.38L520.43 169.21L520.17 167.51L519.78 165.83L519.71 164.08Z" fill="#f79d27"/>
<path d="M520.83 160.17h0M524.1 164.57h0M526.14 165.38h0M525.82 167.9h0M526.41 170.15h0M519.64 167.61h0M518.24 166.04h0" stroke="#f79d27" stroke-width="1.35" stroke-linecap="round" fill="none"/>
<path d="M524.65 169.69h0M520.48 164.78h0M522.32 169.47h0" stroke="#fff" stroke-width=".8" stroke-linecap="round" fill="none"/>
<path d="" stroke="#fff" stroke-width="1.6" stroke-linecap="round" fill="none"/>
<path d="M523.74 168.48L525.99 169.35L527.92 169.18L530.03 168.57L532.49 167.34L534.07 167.92L535.03 170.03L536.8 169.52L539.02 170.14L541.07 169.64L543.06 169.29L545.31 168.46L547.14 170.43L549.22 170.01L549.49 172.13L551.7 174.19L550.11 175.39L549.66 177.15L548.58 178.6L547.8 180.75L546.11 182.14L544.6 182.9L543.27 184.09L541.54 184.69L539.47 185.02L537.39 183.98L534.94 184.83L533.76 183.71L532.64 182.52L531.49 181.3L529.42 180.6L527.3 178.81L525.75 179.32L524.71 180.33L524.22 178.74L523.27 178.32L524.2 176.33L525.56 175.79L525.37 173.84L525.65 171.63L524.06 170.64Z" fill="#f79d27"/>
<path d="M527.66 167.86h0M529.7 167.74h0M532.37 166.62h0M539.03 169.82h0M540.76 168.17h0M542.68 167.92h0M547.33 169.95h0M549.86 171.91h0M552.9 173.96h0M549.29 178.97h0M546.5 182.72h0M544.78 183.17h0M543.37 184.27h0M541.6 184.9h0M539.42 185.29h0M537.36 184.69h0M534.85 186.04h0M532.14 185.32h0M531.26 181.69h0M529.19 180.99h0M526.46 181.22h0M526.35 180.35h0M523.88 182.48h0M523.65 179.15h0M522.87 178.32h0M523.73 170.83h0" stroke="#f79d27" stroke-width="1.35" stroke-linecap="round" fill="none"/>
<path d="M546.34 182.12h0M544.42 170.85h0M532.56 171.31h0M546.2 174.26h0M549.1 172.29h0M538.95 179.01h0M529.4 174.26h0M528.02 170.27h0M530.64 178.47h0M540.72 176.59h0M546.78 180.3h0M528.73 176.75h0M527.6 171.99h0M541.25 169.48h0M528.99 177.68h0M525.48 177.26h0M544.52 171.96h0M539.37 176.67h0M533.94 174.94h0M538 181.72h0M537.95 179.72h0M540.74 183.66h0M528.92 177.3h0M535.17 171.82h0M544.76 171.65h0M542.75 176.02h0M534.82 179.55h0M530.25 178.94h0M536.74 183.35h0M535.39 173.87h0M537.78 173.07h0M525.8 175.93h0M524.83 170.85h0M535.3 173.72h0M536.87 176.68h0M533.74 170.23h0M550.05 172.63h0M532.71 173.25h0M543.67 176.08h0M526.57 171.41h0M533.19 174.55h0M535.17 177.42h0M539.52 181.53h0M532.23 168.64h0M543.74 174.13h0M540.88 172.67h0M548.6 174.05h0M529.09 172.46h0M536.5 184.01h0M526.09 171.48h0M534.47 180.79h0M542.83 180.96h0M532.86 181.3h0M536.08 182.56h0M536.25 172.25h0M527.07 176.13h0M547.38 177.39h0M547.05 170.51h0" stroke="#fff" stroke-width=".8" stroke-linecap="round" fill="none"/>
<path d="M536.32 175.68h0M525.87 172.34h0M537.12 177.97h0M547.3 170.73h0M529.58 170.28h0M537.21 177.53h0M535.75 175.7h0M526.8 179.74h0M537.92 173.08h0M535.47 172.23h0M543.71 182.78h0" stroke="#fff" stroke-width="1.6" stroke-linecap="round" fill="none"/>
<path d="M491.38 155.42L494.03 156.95L498.23 157.33" stroke="#cc2139" stroke-width="1.66" stroke-linecap="round" stroke-linejoin="round" fill="none"/>
<path d="M491.78 155.58h0M493.6 154.67h0M492.39 156.43h0M491.16 156.44h0M493.6 156.38h0M494.77 157.48h0M494.3 154.53h0M496.71 156.01h0M495.88 156.31h0M497.95 157.01h0M495.14 155.31h0M494.26 156.68h0" stroke="#cc2139" stroke-width="1.3" stroke-linecap="round" fill="none"/>
<path d="M530.66 155.92L531.89 152.16L534.7 150.21L538.38 150.21L541.44 152.16L542.66 155.62L541.44 158.93L538.38 160.73L534.7 160.73L531.89 159.23Z" stroke="#f79d27" stroke-width="2.3" stroke-linecap="round" stroke-linejoin="round" fill="none"/>
<path d="M530.91 154.38h0M532.95 152.62h0M529.28 155.33h0M531.79 154.14h0M531.5 153.78h0M532.21 154.57h0M532.7 149.18h0M532.05 151.67h0M532.49 151.45h0M531.93 148.39h0M534.67 150.98h0M535.16 149.68h0M536.44 152.15h0M538.36 150.69h0M535.5 150.55h0M535.18 151.49h0M537.85 151.27h0M540.12 147.54h0M539.28 150.55h0M539.39 150.4h0M540.57 152.12h0M540.31 153.23h0M538.06 150.74h0M540.72 154.77h0M540.81 154.4h0M541.85 152.46h0M543.14 151.87h0M541.56 152.53h0M544.11 153.34h0M543.66 157.33h0M542.04 156.29h0M542.63 157.73h0M541.28 156.75h0M543.54 158.12h0M540.81 159.14h0M539.36 159.48h0M539.87 161.26h0M540.85 158.08h0M539.58 159.97h0M535.36 159.09h0M537.31 161.08h0M537.43 159.27h0M537.55 160.64h0M535.57 159.62h0M537.44 160.74h0M531.27 161.5h0M534.77 158.93h0M534.59 160.47h0M532.38 159.27h0M533.11 159.12h0M530.02 157.35h0M532.99 158.22h0M529.58 157.52h0M530.55 157.52h0M531.1 158.56h0" stroke="#9069d2" stroke-width="1.3" stroke-linecap="round" fill="none"/>
<path d="M543.17 148.81L543.53 147.02L544.62 145.83L545.98 144.11L547.28 145.32L548.47 145.65L550.64 145.05L552.43 143.87L554.15 141.91L555.8 142.43L557.23 142.54L559.19 142.78L561.16 143.07L562.9 142.21L564.36 141.9L566.05 143.03L567.15 144.64L566.5 146.51L566.23 148.91L564.27 149.84L561.7 150.48L561.01 152.33L561.29 154.49L560.54 156.71L559.84 159.14L557.96 159.31L556.47 159.13L554.63 158.65L552.91 158.17L551.49 157.33L550.38 156.16L548.79 155.12L546.61 154.87L545.38 153.34L544.33 152.02L543 150.37Z" fill="#f79d27"/>
<path d="M548.41 143.49h0M548.42 144.99h0M550.09 143.83h0M551.44 142.77h0M553.07 139.38h0M559.34 141.63h0M561.07 142.46h0M562.52 141.18h0M564.8 140.21h0M566.78 149.28h0M562.53 151.57h0M561.7 152.4h0M562.03 157.17h0M557.96 159.64h0M556.26 160.22h0M554.19 160.26h0M552.25 159.76h0M550.84 158.14h0M549.24 157.55h0M548.67 155.46h0M546.12 155.81h0M544.05 152.24h0M540.73 151.19h0" stroke="#f79d27" stroke-width="1.35" stroke-linecap="round" fill="none"/>
<path d="M561.69 142.5h0M559.88 152.84h0M554.47 153.63h0M555.43 144.94h0M559.69 143.96h0M556.57 150.86h0M560.04 150.52h0M552.06 151.6h0M543.2 147.98h0M549.59 156.16h0M558.6 152.55h0M560.81 146.46h0M548.89 149.04h0M554.65 151.47h0M564.2 142.89h0M551.42 154.02h0M555.75 150.61h0M559.07 147.79h0M566.41 146.62h0M555.25 143.52h0M554.94 158.9h0M561.32 148.2h0M563.61 142.87h0M552.18 149.31h0M557.56 151.14h0M558.7 142.97h0" stroke="#fff" stroke-width=".8" stroke-linecap="round" fill="none"/>
<path d="M551.57 150.16h0M566.49 145.15h0M556.4 154.97h0M560.21 151.51h0M558.06 153.7h0" stroke="#fff" stroke-width="1.6" stroke-linecap="round" fill="none"/>
<path d="M566.53 140.88L568.98 137.12L572.04 140.13" stroke="#9069d2" stroke-width="1.47" stroke-linecap="round" stroke-linejoin="round" fill="none"/>
<path d="M566.85 140.14h0M567.93 139.98h0M567.32 137.21h0M567.02 139.64h0M566.69 140.65h0M565.95 138.75h0M566.68 139.06h0M570.57 137.88h0M570.39 139.55h0M569.02 139.77h0M570.16 137.62h0M570.29 139h0M569.46 137.52h0M570.7 138.47h0" stroke="#9069d2" stroke-width="1.3" stroke-linecap="round" fill="none"/>
<path d="M568.98 137.12L568.12 131.86L569.59 127.65L572.65 125.84L575.71 126.74L575.22 131.1" stroke="#9069d2" stroke-width="1.56" stroke-linecap="round" stroke-linejoin="round" fill="none"/>
<path d="M569.74 136.68h0M567.1 132.37h0M567.68 137.09h0M568.04 133.76h0M568.12 134.98h0M569.09 133.02h0M568.3 135.06h0M568.91 134.32h0M566.54 130.41h0M568.99 131.53h0M569.39 128.89h0M568.5 131.8h0M570.13 128.18h0M569.17 130.81h0M568.63 129.51h0M570.65 127.49h0M572.13 127h0M570.99 127.98h0M571.65 126.11h0M571.74 126.73h0M573.03 125.8h0M573.16 125.77h0M574.81 125.99h0M573.83 125.67h0M573.31 126.37h0M576.37 127.63h0M576.39 129.37h0M576.03 127.89h0M574.38 128.49h0M574.93 129.34h0M574.94 127.06h0M576.26 128.42h0" stroke="#9069d2" stroke-width="1.3" stroke-linecap="round" fill="none"/>
<path d="M582.44 142.38L586.11 143.14L590.4 146.14L594.68 150.21" stroke="#9069d2" stroke-width="3.13" stroke-linecap="round" stroke-linejoin="round" fill="none"/>
<path d="M584.68 143.37h0M582.86 141.97h0M583.17 145.8h0M583.56 143.87h0M583.19 142.64h0M582.76 143.21h0M589.19 147.47h0M591.81 143.79h0M588.12 147.92h0M587.96 140.73h0M591.71 143.13h0M588.02 146.03h0M587.25 145.38h0M586.03 144.59h0M590.66 146.92h0M592.1 151.82h0M590.63 148.42h0M592.52 148.86h0M593.36 144.81h0M592.24 149.76h0M590.41 146.82h0M590.45 150.27h0M590.97 147.28h0" stroke="#9069d2" stroke-width="1.3" stroke-linecap="round" fill="none"/>
<path d="M594.68 150.21L597.5 154.42L598.6 159.68" stroke="#9069d2" stroke-width="1.84" stroke-linecap="round" stroke-linejoin="round" fill="none"/>
<path d="M594.72 151.31h0M596.68 150.29h0M596.79 152.66h0M596.74 153.14h0M596.76 151.84h0M597.91 153.78h0M595.01 152.37h0M595.82 152.53h0M598.46 154.45h0M597.06 156.42h0M598.65 155.74h0M600.43 158.42h0M596.97 156.61h0M597.01 155.62h0M597.48 154.6h0M597.57 157.51h0" stroke="#9069d2" stroke-width="1.3" stroke-linecap="round" fill="none"/>
<path d="M591.99 154.42L595.54 155.32" stroke="#9069d2" stroke-width="1.47" stroke-linecap="round" stroke-linejoin="round" fill="none"/>
<path d="M592.16 153.99h0M594.33 154.95h0M594.44 153.89h0M593.83 154.95h0M592.25 153.6h0M594.98 155.41h0" stroke="#9069d2" stroke-width="1.3" stroke-linecap="round" fill="none"/>
<path d="M569.3 157.87L570.27 155.97L572.02 155.19L574.15 156.63L574.17 158.41L573.57 160.12L573.95 161.88L574.84 163.65L576.45 164.74L578.5 166.17L577.4 168.12L575.77 169.58L574.29 170.44L572.52 171.49L569.7 169.99L567.96 169.65L566.57 168.59L563.75 167.62L565.34 166.17L566.84 164.85L567.64 163.03L568.65 161.23L568.19 159.23Z" fill="#b0eb92"/>
<path d="M572.18 154.28h0M575.26 160.23h0M574.56 161.66h0M576.15 162.51h0M579.87 165.78h0M577.64 168.3h0M574.69 171.11h0M572.45 172.21h0M565.98 169.8h0M564.67 165.43h0M565.79 164.08h0M568.18 161.16h0" stroke="#b0eb92" stroke-width="1.35" stroke-linecap="round" fill="none"/>
<path d="M577.72 167.19h0M572.06 160.75h0M572 169.07h0M575.09 167.92h0M571.13 168.72h0M571.63 166.65h0M570.67 159.94h0M570.24 158.7h0M571.18 166.32h0M569.39 165.63h0M572.1 170.31h0" stroke="#fff" stroke-width=".8" stroke-linecap="round" fill="none"/>
<path d="M571.59 157.92h0M568.58 169.45h0" stroke="#fff" stroke-width="1.6" stroke-linecap="round" fill="none"/>
<path d="M581.85 166.52L583.74 166.44L585.6 165.6L586.65 167.59L588.59 168.7L589.37 170.39L589.24 172.4L590.47 173.96L590.34 176L591.15 177.94L591.17 180.02L591.16 182.1L590.34 184.03L589.42 185.75L588.4 187.26L587.98 189.17L586.89 190.92L584.66 190.7L583.03 191.9L581.16 192.1L579.39 192.72L577.44 192.9L575.75 192.09L574.33 193.08L573.01 193.62L571.74 195.7L571.59 198.08L570.64 200.24L570.17 202.53L569.63 204.07L569.19 205.64L567.94 206.88L568.19 208.74L566.7 209.89L566.31 211.43L565.71 213.72L564.22 215.99L562.21 215.52L559.98 216.55L559.62 214.48L557.33 213.72L558.68 212.01L559.08 210.48L559.51 208.33L561.46 206.88L560.08 205.69L560.16 203.46L557.5 202.04L555 201.62L552.85 199.86L551.26 199.13L550.1 197.84L548.33 197.58L546.95 196.52L545.13 196.36L543.88 195.51L540.58 194.63L538.93 196.35L539.51 198.24L539.67 200.23L540.85 201.77L541.59 203.37L542.11 205.22L542.49 207.41L544 208.19L545.79 208.42L547.14 209.53L549.14 210.16L548.27 212.35L547.87 214.91L545.94 215.28L545.21 217.31L543.27 217.22L541.29 217.7L540.5 215.85L538.87 214.82L537.51 213.71L535.62 213.01L536.49 209.96L538.29 209.77L539.87 208.61L539.56 206.62L540.82 204.5L539.13 203L538.31 201.05L537.77 199.21L537.95 197.43L539.01 195.8L540.22 194.3L541.95 193.41L543.84 193.82L546.03 193.36L547.99 193.81L550.07 194.54L551.63 196.04L553.42 197.6L555.37 199.13L557.56 199.03L559.34 200.39L559.96 198.12L561.31 196.48L562.26 194.32L562.17 192.03L562.62 189.67L561.07 187.28L562.07 185.93L563.36 184.7L563.45 182.98L564.49 181.49L565.31 179.85L566.81 178.57L566.6 176.42L567.68 174.57L569.55 174.51L570.98 172.8L572.85 173.47L574.59 174.97L576.21 173.69L577.8 172.86L579.31 171.33L581.81 170.31L581.06 168.25Z" fill="#b0eb92"/>
<path d="M581.43 165.91h0M583.31 164.7h0M589.58 172.3h0M592.22 173.43h0M591.29 175.84h0M591.38 177.9h0M589.93 187.9h0M588.84 189.52h0M587.28 191.76h0M584.74 191.03h0M583.13 192.15h0M581.65 194.29h0M574.9 194.09h0M573.46 194.07h0M572 198.18h0M571.3 200.45h0M571.92 203h0M571.03 204.5h0M568.59 208.9h0M567.63 210.54h0M567.43 211.72h0M567.42 214.5h0M562.32 216.39h0M558.97 215.09h0M557.08 213.82h0M557.41 211.33h0M558.34 210.31h0M561.09 206.8h0M556.33 205.34h0M552.24 200.77h0M549.58 198.82h0M548.15 198.01h0M546.41 197.94h0M543.15 197.43h0M540.01 198.14h0M540.25 200.01h0M543.38 206.84h0M545.91 208.13h0M547.89 208.09h0M548.79 212.49h0M548.19 215.17h0M543.34 217.91h0M540.4 219.51h0M536.81 214.97h0M535.43 213.06h0M535.33 209.01h0M537.61 208.06h0M539.43 208.43h0M539.14 206.53h0M540.2 204.58h0M538.4 203.53h0M536.1 201.84h0M539.97 194h0M541.87 192.81h0M546.02 191.57h0M548.31 192.72h0M550.37 194.05h0M555.59 198.48h0M557.78 198.33h0M559.94 193.87h0M559.81 187.46h0M562.55 184.33h0M562.54 182.66h0M564.26 181.35h0M564.21 178.98h0M565.43 178.05h0M565.18 176.12h0M567.17 173.79h0M569.05 173.57h0M570.29 170.61h0M576.07 173.48h0M577.11 171.94h0M578.63 170.27h0M577.15 168.22h0" stroke="#b0eb92" stroke-width="1.35" stroke-linecap="round" fill="none"/>
<path d="M588.74 185.17h0M580.35 187.26h0M571.9 187.03h0M584.31 180.94h0M543.99 215.85h0M571.91 194.15h0M577.2 175.02h0M541.36 206.63h0M565.9 207.13h0M541.38 203.22h0M563.86 205.33h0M547.58 209.84h0M573.59 175.93h0M538.29 198.91h0M571.71 192.45h0M578.28 191.12h0M584.7 189.38h0M582.51 172.21h0M564.34 204.33h0M578.95 185.79h0M545.18 215.55h0M569.49 199.59h0M567.35 186.69h0M568.84 175.54h0M540.95 202.29h0M586.03 170.33h0M570.36 193.41h0M579.73 171.76h0M559 202.39h0M588.43 187.85h0M543.21 207.66h0M564.9 192.95h0M573.2 186.7h0M564.94 185.34h0M576.49 185.48h0M575.13 176.05h0M537.07 211.17h0M540.98 215.01h0M560.6 210.11h0M564.74 197.16h0M573.79 174.99h0M545.49 212.37h0M567 181.87h0M571 183.29h0M579.4 190.89h0M570.27 201.76h0M569.37 177.54h0M562.75 187.56h0M564.75 183.1h0M579.69 191.22h0M563.44 209.47h0M560.9 215.29h0M587.2 186.76h0M545.17 211.2h0M579.5 183.14h0M582.65 171h0M561.95 215.58h0M589.8 176.42h0M570.53 196.57h0M564.48 205.86h0M565.1 182.03h0M559.7 209.22h0M567.86 196.61h0M586.69 169h0M569.38 204.4h0M568.75 177.24h0M540.27 204.25h0M566.72 179.45h0M580.93 188.36h0M584.64 181.16h0M575.11 176.87h0M578.69 182.81h0M582.41 172.98h0M586.15 188.24h0M565.04 193.05h0M574.22 186.27h0M583.17 166.59h0M566.47 192.84h0M563.92 193.63h0M586.34 171.74h0M581.22 182.28h0M565.63 195.18h0M575.47 183.45h0M569.32 203.89h0M556.95 201.07h0M585.69 184.86h0M564.91 190.81h0M582.12 179.7h0M571.86 173.71h0M576.17 187.09h0M571.71 174.73h0M567.04 201.4h0M564.45 204.62h0M572.1 190.8h0M563.34 185.02h0M567.77 185.03h0M584.71 169.4h0M584.68 172.97h0M545.07 212.49h0M579.7 182.41h0M561.77 210.06h0M564.95 184.13h0M572.99 191.03h0M540.96 208.83h0M577.86 190.49h0M566.89 207.41h0M563.16 190.37h0M562.62 203.89h0M576.44 183.07h0M578.69 185.19h0M573.04 185.28h0M578.76 185.48h0M539.46 211.94h0M577.41 187.55h0M542.42 210.05h0M564.27 184.59h0M562.89 189.44h0M566.94 204.08h0" stroke="#fff" stroke-width=".8" stroke-linecap="round" fill="none"/>
<path d="M563.12 199.08h0M590.82 180.24h0M536.19 212.17h0M564.84 199.22h0M581.75 184.52h0M582.63 168.84h0M566.74 199.02h0M584.07 185.51h0M571.3 188.9h0M571.19 175.31h0M567.61 175.28h0M565.77 182.57h0M577.21 185.18h0M566.31 195.79h0M585.89 166.15h0M558.36 212.77h0M581.67 172.54h0M582.44 181.81h0M555.42 200.45h0M567.86 203.25h0M571.04 196.01h0M564.07 199.73h0M563.28 186.33h0" stroke="#fff" stroke-width="1.6" stroke-linecap="round" fill="none"/>
<path d="M513.41 190.4L515.62 189.92L517.02 188.57L518.63 188.07L520.25 187.56L521.71 188.63L523.62 189.74L525.34 190.91L525.26 192.94L525.79 194.89L526.83 196.95L525.37 198.72L525.47 200.81L524.9 202.48L523.16 204.17L521.01 205.78L519.51 204.44L517.83 204.94L516.67 204.47L515.05 203.63L514.06 202.33L513.88 200.79L513.73 198.8L513.46 196.82L513.27 194.92L512.68 192.73Z" fill="#cc2139"/>
<path d="M516.54 187.79h0M518.52 187.7h0M522.13 187.98h0M525.91 190.61h0M527.05 192.74h0M526.48 194.62h0M525.08 202.6h0M524.25 205.46h0M517.83 205.42h0M516.44 204.96h0M512.62 202.93h0M512.71 200.9h0M511.06 197.1h0M512.83 195h0M511.46 192.69h0" stroke="#cc2139" stroke-width="1.35" stroke-linecap="round" fill="none"/>
<path d="M518.7 207.45L519.48 208.89L520.59 210.1L520.65 211.92L521.68 213.24L522.35 214.71L523.02 216.17L522.68 218.05L524.72 219.25L524.82 221.23L525.04 223.17L526.96 224.74L526.22 226.68L525.75 229.05L524.13 228.39L522.6 227.53L520.72 227.33L519.81 225.13L517.96 224.74L516.34 223.59L513.93 223.92L512.26 223.13L512.4 221.35L511.93 220.02L512.68 218.5L512.91 216.69L513.85 215.27L514.64 213.78L516.25 212.71L516.37 210.74L517.7 209.5Z" fill="#cc2139"/>
<path d="M518.43 206.67h0M520.17 208.4h0M521.62 209.7h0M521.71 211.55h0M523.92 213.98h0M523.67 216.11h0M525.12 221.21h0M527.56 224.54h0M523.02 230.69h0M522.35 228.32h0M520.02 228.14h0M519.55 225.4h0M516.18 224.36h0M513.72 225.78h0M511.86 223.37h0M511.6 221.44h0M511.83 218.25h0M511.74 214.02h0M513.99 213.17h0M515.78 210.47h0M515.87 208.21h0" stroke="#cc2139" stroke-width="1.35" stroke-linecap="round" fill="none"/>
<path d="M525.48 227.2h0M516.98 222.21h0M522.25 221.45h0M511.7 222.14h0M519.5 210h0M517.76 211.59h0M517.74 220.45h0M524.25 226.4h0M521.3 222.13h0M521.04 224.55h0M523.51 220.84h0M520.95 214.17h0M518.63 218.29h0M524.71 222.88h0M524.58 223.42h0M514.66 221.36h0M513.1 221.21h0M516.55 215.87h0M523.67 225.33h0M522.54 217.1h0M522.63 222.11h0M526.05 224.5h0M518.44 224.99h0M521.89 215.42h0M513.85 217.3h0M513.46 217.68h0M512.84 222.95h0M512.96 220.96h0M520.98 211.93h0M520.74 219.24h0M520.57 211.64h0M518.49 225.23h0M520.61 212.87h0M519.04 216.76h0M515.72 217.21h0M523.76 223.64h0M514.3 214.41h0M519.15 223.49h0M518.93 225.48h0M517.44 219.37h0M516.38 215.48h0" stroke="#fff" stroke-width=".8" stroke-linecap="round" fill="none"/>
<path d="M522.4 224.11h0M513.97 215.06h0M511.73 222.21h0M518.26 218.82h0M520.31 214.4h0M522.66 222.69h0M517.58 210.95h0M522.8 222.41h0" stroke="#fff" stroke-width="1.6" stroke-linecap="round" fill="none"/>
<path d="M543.88 147.65L548.78 145.39L554.29 142.08L561.02 142.08L565.92 142.38" stroke="#9069d2" stroke-width="1.01" stroke-linecap="round" stroke-linejoin="round" fill="none"/>
<path d="M546.66 146.41h0M545.62 148.26h0M547.2 145.96h0M548.47 145.96h0M545.14 146.34h0M548.73 145.63h0M548.17 145.56h0M546.33 147.06h0M551.92 143.29h0M553.99 142.86h0M550.12 144.92h0M549.74 144.86h0M550.05 143.87h0M552.09 143.17h0M550.86 143.92h0M552.87 143.67h0M549.28 145.15h0M549.61 144.78h0M560.01 141.62h0M556.83 141.55h0M558.82 141.4h0M560.78 142.8h0M560.79 143.34h0M559.42 141.16h0M556.16 142.39h0M559.98 141.52h0M554.96 141.48h0M558.28 142.58h0M557.03 142.48h0M564.55 141.94h0M563.17 142.46h0M561.38 143.15h0M561.13 141.77h0M565 142.45h0M563 142.19h0M563.12 142.13h0M563.96 142.19h0" stroke="#9069d2" stroke-width="1.3" stroke-linecap="round" fill="none"/>
<path d="M501.8 179.16L502.72 177.59L504.16 176.73L505.52 176.21L506.97 177.06L508.33 178.04L509.99 178.97L509.38 180.55L509.36 182.17L509.44 183.8L509.25 185.11L507.56 185.83L505.91 186.7L504.07 186.91L503.27 185.08L501.83 183.92L501.56 182.27L501.97 180.61Z" fill="#f79d27"/>
<path d="M501.55 179.1h0M502.25 177.13h0M505.6 175.49h0M509.13 176.77h0M510.59 178.72h0M510.32 183.84h0M507.76 186.26h0M503.57 187.72h0M501.91 186.1h0M500.43 182.22h0" stroke="#f79d27" stroke-width="1.35" stroke-linecap="round" fill="none"/>
<path d="M505.42 184.58h0M502.53 182.97h0M504.31 183.55h0M504.05 178.02h0M503.82 183.88h0M507.41 185.95h0M504.99 176.69h0M508.19 178.78h0M507.45 181.32h0M505.24 176.31h0M503.48 184.15h0M505.37 185.61h0M508.17 181.81h0M504.89 181.81h0M502.86 182.32h0M503.84 180.15h0M505.41 179.14h0M503.03 183.27h0M506.71 176.85h0M503.45 179.05h0" stroke="#fff" stroke-width=".8" stroke-linecap="round" fill="none"/>
<path d="M504.59 181.33h0M506.29 182.8h0M503.73 179.86h0M505.25 185.67h0" stroke="#fff" stroke-width="1.6" stroke-linecap="round" fill="none"/>
<path d="M488.12 168.8L490.7 167.03L490.71 168.79L491.4 170.37L492.25 172.07L491.47 173.72L491.02 175.45L490.86 177.25L490.61 178.6L487.75 176.96L487.81 174.97L488.48 173.01L488.28 171.01Z" fill="#f79d27"/>
<path d="M490.7 165.43h0M491.68 168.59h0M492.62 169.8h0M493.95 172.03h0M491.98 175.62h0M492.51 177.46h0M490.44 180.44h0M486.79 174.78h0M487.85 171.04h0" stroke="#f79d27" stroke-width="1.35" stroke-linecap="round" fill="none"/>
<path d="M489.27 173.6h0M491.23 173.78h0M490.39 168.7h0M491.26 174.66h0M490.52 170.65h0M490.98 173.31h0M491.02 175.12h0M489.65 173h0M491.25 174.12h0" stroke="#fff" stroke-width=".8" stroke-linecap="round" fill="none"/>
<path d="M489.78 176.61h0" stroke="#fff" stroke-width="1.6" stroke-linecap="round" fill="none"/>
<path d="M427.62 124.28L431.26 120.81L433.69 117.82" stroke="#45b8ae" stroke-width="1.66" stroke-linecap="round" stroke-linejoin="round" fill="none"/>
<path d="M428.06 124.59h0M429.57 121.89h0M429.9 124.09h0M429.91 123.68h0M426.92 122.71h0M429.24 122.56h0M428.96 122.46h0M427.57 124.23h0M432.88 117.68h0M432.24 119.25h0M432.49 118.96h0M431.87 118.13h0M433.19 117.49h0M431.2 120.25h0" stroke="#45b8ae" stroke-width="1.3" stroke-linecap="round" fill="none"/>
<path d="M432.07 119.31L434.09 117.33" stroke="#9069d2" stroke-width="1.29" stroke-linecap="round" stroke-linejoin="round" fill="none"/>
<path d="M432.63 118.71h0M433.59 117.59h0M432.66 118.8h0M434.54 118.6h0" stroke="#9069d2" stroke-width="1.3" stroke-linecap="round" fill="none"/>
<line x1="394" y1="17" x2="394" y2="253.8" stroke="#000" stroke-width="1.6"/>
<line x1="393.2" y1="253" x2="621" y2="253" stroke="#000" stroke-width="1.6"/>
<g font-size="6.3" text-anchor="middle">
<line x1="445.5" y1="253" x2="445.5" y2="255.2" stroke="#000" stroke-width="0.9"/>
<text x="445.5" y="261.6">−25</text>
<line x1="506.5" y1="253" x2="506.5" y2="255.2" stroke="#000" stroke-width="0.9"/>
<text x="506.5" y="261.6">0</text>
<line x1="568.5" y1="253" x2="568.5" y2="255.2" stroke="#000" stroke-width="0.9"/>
<text x="568.5" y="261.6">25</text>
</g><g font-size="6.3" text-anchor="end">
<line x1="391.8" y1="66.75" x2="394" y2="66.75" stroke="#000" stroke-width="0.9"/>
<text x="390.4" y="69.55">25</text>
<line x1="391.8" y1="130" x2="394" y2="130" stroke="#000" stroke-width="0.9"/>
<text x="390.4" y="132.8">0</text>
<line x1="391.8" y1="193" x2="394" y2="193" stroke="#000" stroke-width="0.9"/>
<text x="390.4" y="195.8">−25</text>
</g>
<text x="507.5" y="270.1" font-size="7.3" text-anchor="middle">tSNE_1</text>
<text x="376.3" y="135" font-size="7.3" text-anchor="middle" transform="rotate(-90 376.3 135)">tSNE_2</text>
<g font-size="7.4" text-anchor="middle">
<text x="440" y="51.1">Smooth_muscle_cells</text>
<text x="437.5" y="61.1">CMP</text>
<text x="533.5" y="69.6">B_cell</text>
<text x="585.5" y="87.6">Normal_epithelium</text>
<text x="491.5" y="123.1">T_cells</text>
<text x="549" y="123.1">NK_cell</text>
<text x="447" y="177.1">Adenoma_epithelium</text>
<text x="569" y="191.6">Monocyte</text>
<text x="477.5" y="211.8">CRC_epithelium</text>
</g>
<g font-size="6.3">
<circle cx="631.75" cy="104.75" r="2.5" fill="#cc2139"/>
<text x="639.75" y="106.95">B_cell</text>
<circle cx="631.75" cy="112.9" r="2.5" fill="#2f4db0"/>
<text x="639.75" y="115.1">CMP</text>
<circle cx="631.75" cy="121.05" r="2.5" fill="#45b8ae"/>
<text x="639.75" y="123.25">Adenoma_epithelium</text>
<circle cx="631.75" cy="129.2" r="2.5" fill="#f79d27"/>
<text x="639.75" y="131.4">CRC_epithelium</text>
<circle cx="631.75" cy="137.35" r="2.5" fill="#9069d2"/>
<text x="639.75" y="139.55">Normal_epithelium</text>
<circle cx="631.75" cy="145.5" r="2.5" fill="#b0eb92"/>
<text x="639.75" y="147.7">Monocyte</text>
<circle cx="631.75" cy="153.65" r="2.5" fill="#f4858b"/>
<text x="639.75" y="155.85">NK_cell</text>
<circle cx="631.75" cy="161.8" r="2.5" fill="#4687cc"/>
<text x="639.75" y="164">Smooth_muscle_cells</text>
<circle cx="631.75" cy="169.95" r="2.5" fill="#93d412"/>
<text x="639.75" y="172.15">T_cells</text>
</g>
</g>
<g id="panelC">
<g>
<circle cx="65.5" cy="317.6" r="2.2" fill="#5e36b6"/>
<circle cx="78.3" cy="317.6" r="1.42" fill="#5e36b6"/>
<circle cx="91.09" cy="317.6" r="1.62" fill="#5e36b6"/>
<circle cx="103.88" cy="317.6" r="1.02" fill="#5e36b6"/>
<circle cx="116.68" cy="317.6" r="2.22" fill="#5e36b6"/>
<circle cx="129.47" cy="317.6" r="0.68" fill="#553fb8"/>
<circle cx="142.27" cy="317.6" r="0.68" fill="#553fb8"/>
<circle cx="155.06" cy="317.6" r="0.68" fill="#553fb8"/>
<circle cx="167.86" cy="317.6" r="0.68" fill="#553fb8"/>
<circle cx="180.66" cy="317.6" r="0.68" fill="#553fb8"/>
<circle cx="193.45" cy="317.6" r="0.68" fill="#553fb8"/>
<circle cx="206.25" cy="317.6" r="0.68" fill="#553fb8"/>
<circle cx="219.04" cy="317.6" r="0.68" fill="#553fb8"/>
<circle cx="231.84" cy="317.6" r="0.68" fill="#553fb8"/>
<circle cx="244.63" cy="317.6" r="0.68" fill="#553fb8"/>
<circle cx="257.43" cy="317.6" r="1.12" fill="#5144b9"/>
<circle cx="270.22" cy="317.6" r="0.68" fill="#553fb8"/>
<circle cx="283.01" cy="317.6" r="0.68" fill="#553fb8"/>
<circle cx="295.81" cy="317.6" r="0.68" fill="#553fb8"/>
<circle cx="308.61" cy="317.6" r="0.68" fill="#553fb8"/>
<circle cx="321.4" cy="317.6" r="1.02" fill="#5e36b6"/>
<circle cx="334.19" cy="317.6" r="0.68" fill="#553fb8"/>
<circle cx="346.99" cy="317.6" r="0.68" fill="#553fb8"/>
<circle cx="359.79" cy="317.6" r="1.22" fill="#553fb8"/>
<circle cx="372.58" cy="317.6" r="1.12" fill="#553fb8"/>
<circle cx="385.38" cy="317.6" r="0.68" fill="#553fb8"/>
<circle cx="398.17" cy="317.6" r="0.68" fill="#553fb8"/>
<circle cx="410.96" cy="317.6" r="0.68" fill="#553fb8"/>
<circle cx="423.76" cy="317.6" r="0.68" fill="#553fb8"/>
<circle cx="436.56" cy="317.6" r="1.12" fill="#5e36b6"/>
<circle cx="449.35" cy="317.6" r="0.68" fill="#5e36b6"/>
<circle cx="462.14" cy="317.6" r="2.22" fill="#8130bb"/>
<circle cx="474.94" cy="317.6" r="0.92" fill="#7033b8"/>
<circle cx="487.74" cy="317.6" r="1.52" fill="#8130bb"/>
<circle cx="500.53" cy="317.6" r="1.22" fill="#7033b8"/>
<circle cx="513.33" cy="317.6" r="0.68" fill="#553fb8"/>
<circle cx="526.12" cy="317.6" r="0.68" fill="#553fb8"/>
<circle cx="538.91" cy="317.6" r="0.68" fill="#553fb8"/>
<circle cx="551.71" cy="317.6" r="0.68" fill="#553fb8"/>
<circle cx="564.5" cy="317.6" r="0.68" fill="#553fb8"/>
<circle cx="577.3" cy="317.6" r="2.1" fill="#e03020"/>
<circle cx="590.1" cy="317.6" r="2.5" fill="#e03020"/>
<circle cx="602.89" cy="317.6" r="2.5" fill="#e03020"/>
<circle cx="615.68" cy="317.6" r="2.12" fill="#e03020"/>
<circle cx="628.48" cy="317.6" r="2.8" fill="#e03020"/>
<circle cx="65.5" cy="340.03" r="1.12" fill="#5e36b6"/>
<circle cx="78.3" cy="340.03" r="1.02" fill="#5e36b6"/>
<circle cx="91.09" cy="340.03" r="0.92" fill="#5e36b6"/>
<circle cx="103.88" cy="340.03" r="0.68" fill="#5e36b6"/>
<circle cx="116.68" cy="340.03" r="1.12" fill="#5e36b6"/>
<circle cx="129.47" cy="340.03" r="0.63" fill="#553fb8"/>
<circle cx="142.27" cy="340.03" r="0.63" fill="#553fb8"/>
<circle cx="155.06" cy="340.03" r="0.63" fill="#553fb8"/>
<circle cx="167.86" cy="340.03" r="0.63" fill="#553fb8"/>
<circle cx="180.66" cy="340.03" r="0.63" fill="#553fb8"/>
<circle cx="193.45" cy="340.03" r="0.63" fill="#553fb8"/>
<circle cx="206.25" cy="340.03" r="0.63" fill="#553fb8"/>
<circle cx="219.04" cy="340.03" r="0.63" fill="#553fb8"/>
<circle cx="231.84" cy="340.03" r="1.52" fill="#6734b7"/>
<circle cx="244.63" cy="340.03" r="0.63" fill="#553fb8"/>
<circle cx="257.43" cy="340.03" r="1.52" fill="#553fb8"/>
<circle cx="270.22" cy="340.03" r="1.92" fill="#5a3bb7"/>
<circle cx="283.01" cy="340.03" r="0.63" fill="#553fb8"/>
<circle cx="295.81" cy="340.03" r="1.02" fill="#553fb8"/>
<circle cx="308.61" cy="340.03" r="0.63" fill="#553fb8"/>
<circle cx="321.4" cy="340.03" r="2.3" fill="#6734b7"/>
<circle cx="334.19" cy="340.03" r="1.22" fill="#5e36b6"/>
<circle cx="346.99" cy="340.03" r="1.12" fill="#553fb8"/>
<circle cx="359.79" cy="340.03" r="1.92" fill="#553fb8"/>
<circle cx="372.58" cy="340.03" r="1.62" fill="#553fb8"/>
<circle cx="385.38" cy="340.03" r="0.63" fill="#553fb8"/>
<circle cx="398.17" cy="340.03" r="0.63" fill="#553fb8"/>
<circle cx="410.96" cy="340.03" r="0.63" fill="#553fb8"/>
<circle cx="423.76" cy="340.03" r="0.63" fill="#553fb8"/>
<circle cx="436.56" cy="340.03" r="0.63" fill="#553fb8"/>
<circle cx="449.35" cy="340.03" r="0.63" fill="#553fb8"/>
<circle cx="462.14" cy="340.03" r="0.63" fill="#553fb8"/>
<circle cx="474.94" cy="340.03" r="0.63" fill="#553fb8"/>
<circle cx="487.74" cy="340.03" r="0.63" fill="#553fb8"/>
<circle cx="500.53" cy="340.03" r="0.63" fill="#553fb8"/>
<circle cx="513.33" cy="340.03" r="2.7" fill="#e03020"/>
<circle cx="526.12" cy="340.03" r="2.6" fill="#e03020"/>
<circle cx="538.91" cy="340.03" r="2.9" fill="#e03020"/>
<circle cx="551.71" cy="340.03" r="2.6" fill="#e03020"/>
<circle cx="564.5" cy="340.03" r="2.6" fill="#e03020"/>
<circle cx="577.3" cy="340.03" r="1.02" fill="#5e36b6"/>
<circle cx="590.1" cy="340.03" r="1.12" fill="#5e36b6"/>
<circle cx="602.89" cy="340.03" r="0.63" fill="#553fb8"/>
<circle cx="615.68" cy="340.03" r="0.63" fill="#553fb8"/>
<circle cx="628.48" cy="340.03" r="0.63" fill="#553fb8"/>
<circle cx="65.5" cy="362.46" r="2.5" fill="#5e36b6"/>
<circle cx="78.3" cy="362.46" r="2.02" fill="#5e36b6"/>
<circle cx="91.09" cy="362.46" r="1.82" fill="#5e36b6"/>
<circle cx="103.88" cy="362.46" r="1.22" fill="#5e36b6"/>
<circle cx="116.68" cy="362.46" r="2.3" fill="#5e36b6"/>
<circle cx="129.47" cy="362.46" r="0.68" fill="#553fb8"/>
<circle cx="142.27" cy="362.46" r="0.68" fill="#553fb8"/>
<circle cx="155.06" cy="362.46" r="0.68" fill="#553fb8"/>
<circle cx="167.86" cy="362.46" r="0.68" fill="#553fb8"/>
<circle cx="180.66" cy="362.46" r="0.68" fill="#553fb8"/>
<circle cx="193.45" cy="362.46" r="0.68" fill="#553fb8"/>
<circle cx="206.25" cy="362.46" r="0.68" fill="#553fb8"/>
<circle cx="219.04" cy="362.46" r="0.68" fill="#553fb8"/>
<circle cx="231.84" cy="362.46" r="0.68" fill="#553fb8"/>
<circle cx="244.63" cy="362.46" r="0.68" fill="#553fb8"/>
<circle cx="257.43" cy="362.46" r="1.12" fill="#5144b9"/>
<circle cx="270.22" cy="362.46" r="0.68" fill="#553fb8"/>
<circle cx="283.01" cy="362.46" r="0.68" fill="#553fb8"/>
<circle cx="295.81" cy="362.46" r="0.68" fill="#553fb8"/>
<circle cx="308.61" cy="362.46" r="0.68" fill="#553fb8"/>
<circle cx="321.4" cy="362.46" r="0.68" fill="#553fb8"/>
<circle cx="334.19" cy="362.46" r="0.68" fill="#553fb8"/>
<circle cx="346.99" cy="362.46" r="0.68" fill="#553fb8"/>
<circle cx="359.79" cy="362.46" r="1.02" fill="#5e36b6"/>
<circle cx="372.58" cy="362.46" r="0.92" fill="#5e36b6"/>
<circle cx="385.38" cy="362.46" r="0.68" fill="#553fb8"/>
<circle cx="398.17" cy="362.46" r="0.68" fill="#553fb8"/>
<circle cx="410.96" cy="362.46" r="0.68" fill="#553fb8"/>
<circle cx="423.76" cy="362.46" r="0.68" fill="#553fb8"/>
<circle cx="436.56" cy="362.46" r="1.82" fill="#8130bb"/>
<circle cx="449.35" cy="362.46" r="2.2" fill="#e03020"/>
<circle cx="462.14" cy="362.46" r="3" fill="#e03020"/>
<circle cx="474.94" cy="362.46" r="2.6" fill="#e03020"/>
<circle cx="487.74" cy="362.46" r="2.7" fill="#e03020"/>
<circle cx="500.53" cy="362.46" r="2.5" fill="#e03020"/>
<circle cx="513.33" cy="362.46" r="0.68" fill="#553fb8"/>
<circle cx="526.12" cy="362.46" r="0.68" fill="#553fb8"/>
<circle cx="538.91" cy="362.46" r="0.68" fill="#553fb8"/>
<circle cx="551.71" cy="362.46" r="0.68" fill="#553fb8"/>
<circle cx="564.5" cy="362.46" r="0.68" fill="#553fb8"/>
<circle cx="577.3" cy="362.46" r="3" fill="#c028a0"/>
<circle cx="590.1" cy="362.46" r="3.1" fill="#d62560"/>
<circle cx="602.89" cy="362.46" r="2.1" fill="#b529a6"/>
<circle cx="615.68" cy="362.46" r="1.82" fill="#c42795"/>
<circle cx="628.48" cy="362.46" r="2.3" fill="#c8268a"/>
<circle cx="65.5" cy="384.89" r="2.22" fill="#5e36b6"/>
<circle cx="78.3" cy="384.89" r="1.62" fill="#5e36b6"/>
<circle cx="91.09" cy="384.89" r="1.62" fill="#5e36b6"/>
<circle cx="103.88" cy="384.89" r="1.12" fill="#5e36b6"/>
<circle cx="116.68" cy="384.89" r="2.12" fill="#5e36b6"/>
<circle cx="129.47" cy="384.89" r="0.68" fill="#553fb8"/>
<circle cx="142.27" cy="384.89" r="0.68" fill="#553fb8"/>
<circle cx="155.06" cy="384.89" r="0.68" fill="#553fb8"/>
<circle cx="167.86" cy="384.89" r="0.68" fill="#553fb8"/>
<circle cx="180.66" cy="384.89" r="0.68" fill="#553fb8"/>
<circle cx="193.45" cy="384.89" r="0.68" fill="#553fb8"/>
<circle cx="206.25" cy="384.89" r="0.68" fill="#553fb8"/>
<circle cx="219.04" cy="384.89" r="0.68" fill="#553fb8"/>
<circle cx="231.84" cy="384.89" r="0.68" fill="#553fb8"/>
<circle cx="244.63" cy="384.89" r="0.68" fill="#553fb8"/>
<circle cx="257.43" cy="384.89" r="1.32" fill="#4d49ba"/>
<circle cx="270.22" cy="384.89" r="1.02" fill="#5144b9"/>
<circle cx="283.01" cy="384.89" r="0.68" fill="#553fb8"/>
<circle cx="295.81" cy="384.89" r="0.68" fill="#553fb8"/>
<circle cx="308.61" cy="384.89" r="0.68" fill="#553fb8"/>
<circle cx="321.4" cy="384.89" r="1.02" fill="#553fb8"/>
<circle cx="334.19" cy="384.89" r="0.68" fill="#553fb8"/>
<circle cx="346.99" cy="384.89" r="0.68" fill="#553fb8"/>
<circle cx="359.79" cy="384.89" r="1.12" fill="#553fb8"/>
<circle cx="372.58" cy="384.89" r="1.12" fill="#553fb8"/>
<circle cx="385.38" cy="384.89" r="2.2" fill="#e03020"/>
<circle cx="398.17" cy="384.89" r="2.3" fill="#e03020"/>
<circle cx="410.96" cy="384.89" r="1.82" fill="#e03020"/>
<circle cx="423.76" cy="384.89" r="3" fill="#e03020"/>
<circle cx="436.56" cy="384.89" r="3" fill="#e03020"/>
<circle cx="449.35" cy="384.89" r="0.68" fill="#553fb8"/>
<circle cx="462.14" cy="384.89" r="1.02" fill="#5e36b6"/>
<circle cx="474.94" cy="384.89" r="0.68" fill="#553fb8"/>
<circle cx="487.74" cy="384.89" r="1.12" fill="#5e36b6"/>
<circle cx="500.53" cy="384.89" r="0.68" fill="#553fb8"/>
<circle cx="513.33" cy="384.89" r="0.68" fill="#553fb8"/>
<circle cx="526.12" cy="384.89" r="2.1" fill="#5e36b6"/>
<circle cx="538.91" cy="384.89" r="0.68" fill="#553fb8"/>
<circle cx="551.71" cy="384.89" r="0.68" fill="#553fb8"/>
<circle cx="564.5" cy="384.89" r="0.68" fill="#553fb8"/>
<circle cx="577.3" cy="384.89" r="0.68" fill="#553fb8"/>
<circle cx="590.1" cy="384.89" r="0.68" fill="#553fb8"/>
<circle cx="602.89" cy="384.89" r="0.68" fill="#553fb8"/>
<circle cx="615.68" cy="384.89" r="0.68" fill="#553fb8"/>
<circle cx="628.48" cy="384.89" r="0.68" fill="#553fb8"/>
<circle cx="65.5" cy="407.32" r="1.32" fill="#5e36b6"/>
<circle cx="78.3" cy="407.32" r="0.92" fill="#5e36b6"/>
<circle cx="91.09" cy="407.32" r="0.92" fill="#5e36b6"/>
<circle cx="103.88" cy="407.32" r="0.58" fill="#5e36b6"/>
<circle cx="116.68" cy="407.32" r="1.22" fill="#5e36b6"/>
<circle cx="129.47" cy="407.32" r="0.68" fill="#553fb8"/>
<circle cx="142.27" cy="407.32" r="0.68" fill="#553fb8"/>
<circle cx="155.06" cy="407.32" r="0.68" fill="#553fb8"/>
<circle cx="167.86" cy="407.32" r="0.68" fill="#553fb8"/>
<circle cx="180.66" cy="407.32" r="0.68" fill="#553fb8"/>
<circle cx="193.45" cy="407.32" r="0.68" fill="#553fb8"/>
<circle cx="206.25" cy="407.32" r="0.68" fill="#553fb8"/>
<circle cx="219.04" cy="407.32" r="1.62" fill="#5e36b6"/>
<circle cx="231.84" cy="407.32" r="2.02" fill="#8a2ebc"/>
<circle cx="244.63" cy="407.32" r="0.92" fill="#7831ba"/>
<circle cx="257.43" cy="407.32" r="2.4" fill="#d62560"/>
<circle cx="270.22" cy="407.32" r="2.4" fill="#d62560"/>
<circle cx="283.01" cy="407.32" r="2.22" fill="#8a2ebc"/>
<circle cx="295.81" cy="407.32" r="3" fill="#d42468"/>
<circle cx="308.61" cy="407.32" r="1.42" fill="#5e36b6"/>
<circle cx="321.4" cy="407.32" r="2.7" fill="#e03020"/>
<circle cx="334.19" cy="407.32" r="2.1" fill="#e03020"/>
<circle cx="346.99" cy="407.32" r="2.12" fill="#e03020"/>
<circle cx="359.79" cy="407.32" r="3" fill="#e03020"/>
<circle cx="372.58" cy="407.32" r="2.7" fill="#e03020"/>
<circle cx="385.38" cy="407.32" r="0.68" fill="#553fb8"/>
<circle cx="398.17" cy="407.32" r="0.68" fill="#553fb8"/>
<circle cx="410.96" cy="407.32" r="0.68" fill="#553fb8"/>
<circle cx="423.76" cy="407.32" r="1.52" fill="#5e36b6"/>
<circle cx="436.56" cy="407.32" r="0.68" fill="#553fb8"/>
<circle cx="449.35" cy="407.32" r="0.68" fill="#553fb8"/>
<circle cx="462.14" cy="407.32" r="0.68" fill="#553fb8"/>
<circle cx="474.94" cy="407.32" r="0.68" fill="#553fb8"/>
<circle cx="487.74" cy="407.32" r="0.68" fill="#553fb8"/>
<circle cx="500.53" cy="407.32" r="0.68" fill="#553fb8"/>
<circle cx="513.33" cy="407.32" r="1.02" fill="#5e36b6"/>
<circle cx="526.12" cy="407.32" r="1.42" fill="#5e36b6"/>
<circle cx="538.91" cy="407.32" r="0.68" fill="#553fb8"/>
<circle cx="551.71" cy="407.32" r="0.68" fill="#553fb8"/>
<circle cx="564.5" cy="407.32" r="0.68" fill="#553fb8"/>
<circle cx="577.3" cy="407.32" r="1.22" fill="#5e36b6"/>
<circle cx="590.1" cy="407.32" r="1.22" fill="#5e36b6"/>
<circle cx="602.89" cy="407.32" r="1.22" fill="#5e36b6"/>
<circle cx="615.68" cy="407.32" r="0.68" fill="#553fb8"/>
<circle cx="628.48" cy="407.32" r="1.02" fill="#5e36b6"/>
<circle cx="65.5" cy="429.75" r="2.3" fill="#5e36b6"/>
<circle cx="78.3" cy="429.75" r="1.82" fill="#5e36b6"/>
<circle cx="91.09" cy="429.75" r="1.52" fill="#5e36b6"/>
<circle cx="103.88" cy="429.75" r="1.12" fill="#5e36b6"/>
<circle cx="116.68" cy="429.75" r="2.1" fill="#5e36b6"/>
<circle cx="129.47" cy="429.75" r="0.7" fill="#553fb8"/>
<circle cx="142.27" cy="429.75" r="0.7" fill="#553fb8"/>
<circle cx="155.06" cy="429.75" r="0.7" fill="#553fb8"/>
<circle cx="167.86" cy="429.75" r="0.7" fill="#553fb8"/>
<circle cx="180.66" cy="429.75" r="0.7" fill="#553fb8"/>
<circle cx="193.45" cy="429.75" r="0.92" fill="#8130bb"/>
<circle cx="206.25" cy="429.75" r="0.7" fill="#553fb8"/>
<circle cx="219.04" cy="429.75" r="2.22" fill="#aa2aab"/>
<circle cx="231.84" cy="429.75" r="2.22" fill="#6734b7"/>
<circle cx="244.63" cy="429.75" r="1.22" fill="#c028a0"/>
<circle cx="257.43" cy="429.75" r="3" fill="#da2650"/>
<circle cx="270.22" cy="429.75" r="2.6" fill="#da2650"/>
<circle cx="283.01" cy="429.75" r="2.6" fill="#da2650"/>
<circle cx="295.81" cy="429.75" r="3" fill="#da2650"/>
<circle cx="308.61" cy="429.75" r="2.5" fill="#da2650"/>
<circle cx="321.4" cy="429.75" r="1.02" fill="#5e36b6"/>
<circle cx="334.19" cy="429.75" r="1.02" fill="#5e36b6"/>
<circle cx="346.99" cy="429.75" r="0.92" fill="#5e36b6"/>
<circle cx="359.79" cy="429.75" r="2.8" fill="#7033b8"/>
<circle cx="372.58" cy="429.75" r="2.22" fill="#952db6"/>
<circle cx="385.38" cy="429.75" r="0.7" fill="#553fb8"/>
<circle cx="398.17" cy="429.75" r="1.02" fill="#5e36b6"/>
<circle cx="410.96" cy="429.75" r="1.02" fill="#5e36b6"/>
<circle cx="423.76" cy="429.75" r="2.5" fill="#7033b8"/>
<circle cx="436.56" cy="429.75" r="0.7" fill="#553fb8"/>
<circle cx="449.35" cy="429.75" r="0.7" fill="#553fb8"/>
<circle cx="462.14" cy="429.75" r="0.7" fill="#553fb8"/>
<circle cx="474.94" cy="429.75" r="0.7" fill="#553fb8"/>
<circle cx="487.74" cy="429.75" r="0.7" fill="#553fb8"/>
<circle cx="500.53" cy="429.75" r="0.7" fill="#553fb8"/>
<circle cx="513.33" cy="429.75" r="0.7" fill="#553fb8"/>
<circle cx="526.12" cy="429.75" r="1.62" fill="#5e36b6"/>
<circle cx="538.91" cy="429.75" r="0.7" fill="#553fb8"/>
<circle cx="551.71" cy="429.75" r="0.7" fill="#553fb8"/>
<circle cx="564.5" cy="429.75" r="0.7" fill="#553fb8"/>
<circle cx="577.3" cy="429.75" r="0.7" fill="#553fb8"/>
<circle cx="590.1" cy="429.75" r="0.7" fill="#553fb8"/>
<circle cx="602.89" cy="429.75" r="0.7" fill="#553fb8"/>
<circle cx="615.68" cy="429.75" r="0.7" fill="#553fb8"/>
<circle cx="628.48" cy="429.75" r="0.7" fill="#553fb8"/>
<circle cx="65.5" cy="452.18" r="2.2" fill="#5e36b6"/>
<circle cx="78.3" cy="452.18" r="1.32" fill="#5e36b6"/>
<circle cx="91.09" cy="452.18" r="1.42" fill="#5e36b6"/>
<circle cx="103.88" cy="452.18" r="1.02" fill="#5e36b6"/>
<circle cx="116.68" cy="452.18" r="2.22" fill="#5e36b6"/>
<circle cx="129.47" cy="452.18" r="0.7" fill="#553fb8"/>
<circle cx="142.27" cy="452.18" r="0.7" fill="#553fb8"/>
<circle cx="155.06" cy="452.18" r="0.7" fill="#553fb8"/>
<circle cx="167.86" cy="452.18" r="0.7" fill="#553fb8"/>
<circle cx="180.66" cy="452.18" r="0.7" fill="#553fb8"/>
<circle cx="193.45" cy="452.18" r="1.32" fill="#e03020"/>
<circle cx="206.25" cy="452.18" r="1.82" fill="#e03020"/>
<circle cx="219.04" cy="452.18" r="2.9" fill="#e03020"/>
<circle cx="231.84" cy="452.18" r="2.8" fill="#e03020"/>
<circle cx="244.63" cy="452.18" r="1.62" fill="#e03020"/>
<circle cx="257.43" cy="452.18" r="3.2" fill="#aa2aab"/>
<circle cx="270.22" cy="452.18" r="2.6" fill="#8a2ebc"/>
<circle cx="283.01" cy="452.18" r="3" fill="#d42468"/>
<circle cx="295.81" cy="452.18" r="3.1" fill="#c8268a"/>
<circle cx="308.61" cy="452.18" r="2.7" fill="#da2650"/>
<circle cx="321.4" cy="452.18" r="0.92" fill="#5e36b6"/>
<circle cx="334.19" cy="452.18" r="0.7" fill="#553fb8"/>
<circle cx="346.99" cy="452.18" r="0.7" fill="#553fb8"/>
<circle cx="359.79" cy="452.18" r="3" fill="#952db6"/>
<circle cx="372.58" cy="452.18" r="1.42" fill="#7033b8"/>
<circle cx="385.38" cy="452.18" r="0.7" fill="#553fb8"/>
<circle cx="398.17" cy="452.18" r="1.02" fill="#5e36b6"/>
<circle cx="410.96" cy="452.18" r="1.02" fill="#5e36b6"/>
<circle cx="423.76" cy="452.18" r="2.4" fill="#5e36b6"/>
<circle cx="436.56" cy="452.18" r="0.7" fill="#553fb8"/>
<circle cx="449.35" cy="452.18" r="0.7" fill="#553fb8"/>
<circle cx="462.14" cy="452.18" r="0.7" fill="#553fb8"/>
<circle cx="474.94" cy="452.18" r="0.7" fill="#553fb8"/>
<circle cx="487.74" cy="452.18" r="0.7" fill="#553fb8"/>
<circle cx="500.53" cy="452.18" r="0.7" fill="#553fb8"/>
<circle cx="513.33" cy="452.18" r="0.7" fill="#553fb8"/>
<circle cx="526.12" cy="452.18" r="1.32" fill="#5e36b6"/>
<circle cx="538.91" cy="452.18" r="0.7" fill="#553fb8"/>
<circle cx="551.71" cy="452.18" r="0.7" fill="#553fb8"/>
<circle cx="564.5" cy="452.18" r="0.7" fill="#553fb8"/>
<circle cx="577.3" cy="452.18" r="0.7" fill="#553fb8"/>
<circle cx="590.1" cy="452.18" r="0.7" fill="#553fb8"/>
<circle cx="602.89" cy="452.18" r="0.7" fill="#553fb8"/>
<circle cx="615.68" cy="452.18" r="0.7" fill="#553fb8"/>
<circle cx="628.48" cy="452.18" r="0.7" fill="#553fb8"/>
<circle cx="65.5" cy="474.61" r="2.5" fill="#7033b8"/>
<circle cx="78.3" cy="474.61" r="1.82" fill="#6734b7"/>
<circle cx="91.09" cy="474.61" r="1.92" fill="#6734b7"/>
<circle cx="103.88" cy="474.61" r="1.12" fill="#5e36b6"/>
<circle cx="116.68" cy="474.61" r="2.3" fill="#7033b8"/>
<circle cx="129.47" cy="474.61" r="3" fill="#e03020"/>
<circle cx="142.27" cy="474.61" r="3" fill="#e03020"/>
<circle cx="155.06" cy="474.61" r="2.6" fill="#e03020"/>
<circle cx="167.86" cy="474.61" r="2.22" fill="#e03020"/>
<circle cx="180.66" cy="474.61" r="2.5" fill="#e03020"/>
<circle cx="193.45" cy="474.61" r="0.92" fill="#553fb8"/>
<circle cx="206.25" cy="474.61" r="0.92" fill="#553fb8"/>
<circle cx="219.04" cy="474.61" r="0.92" fill="#553fb8"/>
<circle cx="231.84" cy="474.61" r="0.92" fill="#553fb8"/>
<circle cx="244.63" cy="474.61" r="0.92" fill="#553fb8"/>
<circle cx="257.43" cy="474.61" r="1.22" fill="#4d49ba"/>
<circle cx="270.22" cy="474.61" r="0.92" fill="#553fb8"/>
<circle cx="283.01" cy="474.61" r="0.92" fill="#553fb8"/>
<circle cx="295.81" cy="474.61" r="0.92" fill="#553fb8"/>
<circle cx="308.61" cy="474.61" r="0.92" fill="#553fb8"/>
<circle cx="321.4" cy="474.61" r="0.92" fill="#553fb8"/>
<circle cx="334.19" cy="474.61" r="0.92" fill="#553fb8"/>
<circle cx="346.99" cy="474.61" r="0.92" fill="#553fb8"/>
<circle cx="359.79" cy="474.61" r="0.92" fill="#553fb8"/>
<circle cx="372.58" cy="474.61" r="0.92" fill="#553fb8"/>
<circle cx="385.38" cy="474.61" r="0.92" fill="#553fb8"/>
<circle cx="398.17" cy="474.61" r="0.92" fill="#553fb8"/>
<circle cx="410.96" cy="474.61" r="0.92" fill="#553fb8"/>
<circle cx="423.76" cy="474.61" r="0.92" fill="#553fb8"/>
<circle cx="436.56" cy="474.61" r="2.1" fill="#a02cb1"/>
<circle cx="449.35" cy="474.61" r="0.92" fill="#553fb8"/>
<circle cx="462.14" cy="474.61" r="0.92" fill="#553fb8"/>
<circle cx="474.94" cy="474.61" r="0.92" fill="#553fb8"/>
<circle cx="487.74" cy="474.61" r="0.92" fill="#553fb8"/>
<circle cx="500.53" cy="474.61" r="0.92" fill="#553fb8"/>
<circle cx="513.33" cy="474.61" r="0.92" fill="#553fb8"/>
<circle cx="526.12" cy="474.61" r="0.92" fill="#553fb8"/>
<circle cx="538.91" cy="474.61" r="0.92" fill="#553fb8"/>
<circle cx="551.71" cy="474.61" r="0.92" fill="#553fb8"/>
<circle cx="564.5" cy="474.61" r="0.92" fill="#553fb8"/>
<circle cx="577.3" cy="474.61" r="0.92" fill="#553fb8"/>
<circle cx="590.1" cy="474.61" r="0.92" fill="#553fb8"/>
<circle cx="602.89" cy="474.61" r="0.92" fill="#553fb8"/>
<circle cx="615.68" cy="474.61" r="0.92" fill="#553fb8"/>
<circle cx="628.48" cy="474.61" r="0.92" fill="#553fb8"/>
<circle cx="65.5" cy="497.04" r="3" fill="#e03020"/>
<circle cx="78.3" cy="497.04" r="2.4" fill="#e03020"/>
<circle cx="91.09" cy="497.04" r="2.4" fill="#e03020"/>
<circle cx="103.88" cy="497.04" r="1.72" fill="#e03020"/>
<circle cx="116.68" cy="497.04" r="2.8" fill="#e03020"/>
<circle cx="129.47" cy="497.04" r="0.92" fill="#553fb8"/>
<circle cx="142.27" cy="497.04" r="0.92" fill="#553fb8"/>
<circle cx="155.06" cy="497.04" r="0.92" fill="#553fb8"/>
<circle cx="167.86" cy="497.04" r="0.92" fill="#553fb8"/>
<circle cx="180.66" cy="497.04" r="0.92" fill="#553fb8"/>
<circle cx="193.45" cy="497.04" r="0.92" fill="#553fb8"/>
<circle cx="206.25" cy="497.04" r="0.92" fill="#553fb8"/>
<circle cx="219.04" cy="497.04" r="0.92" fill="#553fb8"/>
<circle cx="231.84" cy="497.04" r="0.92" fill="#553fb8"/>
<circle cx="244.63" cy="497.04" r="0.92" fill="#553fb8"/>
<circle cx="257.43" cy="497.04" r="1.32" fill="#4d49ba"/>
<circle cx="270.22" cy="497.04" r="0.92" fill="#553fb8"/>
<circle cx="283.01" cy="497.04" r="0.92" fill="#553fb8"/>
<circle cx="295.81" cy="497.04" r="0.92" fill="#553fb8"/>
<circle cx="308.61" cy="497.04" r="0.92" fill="#553fb8"/>
<circle cx="321.4" cy="497.04" r="0.92" fill="#553fb8"/>
<circle cx="334.19" cy="497.04" r="0.92" fill="#553fb8"/>
<circle cx="346.99" cy="497.04" r="0.92" fill="#553fb8"/>
<circle cx="359.79" cy="497.04" r="1.12" fill="#553fb8"/>
<circle cx="372.58" cy="497.04" r="1.02" fill="#553fb8"/>
<circle cx="385.38" cy="497.04" r="0.92" fill="#553fb8"/>
<circle cx="398.17" cy="497.04" r="0.92" fill="#553fb8"/>
<circle cx="410.96" cy="497.04" r="0.92" fill="#553fb8"/>
<circle cx="423.76" cy="497.04" r="0.92" fill="#553fb8"/>
<circle cx="436.56" cy="497.04" r="0.92" fill="#553fb8"/>
<circle cx="449.35" cy="497.04" r="0.92" fill="#553fb8"/>
<circle cx="462.14" cy="497.04" r="0.92" fill="#553fb8"/>
<circle cx="474.94" cy="497.04" r="0.92" fill="#553fb8"/>
<circle cx="487.74" cy="497.04" r="0.92" fill="#553fb8"/>
<circle cx="500.53" cy="497.04" r="0.92" fill="#553fb8"/>
<circle cx="513.33" cy="497.04" r="0.92" fill="#553fb8"/>
<circle cx="526.12" cy="497.04" r="0.92" fill="#553fb8"/>
<circle cx="538.91" cy="497.04" r="0.92" fill="#553fb8"/>
<circle cx="551.71" cy="497.04" r="0.92" fill="#553fb8"/>
<circle cx="564.5" cy="497.04" r="0.92" fill="#553fb8"/>
<circle cx="577.3" cy="497.04" r="1.02" fill="#5e36b6"/>
<circle cx="590.1" cy="497.04" r="1.22" fill="#5e36b6"/>
<circle cx="602.89" cy="497.04" r="1.02" fill="#5e36b6"/>
<circle cx="615.68" cy="497.04" r="0.92" fill="#553fb8"/>
<circle cx="628.48" cy="497.04" r="1.02" fill="#5e36b6"/>
</g>
<rect x="57.4" y="304" width="1.5" height="207" fill="#000"/>
<rect x="57.4" y="509.6" width="580.2" height="1.4" fill="#000"/>
<g font-size="4.5" text-anchor="end">
<text x="55" y="319.2">T_cells</text>
<line x1="55.6" y1="317.6" x2="58" y2="317.6" stroke="#000" stroke-width="0.8"/>
<text x="55" y="341.63">Smooth_muscle_cells</text>
<line x1="55.6" y1="340.03" x2="58" y2="340.03" stroke="#000" stroke-width="0.8"/>
<text x="55" y="364.06">NK_cell</text>
<line x1="55.6" y1="362.46" x2="58" y2="362.46" stroke="#000" stroke-width="0.8"/>
<text x="55" y="386.49">Monocyte</text>
<line x1="55.6" y1="384.89" x2="58" y2="384.89" stroke="#000" stroke-width="0.8"/>
<text x="55" y="408.92">Normal_epithelium</text>
<line x1="55.6" y1="407.32" x2="58" y2="407.32" stroke="#000" stroke-width="0.8"/>
<text x="55" y="431.35">CRC_epithelium</text>
<line x1="55.6" y1="429.75" x2="58" y2="429.75" stroke="#000" stroke-width="0.8"/>
<text x="55" y="453.78">Adenoma_epithelium</text>
<line x1="55.6" y1="452.18" x2="58" y2="452.18" stroke="#000" stroke-width="0.8"/>
<text x="55" y="476.21">CMP</text>
<line x1="55.6" y1="474.61" x2="58" y2="474.61" stroke="#000" stroke-width="0.8"/>
<text x="55" y="498.64">B_cell</text>
<line x1="55.6" y1="497.04" x2="58" y2="497.04" stroke="#000" stroke-width="0.8"/>
</g>
<g font-size="4.75" text-anchor="end">
<line x1="65.5" y1="510.5" x2="65.5" y2="512.6" stroke="#000" stroke-width="0.6"/>
<text x="66.7" y="515" transform="rotate(-45 66.7 515)">IGKC</text>
<line x1="78.3" y1="510.5" x2="78.3" y2="512.6" stroke="#000" stroke-width="0.6"/>
<text x="79.5" y="515" transform="rotate(-45 79.5 515)">IGLC2</text>
<line x1="91.09" y1="510.5" x2="91.09" y2="512.6" stroke="#000" stroke-width="0.6"/>
<text x="92.29" y="515" transform="rotate(-45 92.29 515)">JCHAIN</text>
<line x1="103.88" y1="510.5" x2="103.88" y2="512.6" stroke="#000" stroke-width="0.6"/>
<text x="105.08" y="515" transform="rotate(-45 105.08 515)">IGLC3</text>
<line x1="116.68" y1="510.5" x2="116.68" y2="512.6" stroke="#000" stroke-width="0.6"/>
<text x="117.88" y="515" transform="rotate(-45 117.88 515)">IGHA1</text>
<line x1="129.47" y1="510.5" x2="129.47" y2="512.6" stroke="#000" stroke-width="0.6"/>
<text x="130.67" y="515" transform="rotate(-45 130.67 515)">TPSB2</text>
<line x1="142.27" y1="510.5" x2="142.27" y2="512.6" stroke="#000" stroke-width="0.6"/>
<text x="143.47" y="515" transform="rotate(-45 143.47 515)">TPSAB1</text>
<line x1="155.06" y1="510.5" x2="155.06" y2="512.6" stroke="#000" stroke-width="0.6"/>
<text x="156.26" y="515" transform="rotate(-45 156.26 515)">CPA3</text>
<line x1="167.86" y1="510.5" x2="167.86" y2="512.6" stroke="#000" stroke-width="0.6"/>
<text x="169.06" y="515" transform="rotate(-45 169.06 515)">CTSG</text>
<line x1="180.66" y1="510.5" x2="180.66" y2="512.6" stroke="#000" stroke-width="0.6"/>
<text x="181.85" y="515" transform="rotate(-45 181.85 515)">HPGDS</text>
<line x1="193.45" y1="510.5" x2="193.45" y2="512.6" stroke="#000" stroke-width="0.6"/>
<text x="194.65" y="515" transform="rotate(-45 194.65 515)">DEFA6</text>
<line x1="206.25" y1="510.5" x2="206.25" y2="512.6" stroke="#000" stroke-width="0.6"/>
<text x="207.44" y="515" transform="rotate(-45 207.44 515)">REG1A</text>
<line x1="219.04" y1="510.5" x2="219.04" y2="512.6" stroke="#000" stroke-width="0.6"/>
<text x="220.24" y="515" transform="rotate(-45 220.24 515)">LCN2</text>
<line x1="231.84" y1="510.5" x2="231.84" y2="512.6" stroke="#000" stroke-width="0.6"/>
<text x="233.03" y="515" transform="rotate(-45 233.03 515)">SELENBP1</text>
<line x1="244.63" y1="510.5" x2="244.63" y2="512.6" stroke="#000" stroke-width="0.6"/>
<text x="245.83" y="515" transform="rotate(-45 245.83 515)">SPINK4</text>
<line x1="257.43" y1="510.5" x2="257.43" y2="512.6" stroke="#000" stroke-width="0.6"/>
<text x="258.62" y="515" transform="rotate(-45 258.62 515)">TFF3</text>
<line x1="270.22" y1="510.5" x2="270.22" y2="512.6" stroke="#000" stroke-width="0.6"/>
<text x="271.42" y="515" transform="rotate(-45 271.42 515)">CKB</text>
<line x1="283.01" y1="510.5" x2="283.01" y2="512.6" stroke="#000" stroke-width="0.6"/>
<text x="284.21" y="515" transform="rotate(-45 284.21 515)">EPCAM</text>
<line x1="295.81" y1="510.5" x2="295.81" y2="512.6" stroke="#000" stroke-width="0.6"/>
<text x="297.01" y="515" transform="rotate(-45 297.01 515)">KRT18</text>
<line x1="308.61" y1="510.5" x2="308.61" y2="512.6" stroke="#000" stroke-width="0.6"/>
<text x="309.81" y="515" transform="rotate(-45 309.81 515)">DUSP4</text>
<line x1="321.4" y1="510.5" x2="321.4" y2="512.6" stroke="#000" stroke-width="0.6"/>
<text x="322.6" y="515" transform="rotate(-45 322.6 515)">ZG16</text>
<line x1="334.19" y1="510.5" x2="334.19" y2="512.6" stroke="#000" stroke-width="0.6"/>
<text x="335.39" y="515" transform="rotate(-45 335.39 515)">GUCA2B</text>
<line x1="346.99" y1="510.5" x2="346.99" y2="512.6" stroke="#000" stroke-width="0.6"/>
<text x="348.19" y="515" transform="rotate(-45 348.19 515)">GUCA2A</text>
<line x1="359.79" y1="510.5" x2="359.79" y2="512.6" stroke="#000" stroke-width="0.6"/>
<text x="360.99" y="515" transform="rotate(-45 360.99 515)">PHGR1</text>
<line x1="372.58" y1="510.5" x2="372.58" y2="512.6" stroke="#000" stroke-width="0.6"/>
<text x="373.78" y="515" transform="rotate(-45 373.78 515)">FABP1</text>
<line x1="385.38" y1="510.5" x2="385.38" y2="512.6" stroke="#000" stroke-width="0.6"/>
<text x="386.57" y="515" transform="rotate(-45 386.57 515)">S100A8</text>
<line x1="398.17" y1="510.5" x2="398.17" y2="512.6" stroke="#000" stroke-width="0.6"/>
<text x="399.37" y="515" transform="rotate(-45 399.37 515)">S100A9</text>
<line x1="410.96" y1="510.5" x2="410.96" y2="512.6" stroke="#000" stroke-width="0.6"/>
<text x="412.16" y="515" transform="rotate(-45 412.16 515)">CXCL8</text>
<line x1="423.76" y1="510.5" x2="423.76" y2="512.6" stroke="#000" stroke-width="0.6"/>
<text x="424.96" y="515" transform="rotate(-45 424.96 515)">LYZ</text>
<line x1="436.56" y1="510.5" x2="436.56" y2="512.6" stroke="#000" stroke-width="0.6"/>
<text x="437.75" y="515" transform="rotate(-45 437.75 515)">TYROBP</text>
<line x1="449.35" y1="510.5" x2="449.35" y2="512.6" stroke="#000" stroke-width="0.6"/>
<text x="450.55" y="515" transform="rotate(-45 450.55 515)">GNLY</text>
<line x1="462.14" y1="510.5" x2="462.14" y2="512.6" stroke="#000" stroke-width="0.6"/>
<text x="463.34" y="515" transform="rotate(-45 463.34 515)">NKG7</text>
<line x1="474.94" y1="510.5" x2="474.94" y2="512.6" stroke="#000" stroke-width="0.6"/>
<text x="476.14" y="515" transform="rotate(-45 476.14 515)">GZMH</text>
<line x1="487.74" y1="510.5" x2="487.74" y2="512.6" stroke="#000" stroke-width="0.6"/>
<text x="488.94" y="515" transform="rotate(-45 488.94 515)">CCL4</text>
<line x1="500.53" y1="510.5" x2="500.53" y2="512.6" stroke="#000" stroke-width="0.6"/>
<text x="501.73" y="515" transform="rotate(-45 501.73 515)">GZMB</text>
<line x1="513.33" y1="510.5" x2="513.33" y2="512.6" stroke="#000" stroke-width="0.6"/>
<text x="514.53" y="515" transform="rotate(-45 514.53 515)">DCN</text>
<line x1="526.12" y1="510.5" x2="526.12" y2="512.6" stroke="#000" stroke-width="0.6"/>
<text x="527.32" y="515" transform="rotate(-45 527.32 515)">CFD</text>
<line x1="538.91" y1="510.5" x2="538.91" y2="512.6" stroke="#000" stroke-width="0.6"/>
<text x="540.12" y="515" transform="rotate(-45 540.12 515)">MGP</text>
<line x1="551.71" y1="510.5" x2="551.71" y2="512.6" stroke="#000" stroke-width="0.6"/>
<text x="552.91" y="515" transform="rotate(-45 552.91 515)">IGFBP6</text>
<line x1="564.5" y1="510.5" x2="564.5" y2="512.6" stroke="#000" stroke-width="0.6"/>
<text x="565.71" y="515" transform="rotate(-45 565.71 515)">COL1A2</text>
<line x1="577.3" y1="510.5" x2="577.3" y2="512.6" stroke="#000" stroke-width="0.6"/>
<text x="578.5" y="515" transform="rotate(-45 578.5 515)">GZMK</text>
<line x1="590.1" y1="510.5" x2="590.1" y2="512.6" stroke="#000" stroke-width="0.6"/>
<text x="591.3" y="515" transform="rotate(-45 591.3 515)">CCL5</text>
<line x1="602.89" y1="510.5" x2="602.89" y2="512.6" stroke="#000" stroke-width="0.6"/>
<text x="604.09" y="515" transform="rotate(-45 604.09 515)">CD7</text>
<line x1="615.68" y1="510.5" x2="615.68" y2="512.6" stroke="#000" stroke-width="0.6"/>
<text x="616.88" y="515" transform="rotate(-45 616.88 515)">KLRB1</text>
<line x1="628.48" y1="510.5" x2="628.48" y2="512.6" stroke="#000" stroke-width="0.6"/>
<text x="629.68" y="515" transform="rotate(-45 629.68 515)">CD3D</text>
</g>
<text x="6.5" y="407.5" font-size="5" text-anchor="middle" transform="rotate(-90 6.5 407.5)">Identity</text>
<text x="347.5" y="538" font-size="5" text-anchor="middle">Features</text>
<text x="347" y="299.8" font-size="5.6" text-anchor="middle" font-weight="bold">Top 5 Marker Genes</text>
<text x="641.3" y="372" font-size="5.3">Average Expression</text>
<defs><linearGradient id="gc" x1="0" y1="1" x2="0" y2="0"><stop offset="0" stop-color="#4452bc"/><stop offset="0.19" stop-color="#5e36b6"/><stop offset="0.35" stop-color="#8a2ebc"/><stop offset="0.52" stop-color="#c028a0"/><stop offset="0.68" stop-color="#d42468"/><stop offset="0.84" stop-color="#de2840"/><stop offset="1" stop-color="#e03020"/></linearGradient></defs>
<rect x="641.3" y="375" width="6.7" height="29.3" fill="url(#gc)"/>
<line x1="641.3" y1="379.7" x2="642.6" y2="379.7" stroke="#fff" stroke-width="0.4"/>
<line x1="646.7" y1="379.7" x2="648" y2="379.7" stroke="#fff" stroke-width="0.4"/>
<text x="650.5" y="381.2" font-size="4.2">2</text>
<line x1="641.3" y1="388.7" x2="642.6" y2="388.7" stroke="#fff" stroke-width="0.4"/>
<line x1="646.7" y1="388.7" x2="648" y2="388.7" stroke="#fff" stroke-width="0.4"/>
<text x="650.5" y="390.2" font-size="4.2">1</text>
<line x1="641.3" y1="398" x2="642.6" y2="398" stroke="#fff" stroke-width="0.4"/>
<line x1="646.7" y1="398" x2="648" y2="398" stroke="#fff" stroke-width="0.4"/>
<text x="650.5" y="399.5" font-size="4.2">0</text>
<text x="641.3" y="414.3" font-size="5.3">Percent Expressed</text>
<circle cx="644.7" cy="420.4" r="0.4" fill="#000"/>
<text x="650.5" y="421.9" font-size="4.2">0</text>
<circle cx="644.7" cy="426.3" r="0.95" fill="#000"/>
<text x="650.5" y="427.8" font-size="4.2">25</text>
<circle cx="644.7" cy="432.3" r="1.7" fill="#000"/>
<text x="650.5" y="433.8" font-size="4.2">50</text>
<circle cx="644.7" cy="438.2" r="2.3" fill="#000"/>
<text x="650.5" y="439.7" font-size="4.2">75</text>
<circle cx="644.7" cy="444.3" r="3" fill="#000"/>
<text x="650.5" y="445.8" font-size="4.2">100</text>
</g>
<g id="panelD">
<rect x="97.8" y="563.3" width="187.4" height="209.7" fill="#fff"/>
<line x1="106" y1="563.3" x2="106" y2="773" stroke="#dedede" stroke-width="0.6"/>
<line x1="143.2" y1="563.3" x2="143.2" y2="773" stroke="#dedede" stroke-width="0.6"/>
<line x1="180.4" y1="563.3" x2="180.4" y2="773" stroke="#dedede" stroke-width="0.6"/>
<line x1="217.6" y1="563.3" x2="217.6" y2="773" stroke="#dedede" stroke-width="0.6"/>
<line x1="254.8" y1="563.3" x2="254.8" y2="773" stroke="#dedede" stroke-width="0.6"/>
<line x1="124.6" y1="563.3" x2="124.6" y2="773" stroke="#f0f0f0" stroke-width="0.3"/>
<line x1="161.8" y1="563.3" x2="161.8" y2="773" stroke="#f0f0f0" stroke-width="0.3"/>
<line x1="199" y1="563.3" x2="199" y2="773" stroke="#f0f0f0" stroke-width="0.3"/>
<line x1="236.2" y1="563.3" x2="236.2" y2="773" stroke="#f0f0f0" stroke-width="0.3"/>
<line x1="273.4" y1="563.3" x2="273.4" y2="773" stroke="#f0f0f0" stroke-width="0.3"/>
<line x1="97.8" y1="569.2" x2="285.2" y2="569.2" stroke="#dedede" stroke-width="0.6"/>
<line x1="97.8" y1="579.63" x2="285.2" y2="579.63" stroke="#dedede" stroke-width="0.6"/>
<line x1="97.8" y1="590.06" x2="285.2" y2="590.06" stroke="#dedede" stroke-width="0.6"/>
<line x1="97.8" y1="600.49" x2="285.2" y2="600.49" stroke="#dedede" stroke-width="0.6"/>
<line x1="97.8" y1="610.92" x2="285.2" y2="610.92" stroke="#dedede" stroke-width="0.6"/>
<line x1="97.8" y1="621.35" x2="285.2" y2="621.35" stroke="#dedede" stroke-width="0.6"/>
<line x1="97.8" y1="631.78" x2="285.2" y2="631.78" stroke="#dedede" stroke-width="0.6"/>
<line x1="97.8" y1="642.21" x2="285.2" y2="642.21" stroke="#dedede" stroke-width="0.6"/>
<line x1="97.8" y1="652.64" x2="285.2" y2="652.64" stroke="#dedede" stroke-width="0.6"/>
<line x1="97.8" y1="663.07" x2="285.2" y2="663.07" stroke="#dedede" stroke-width="0.6"/>
<line x1="97.8" y1="673.5" x2="285.2" y2="673.5" stroke="#dedede" stroke-width="0.6"/>
<line x1="97.8" y1="683.93" x2="285.2" y2="683.93" stroke="#dedede" stroke-width="0.6"/>
<line x1="97.8" y1="694.36" x2="285.2" y2="694.36" stroke="#dedede" stroke-width="0.6"/>
<line x1="97.8" y1="704.79" x2="285.2" y2="704.79" stroke="#dedede" stroke-width="0.6"/>
<line x1="97.8" y1="715.22" x2="285.2" y2="715.22" stroke="#dedede" stroke-width="0.6"/>
<line x1="97.8" y1="725.65" x2="285.2" y2="725.65" stroke="#dedede" stroke-width="0.6"/>
<line x1="97.8" y1="736.08" x2="285.2" y2="736.08" stroke="#dedede" stroke-width="0.6"/>
<line x1="97.8" y1="746.51" x2="285.2" y2="746.51" stroke="#dedede" stroke-width="0.6"/>
<line x1="97.8" y1="756.94" x2="285.2" y2="756.94" stroke="#dedede" stroke-width="0.6"/>
<line x1="97.8" y1="767.37" x2="285.2" y2="767.37" stroke="#dedede" stroke-width="0.6"/>
<rect x="106" y="564.5" width="148.8" height="9.4" fill="#e03020"/>
<rect x="106" y="574.93" width="163.68" height="9.4" fill="#e03020"/>
<rect x="106" y="585.36" width="156.24" height="9.4" fill="#e03020"/>
<rect x="106" y="595.79" width="159.96" height="9.4" fill="#e03020"/>
<rect x="106" y="606.22" width="163.68" height="9.4" fill="#e03020"/>
<rect x="106" y="616.65" width="159.96" height="9.4" fill="#e03020"/>
<rect x="106" y="627.08" width="163.68" height="9.4" fill="#e03020"/>
<rect x="106" y="637.51" width="163.68" height="9.4" fill="#e03020"/>
<rect x="106" y="647.94" width="115.32" height="9.4" fill="#e03020"/>
<rect x="106" y="658.37" width="159.96" height="9.4" fill="#e03020"/>
<rect x="106" y="668.8" width="171.12" height="9.4" fill="#e03020"/>
<rect x="106" y="679.23" width="66.96" height="9.4" fill="#e03020"/>
<rect x="106" y="689.66" width="52.08" height="9.4" fill="#e03020"/>
<rect x="106" y="700.09" width="33.48" height="9.4" fill="#e03020"/>
<rect x="106" y="710.52" width="48.36" height="9.4" fill="#e03020"/>
<rect x="106" y="720.95" width="29.76" height="9.4" fill="#e03020"/>
<rect x="106" y="731.38" width="44.64" height="9.4" fill="#cf2a78"/>
<rect x="106" y="741.81" width="11.16" height="9.4" fill="#c52c8c"/>
<rect x="106" y="752.24" width="18.6" height="9.4" fill="#7b3cc4"/>
<rect x="106" y="762.67" width="29.76" height="9.4" fill="#3558b4"/>
<rect x="97.8" y="563.3" width="187.4" height="209.7" fill="none" stroke="#222" stroke-width="1"/>
<g font-size="5.5" text-anchor="end" fill="#000">
<line x1="95.9" y1="569.2" x2="97.8" y2="569.2" stroke="#111" stroke-width="1"/>
<text x="95.4" y="571.3">Oxidative phosphorylation</text>
<line x1="95.9" y1="579.63" x2="97.8" y2="579.63" stroke="#111" stroke-width="1"/>
<text x="95.4" y="578.73">Chemical carcinogenesis −</text>
<text x="95.4" y="584.73">reactive oxygen species</text>
<line x1="95.9" y1="590.06" x2="97.8" y2="590.06" stroke="#111" stroke-width="1"/>
<text x="95.4" y="592.16">Diabetic cardiomyopathy</text>
<line x1="95.9" y1="600.49" x2="97.8" y2="600.49" stroke="#111" stroke-width="1"/>
<text x="95.4" y="602.59">Thermogenesis</text>
<line x1="95.9" y1="610.92" x2="97.8" y2="610.92" stroke="#111" stroke-width="1"/>
<text x="95.4" y="613.02">Prion disease</text>
<line x1="95.9" y1="621.35" x2="97.8" y2="621.35" stroke="#111" stroke-width="1"/>
<text x="95.4" y="623.45">Parkinson disease</text>
<line x1="95.9" y1="631.78" x2="97.8" y2="631.78" stroke="#111" stroke-width="1"/>
<text x="95.4" y="633.88">Huntington disease</text>
<line x1="95.9" y1="642.21" x2="97.8" y2="642.21" stroke="#111" stroke-width="1"/>
<text x="95.4" y="644.31">Amyotrophic lateral sclerosis</text>
<line x1="95.9" y1="652.64" x2="97.8" y2="652.64" stroke="#111" stroke-width="1"/>
<text x="95.4" y="651.74">Non−alcoholic fatty liver</text>
<text x="95.4" y="657.74">disease</text>
<line x1="95.9" y1="663.07" x2="97.8" y2="663.07" stroke="#111" stroke-width="1"/>
<text x="95.4" y="665.17">Alzheimer disease</text>
<line x1="95.9" y1="673.5" x2="97.8" y2="673.5" stroke="#111" stroke-width="1"/>
<text x="95.4" y="669.6">Pathways of</text>
<text x="95.4" y="675.6">neurodegeneration − multiple</text>
<text x="95.4" y="681.6">diseases</text>
<line x1="95.9" y1="683.93" x2="97.8" y2="683.93" stroke="#111" stroke-width="1"/>
<text x="95.4" y="686.03">Cardiac muscle contraction</text>
<line x1="95.9" y1="694.36" x2="97.8" y2="694.36" stroke="#111" stroke-width="1"/>
<text x="95.4" y="693.46">Retrograde endocannabinoid</text>
<text x="95.4" y="699.46">signaling</text>
<line x1="95.9" y1="704.79" x2="97.8" y2="704.79" stroke="#111" stroke-width="1"/>
<text x="95.4" y="703.89">Arrhythmogenic right</text>
<text x="95.4" y="709.89">ventricular cardiomyopathy</text>
<line x1="95.9" y1="715.22" x2="97.8" y2="715.22" stroke="#111" stroke-width="1"/>
<text x="95.4" y="717.32">Tight junction</text>
<line x1="95.9" y1="725.65" x2="97.8" y2="725.65" stroke="#111" stroke-width="1"/>
<text x="95.4" y="727.75">Adherens junction</text>
<line x1="95.9" y1="736.08" x2="97.8" y2="736.08" stroke="#111" stroke-width="1"/>
<text x="95.4" y="735.18">Pathogenic Escherichia coli</text>
<text x="95.4" y="741.18">infection</text>
<line x1="95.9" y1="746.51" x2="97.8" y2="746.51" stroke="#111" stroke-width="1"/>
<text x="95.4" y="748.61">Sulfur metabolism</text>
<line x1="95.9" y1="756.94" x2="97.8" y2="756.94" stroke="#111" stroke-width="1"/>
<text x="95.4" y="759.04">Fatty acid degradation</text>
<line x1="95.9" y1="767.37" x2="97.8" y2="767.37" stroke="#111" stroke-width="1"/>
<text x="95.4" y="766.47">Leukocyte transendothelial</text>
<text x="95.4" y="772.47">migration</text>
</g>
<g font-size="5.4" text-anchor="middle" fill="#000">
<line x1="106" y1="773" x2="106" y2="775" stroke="#222" stroke-width="0.8"/>
<text x="106" y="780">0</text>
<line x1="143.2" y1="773" x2="143.2" y2="775" stroke="#222" stroke-width="0.8"/>
<text x="143.2" y="780">10</text>
<line x1="180.4" y1="773" x2="180.4" y2="775" stroke="#222" stroke-width="0.8"/>
<text x="180.4" y="780">20</text>
<line x1="217.6" y1="773" x2="217.6" y2="775" stroke="#222" stroke-width="0.8"/>
<text x="217.6" y="780">30</text>
<line x1="254.8" y1="773" x2="254.8" y2="775" stroke="#222" stroke-width="0.8"/>
<text x="254.8" y="780">40</text>
</g>
<text x="293.3" y="649" font-size="5">qvalue</text>
<defs><linearGradient id="gd" x1="0" y1="0" x2="0" y2="1"><stop offset="0" stop-color="#e03020"/><stop offset=".2" stop-color="#dc2848"/><stop offset=".45" stop-color="#c428a0"/><stop offset=".7" stop-color="#8a34c4"/><stop offset="1" stop-color="#3a56b8"/></linearGradient></defs>
<rect x="293.3" y="652.3" width="8.3" height="40.4" fill="url(#gd)"/>
<line x1="293.3" y1="660.5" x2="295" y2="660.5" stroke="#fff" stroke-width="0.4"/>
<line x1="299.9" y1="660.5" x2="301.6" y2="660.5" stroke="#fff" stroke-width="0.4"/>
<text x="304" y="661.9" font-size="4">0.005</text>
<line x1="293.3" y1="668.3" x2="295" y2="668.3" stroke="#fff" stroke-width="0.4"/>
<line x1="299.9" y1="668.3" x2="301.6" y2="668.3" stroke="#fff" stroke-width="0.4"/>
<text x="304" y="669.7" font-size="4">0.010</text>
<line x1="293.3" y1="676" x2="295" y2="676" stroke="#fff" stroke-width="0.4"/>
<line x1="299.9" y1="676" x2="301.6" y2="676" stroke="#fff" stroke-width="0.4"/>
<text x="304" y="677.4" font-size="4">0.015</text>
<line x1="293.3" y1="683.7" x2="295" y2="683.7" stroke="#fff" stroke-width="0.4"/>
<line x1="299.9" y1="683.7" x2="301.6" y2="683.7" stroke="#fff" stroke-width="0.4"/>
<text x="304" y="685.1" font-size="4">0.020</text>
<line x1="293.3" y1="691.5" x2="295" y2="691.5" stroke="#fff" stroke-width="0.4"/>
<line x1="299.9" y1="691.5" x2="301.6" y2="691.5" stroke="#fff" stroke-width="0.4"/>
<text x="304" y="692.9" font-size="4">0.025</text>
</g>
<g id="panelE">
<rect x="98.4" y="809.4" width="176.1" height="66.9" fill="#fff"/>
<line x1="106" y1="809.4" x2="106" y2="876.3" stroke="#dedede" stroke-width="0.6"/>
<line x1="156.32" y1="809.4" x2="156.32" y2="876.3" stroke="#dedede" stroke-width="0.6"/>
<line x1="206.64" y1="809.4" x2="206.64" y2="876.3" stroke="#dedede" stroke-width="0.6"/>
<line x1="256.96" y1="809.4" x2="256.96" y2="876.3" stroke="#dedede" stroke-width="0.6"/>
<line x1="131.16" y1="809.4" x2="131.16" y2="876.3" stroke="#f0f0f0" stroke-width="0.3"/>
<line x1="181.48" y1="809.4" x2="181.48" y2="876.3" stroke="#f0f0f0" stroke-width="0.3"/>
<line x1="231.8" y1="809.4" x2="231.8" y2="876.3" stroke="#f0f0f0" stroke-width="0.3"/>
<line x1="98.4" y1="817.12" x2="274.5" y2="817.12" stroke="#dedede" stroke-width="0.6"/>
<line x1="98.4" y1="829.98" x2="274.5" y2="829.98" stroke="#dedede" stroke-width="0.6"/>
<line x1="98.4" y1="842.85" x2="274.5" y2="842.85" stroke="#dedede" stroke-width="0.6"/>
<line x1="98.4" y1="855.72" x2="274.5" y2="855.72" stroke="#dedede" stroke-width="0.6"/>
<line x1="98.4" y1="868.58" x2="274.5" y2="868.58" stroke="#dedede" stroke-width="0.6"/>
<circle cx="239" cy="817.12" r="4.2" fill="#e03020"/>
<circle cx="221.5" cy="829.98" r="4" fill="#e03020"/>
<circle cx="209" cy="842.85" r="3.9" fill="#e03020"/>
<circle cx="183" cy="855.72" r="3.7" fill="#e03020"/>
<circle cx="175" cy="868.58" r="3.6" fill="#e03020"/>
<rect x="98.4" y="809.4" width="176.1" height="66.9" fill="none" stroke="#222" stroke-width="1"/>
<rect x="274.5" y="809.4" width="8.2" height="66.9" fill="#d9d9d9" stroke="#222" stroke-width="1"/>
<text x="277.4" y="842.85" font-size="3.6" text-anchor="middle" transform="rotate(90 277.4 842.85)" fill="#1a1a1a">BP</text>
<g font-size="5.5" text-anchor="end" fill="#000">
<line x1="96.4" y1="817.12" x2="98.4" y2="817.12" stroke="#111" stroke-width="1"/>
<text x="95.8" y="819.22">ATP metabolic process</text>
<line x1="96.4" y1="829.98" x2="98.4" y2="829.98" stroke="#111" stroke-width="1"/>
<text x="95.8" y="832.08">oxidative phosphorylation</text>
<line x1="96.4" y1="842.85" x2="98.4" y2="842.85" stroke="#111" stroke-width="1"/>
<text x="95.8" y="844.95">electron transport chain</text>
<line x1="96.4" y1="855.72" x2="98.4" y2="855.72" stroke="#111" stroke-width="1"/>
<text x="95.8" y="854.82">respiratory electron</text>
<text x="95.8" y="860.82">transport chain</text>
<line x1="96.4" y1="868.58" x2="98.4" y2="868.58" stroke="#111" stroke-width="1"/>
<text x="95.8" y="867.68">mitochondrial ATP synthesis</text>
<text x="95.8" y="873.68">coupled electron transport</text>
</g>
<rect x="98.4" y="879.5" width="176.1" height="66.5" fill="#fff"/>
<line x1="106" y1="879.5" x2="106" y2="946" stroke="#dedede" stroke-width="0.6"/>
<line x1="156.32" y1="879.5" x2="156.32" y2="946" stroke="#dedede" stroke-width="0.6"/>
<line x1="206.64" y1="879.5" x2="206.64" y2="946" stroke="#dedede" stroke-width="0.6"/>
<line x1="256.96" y1="879.5" x2="256.96" y2="946" stroke="#dedede" stroke-width="0.6"/>
<line x1="131.16" y1="879.5" x2="131.16" y2="946" stroke="#f0f0f0" stroke-width="0.3"/>
<line x1="181.48" y1="879.5" x2="181.48" y2="946" stroke="#f0f0f0" stroke-width="0.3"/>
<line x1="231.8" y1="879.5" x2="231.8" y2="946" stroke="#f0f0f0" stroke-width="0.3"/>
<line x1="98.4" y1="887.17" x2="274.5" y2="887.17" stroke="#dedede" stroke-width="0.6"/>
<line x1="98.4" y1="899.96" x2="274.5" y2="899.96" stroke="#dedede" stroke-width="0.6"/>
<line x1="98.4" y1="912.75" x2="274.5" y2="912.75" stroke="#dedede" stroke-width="0.6"/>
<line x1="98.4" y1="925.54" x2="274.5" y2="925.54" stroke="#dedede" stroke-width="0.6"/>
<line x1="98.4" y1="938.33" x2="274.5" y2="938.33" stroke="#dedede" stroke-width="0.6"/>
<circle cx="266.5" cy="887.17" r="4.7" fill="#e03020"/>
<circle cx="200.5" cy="899.96" r="3.9" fill="#e03020"/>
<circle cx="175.5" cy="912.75" r="3.6" fill="#e03020"/>
<circle cx="167" cy="925.54" r="3.5" fill="#e03020"/>
<circle cx="163" cy="938.33" r="3.5" fill="#e03020"/>
<rect x="98.4" y="879.5" width="176.1" height="66.5" fill="none" stroke="#222" stroke-width="1"/>
<rect x="274.5" y="879.5" width="8.2" height="66.5" fill="#d9d9d9" stroke="#222" stroke-width="1"/>
<text x="277.4" y="912.75" font-size="3.6" text-anchor="middle" transform="rotate(90 277.4 912.75)" fill="#1a1a1a">CC</text>
<g font-size="5.5" text-anchor="end" fill="#000">
<line x1="96.4" y1="887.17" x2="98.4" y2="887.17" stroke="#111" stroke-width="1"/>
<text x="95.8" y="889.27">mitochondrial inner membrane</text>
<line x1="96.4" y1="899.96" x2="98.4" y2="899.96" stroke="#111" stroke-width="1"/>
<text x="95.8" y="899.06">inner mitochondrial membrane</text>
<text x="95.8" y="905.06">protein complex</text>
<line x1="96.4" y1="912.75" x2="98.4" y2="912.75" stroke="#111" stroke-width="1"/>
<text x="95.8" y="914.85">respirasome</text>
<line x1="96.4" y1="925.54" x2="98.4" y2="925.54" stroke="#111" stroke-width="1"/>
<text x="95.8" y="927.64">respiratory chain complex</text>
<line x1="96.4" y1="938.33" x2="98.4" y2="938.33" stroke="#111" stroke-width="1"/>
<text x="95.8" y="940.43">mitochondrial respirasome</text>
</g>
<rect x="98.4" y="949.1" width="176.1" height="66.4" fill="#fff"/>
<line x1="106" y1="949.1" x2="106" y2="1015.5" stroke="#dedede" stroke-width="0.6"/>
<line x1="156.32" y1="949.1" x2="156.32" y2="1015.5" stroke="#dedede" stroke-width="0.6"/>
<line x1="206.64" y1="949.1" x2="206.64" y2="1015.5" stroke="#dedede" stroke-width="0.6"/>
<line x1="256.96" y1="949.1" x2="256.96" y2="1015.5" stroke="#dedede" stroke-width="0.6"/>
<line x1="131.16" y1="949.1" x2="131.16" y2="1015.5" stroke="#f0f0f0" stroke-width="0.3"/>
<line x1="181.48" y1="949.1" x2="181.48" y2="1015.5" stroke="#f0f0f0" stroke-width="0.3"/>
<line x1="231.8" y1="949.1" x2="231.8" y2="1015.5" stroke="#f0f0f0" stroke-width="0.3"/>
<line x1="98.4" y1="956.76" x2="274.5" y2="956.76" stroke="#dedede" stroke-width="0.6"/>
<line x1="98.4" y1="969.53" x2="274.5" y2="969.53" stroke="#dedede" stroke-width="0.6"/>
<line x1="98.4" y1="982.3" x2="274.5" y2="982.3" stroke="#dedede" stroke-width="0.6"/>
<line x1="98.4" y1="995.07" x2="274.5" y2="995.07" stroke="#dedede" stroke-width="0.6"/>
<line x1="98.4" y1="1007.84" x2="274.5" y2="1007.84" stroke="#dedede" stroke-width="0.6"/>
<circle cx="199" cy="956.76" r="3.9" fill="#e03020"/>
<circle cx="148" cy="969.53" r="3.3" fill="#e03020"/>
<circle cx="105.9" cy="982.3" r="2.1" fill="#3558b4"/>
<circle cx="105.9" cy="995.07" r="2.1" fill="#3558b4"/>
<circle cx="105.9" cy="1007.84" r="2.1" fill="#3558b4"/>
<rect x="98.4" y="949.1" width="176.1" height="66.4" fill="none" stroke="#222" stroke-width="1"/>
<rect x="274.5" y="949.1" width="8.2" height="66.4" fill="#d9d9d9" stroke="#222" stroke-width="1"/>
<text x="277.4" y="982.3" font-size="3.6" text-anchor="middle" transform="rotate(90 277.4 982.3)" fill="#1a1a1a">MF</text>
<g font-size="5.5" text-anchor="end" fill="#000">
<line x1="96.4" y1="956.76" x2="98.4" y2="956.76" stroke="#111" stroke-width="1"/>
<text x="95.8" y="958.86">electron transfer activity</text>
<line x1="96.4" y1="969.53" x2="98.4" y2="969.53" stroke="#111" stroke-width="1"/>
<text x="95.8" y="968.63">proton transmembrane</text>
<text x="95.8" y="974.63">transporter activity</text>
<line x1="96.4" y1="982.3" x2="98.4" y2="982.3" stroke="#111" stroke-width="1"/>
<text x="95.8" y="984.4">cytochrome−c oxidase activity</text>
<line x1="96.4" y1="995.07" x2="98.4" y2="995.07" stroke="#111" stroke-width="1"/>
<text x="95.8" y="994.17">heme−copper terminal oxidase</text>
<text x="95.8" y="1000.17">activity</text>
<line x1="96.4" y1="1007.84" x2="98.4" y2="1007.84" stroke="#111" stroke-width="1"/>
<text x="95.8" y="1003.94">oxidoreductase activity,</text>
<text x="95.8" y="1009.94">acting on a heme group of</text>
<text x="95.8" y="1015.94">donors</text>
</g>
<g font-size="5.5" text-anchor="middle" fill="#000">
<line x1="106" y1="1015.5" x2="106" y2="1017.6" stroke="#222" stroke-width="0.8"/>
<text x="106" y="1022.8">0.04</text>
<line x1="156.32" y1="1015.5" x2="156.32" y2="1017.6" stroke="#222" stroke-width="0.8"/>
<text x="156.32" y="1022.8">0.08</text>
<line x1="206.64" y1="1015.5" x2="206.64" y2="1017.6" stroke="#222" stroke-width="0.8"/>
<text x="206.64" y="1022.8">0.12</text>
<line x1="256.96" y1="1015.5" x2="256.96" y2="1017.6" stroke="#222" stroke-width="0.8"/>
<text x="256.96" y="1022.8">0.16</text>
</g>
<text x="186" y="1029.3" font-size="5.6" text-anchor="middle">GeneRatio</text>
<text x="290.7" y="865.8" font-size="5">Count</text>
<circle cx="295.6" cy="873" r="2.9" fill="#000"/>
<text x="304" y="874.4" font-size="4">20</text>
<circle cx="295.6" cy="881.3" r="3.5" fill="#000"/>
<text x="304" y="882.7" font-size="4">30</text>
<circle cx="295.6" cy="890.5" r="4.1" fill="#000"/>
<text x="304" y="891.9" font-size="4">40</text>
<circle cx="295.6" cy="900.3" r="4.6" fill="#000"/>
<text x="304" y="901.7" font-size="4">50</text>
<text x="290" y="920.5" font-size="5">qvalue</text>
<rect x="290" y="923" width="8.5" height="40" fill="url(#gd)"/>
<line x1="290" y1="932.2" x2="291.7" y2="932.2" stroke="#fff" stroke-width="0.4"/>
<line x1="296.8" y1="932.2" x2="298.5" y2="932.2" stroke="#fff" stroke-width="0.4"/>
<text x="301" y="933.6" font-size="4">1e−13</text>
<line x1="290" y1="941" x2="291.7" y2="941" stroke="#fff" stroke-width="0.4"/>
<line x1="296.8" y1="941" x2="298.5" y2="941" stroke="#fff" stroke-width="0.4"/>
<text x="301" y="942.4" font-size="4">2e−13</text>
<line x1="290" y1="950" x2="291.7" y2="950" stroke="#fff" stroke-width="0.4"/>
<line x1="296.8" y1="950" x2="298.5" y2="950" stroke="#fff" stroke-width="0.4"/>
<text x="301" y="951.4" font-size="4">3e−13</text>
<line x1="290" y1="958.8" x2="291.7" y2="958.8" stroke="#fff" stroke-width="0.4"/>
<line x1="296.8" y1="958.8" x2="298.5" y2="958.8" stroke="#fff" stroke-width="0.4"/>
<text x="301" y="960.2" font-size="4">4e−13</text>
</g>
<g id="panelF">
<g shape-rendering="crispEdges">
<rect x="423" y="621.4" width="27.94" height="31.4" fill="#fee4de"/>
<rect x="450.64" y="621.4" width="27.94" height="31.4" fill="#fee7e3"/>
<rect x="478.29" y="621.4" width="27.94" height="31.4" fill="#fc9177"/>
<rect x="505.93" y="621.4" width="27.94" height="31.4" fill="#fee4de"/>
<rect x="533.58" y="621.4" width="27.94" height="31.4" fill="#fee9e5"/>
<rect x="561.22" y="621.4" width="27.94" height="31.4" fill="#e8503c"/>
<rect x="588.87" y="621.4" width="27.94" height="31.4" fill="#fee4de"/>
<rect x="616.51" y="621.4" width="27.94" height="31.4" fill="#fdcfc1"/>
<rect x="644.16" y="621.4" width="27.94" height="31.4" fill="#fedfd7"/>
<rect x="423" y="652.5" width="27.94" height="31.4" fill="#fee7e3"/>
<rect x="450.64" y="652.5" width="27.94" height="31.4" fill="#ffefed"/>
<rect x="478.29" y="652.5" width="27.94" height="31.4" fill="#fdbaa9"/>
<rect x="505.93" y="652.5" width="27.94" height="31.4" fill="#ffefef"/>
<rect x="533.58" y="652.5" width="27.94" height="31.4" fill="#fff1f1"/>
<rect x="561.22" y="652.5" width="27.94" height="31.4" fill="#ee5a45"/>
<rect x="588.87" y="652.5" width="27.94" height="31.4" fill="#feedeb"/>
<rect x="616.51" y="652.5" width="27.94" height="31.4" fill="#fdbead"/>
<rect x="644.16" y="652.5" width="27.94" height="31.4" fill="#fff1f1"/>
<rect x="423" y="683.6" width="27.94" height="31.4" fill="#fc836d"/>
<rect x="450.64" y="683.6" width="27.94" height="31.4" fill="#fca18b"/>
<rect x="478.29" y="683.6" width="27.94" height="31.4" fill="#dd4030"/>
<rect x="505.93" y="683.6" width="27.94" height="31.4" fill="#fdc9ba"/>
<rect x="533.58" y="683.6" width="27.94" height="31.4" fill="#fc816b"/>
<rect x="561.22" y="683.6" width="27.94" height="31.4" fill="#b82a20"/>
<rect x="588.87" y="683.6" width="27.94" height="31.4" fill="#f96a4c"/>
<rect x="616.51" y="683.6" width="27.94" height="31.4" fill="#fb7a5c"/>
<rect x="644.16" y="683.6" width="27.94" height="31.4" fill="#fa7254"/>
<rect x="423" y="714.7" width="27.94" height="31.4" fill="#fee7e3"/>
<rect x="450.64" y="714.7" width="27.94" height="31.4" fill="#ffefed"/>
<rect x="478.29" y="714.7" width="27.94" height="31.4" fill="#fddbd1"/>
<rect x="505.93" y="714.7" width="27.94" height="31.4" fill="#ffefed"/>
<rect x="533.58" y="714.7" width="27.94" height="31.4" fill="#ffefef"/>
<rect x="561.22" y="714.7" width="27.94" height="31.4" fill="#e95440"/>
<rect x="588.87" y="714.7" width="27.94" height="31.4" fill="#fee9e5"/>
<rect x="616.51" y="714.7" width="27.94" height="31.4" fill="#fee3dd"/>
<rect x="644.16" y="714.7" width="27.94" height="31.4" fill="#fee9e5"/>
<rect x="423" y="745.8" width="27.94" height="31.4" fill="#fee9e5"/>
<rect x="450.64" y="745.8" width="27.94" height="31.4" fill="#ffefed"/>
<rect x="478.29" y="745.8" width="27.94" height="31.4" fill="#fc8973"/>
<rect x="505.93" y="745.8" width="27.94" height="31.4" fill="#ffefef"/>
<rect x="533.58" y="745.8" width="27.94" height="31.4" fill="#fedfd7"/>
<rect x="561.22" y="745.8" width="27.94" height="31.4" fill="#c62a22"/>
<rect x="588.87" y="745.8" width="27.94" height="31.4" fill="#fdcfc1"/>
<rect x="616.51" y="745.8" width="27.94" height="31.4" fill="#fdd3c7"/>
<rect x="644.16" y="745.8" width="27.94" height="31.4" fill="#fee1db"/>
<rect x="423" y="776.9" width="27.94" height="31.4" fill="#b82a22"/>
<rect x="450.64" y="776.9" width="27.94" height="31.4" fill="#c22c22"/>
<rect x="478.29" y="776.9" width="27.94" height="31.4" fill="#9c2620"/>
<rect x="505.93" y="776.9" width="27.94" height="31.4" fill="#be2a22"/>
<rect x="533.58" y="776.9" width="27.94" height="31.4" fill="#b02822"/>
<rect x="561.22" y="776.9" width="27.94" height="31.4" fill="#5e1a16"/>
<rect x="588.87" y="776.9" width="27.94" height="31.4" fill="#aa2822"/>
<rect x="616.51" y="776.9" width="27.94" height="31.4" fill="#c02a22"/>
<rect x="644.16" y="776.9" width="27.94" height="31.4" fill="#a02824"/>
<rect x="423" y="808" width="27.94" height="31.4" fill="#fee1db"/>
<rect x="450.64" y="808" width="27.94" height="31.4" fill="#fee9e5"/>
<rect x="478.29" y="808" width="27.94" height="31.4" fill="#fc836d"/>
<rect x="505.93" y="808" width="27.94" height="31.4" fill="#fee9e5"/>
<rect x="533.58" y="808" width="27.94" height="31.4" fill="#fdcfc1"/>
<rect x="561.22" y="808" width="27.94" height="31.4" fill="#c02a22"/>
<rect x="588.87" y="808" width="27.94" height="31.4" fill="#fdcfc1"/>
<rect x="616.51" y="808" width="27.94" height="31.4" fill="#fdbaa9"/>
<rect x="644.16" y="808" width="27.94" height="31.4" fill="#fedbd1"/>
<rect x="423" y="839.1" width="27.94" height="31.4" fill="#fdc3b3"/>
<rect x="450.64" y="839.1" width="27.94" height="31.4" fill="#fdb7a5"/>
<rect x="478.29" y="839.1" width="27.94" height="31.4" fill="#fc8971"/>
<rect x="505.93" y="839.1" width="27.94" height="31.4" fill="#fee1db"/>
<rect x="533.58" y="839.1" width="27.94" height="31.4" fill="#fdd1c5"/>
<rect x="561.22" y="839.1" width="27.94" height="31.4" fill="#d43a30"/>
<rect x="588.87" y="839.1" width="27.94" height="31.4" fill="#fdbbab"/>
<rect x="616.51" y="839.1" width="27.94" height="31.4" fill="#fca793"/>
<rect x="644.16" y="839.1" width="27.94" height="31.4" fill="#fdc9bb"/>
<rect x="423" y="870.2" width="27.94" height="31.4" fill="#fee5df"/>
<rect x="450.64" y="870.2" width="27.94" height="31.4" fill="#ffefef"/>
<rect x="478.29" y="870.2" width="27.94" height="31.4" fill="#f9705a"/>
<rect x="505.93" y="870.2" width="27.94" height="31.4" fill="#fee9e5"/>
<rect x="533.58" y="870.2" width="27.94" height="31.4" fill="#fee9e5"/>
<rect x="561.22" y="870.2" width="27.94" height="31.4" fill="#c02a22"/>
<rect x="588.87" y="870.2" width="27.94" height="31.4" fill="#fee1db"/>
<rect x="616.51" y="870.2" width="27.94" height="31.4" fill="#fdd1c5"/>
<rect x="644.16" y="870.2" width="27.94" height="31.4" fill="#fee5df"/>
</g>
<rect x="416" y="621.4" width="4.5" height="31.3" fill="#d62f27"/>
<rect x="416" y="652.5" width="4.5" height="31.3" fill="#4477b0"/>
<rect x="416" y="683.6" width="4.5" height="31.3" fill="#5bab3c"/>
<rect x="416" y="714.7" width="4.5" height="31.3" fill="#a04cc0"/>
<rect x="416" y="745.8" width="4.5" height="31.3" fill="#e98c25"/>
<rect x="416" y="776.9" width="4.5" height="31.3" fill="#e580b8"/>
<rect x="416" y="808" width="4.5" height="31.3" fill="#c8a0e4"/>
<rect x="416" y="839.1" width="4.5" height="31.3" fill="#9a4c2a"/>
<rect x="416" y="870.2" width="4.5" height="31.3" fill="#6aaed6"/>
<rect x="423" y="903.4" width="27.84" height="4" fill="#d62f27"/>
<rect x="450.64" y="903.4" width="27.84" height="4" fill="#4477b0"/>
<rect x="478.29" y="903.4" width="27.84" height="4" fill="#5bab3c"/>
<rect x="505.93" y="903.4" width="27.84" height="4" fill="#a04cc0"/>
<rect x="533.58" y="903.4" width="27.84" height="4" fill="#e98c25"/>
<rect x="561.22" y="903.4" width="27.84" height="4" fill="#e580b8"/>
<rect x="588.87" y="903.4" width="27.84" height="4" fill="#c8a0e4"/>
<rect x="616.51" y="903.4" width="27.84" height="4" fill="#9a4c2a"/>
<rect x="644.16" y="903.4" width="27.84" height="4" fill="#6aaed6"/>
<rect x="428.17" y="609.5" width="17.3" height="10.5" fill="#d62f27"/>
<rect x="455.82" y="611" width="17.3" height="9" fill="#4477b0"/>
<rect x="483.46" y="603.7" width="17.3" height="16.3" fill="#5bab3c"/>
<rect x="511.11" y="611.7" width="17.3" height="8.3" fill="#a04cc0"/>
<rect x="538.75" y="610" width="17.3" height="10" fill="#e98c25"/>
<rect x="566.39" y="598" width="17.3" height="22" fill="#e580b8"/>
<rect x="594.04" y="609" width="17.3" height="11" fill="#c8a0e4"/>
<rect x="621.68" y="607.7" width="17.3" height="12.3" fill="#9a4c2a"/>
<rect x="649.33" y="609.5" width="17.3" height="10.5" fill="#6aaed6"/>
<rect x="673.5" y="627.35" width="8" height="19.2" fill="#d62f27"/>
<rect x="673.5" y="658.45" width="7" height="19.2" fill="#4477b0"/>
<rect x="673.5" y="689.55" width="14.3" height="19.2" fill="#5bab3c"/>
<rect x="673.5" y="720.65" width="6.5" height="19.2" fill="#a04cc0"/>
<rect x="673.5" y="751.75" width="8.8" height="19.2" fill="#e98c25"/>
<rect x="673.5" y="782.85" width="22" height="19.2" fill="#e580b8"/>
<rect x="673.5" y="813.95" width="9.3" height="19.2" fill="#c8a0e4"/>
<rect x="673.5" y="845.05" width="10.8" height="19.2" fill="#9a4c2a"/>
<rect x="673.5" y="876.15" width="8.3" height="19.2" fill="#6aaed6"/>
<line x1="422.8" y1="597" x2="422.8" y2="619.7" stroke="#000" stroke-width="0.7"/>
<g font-size="6" text-anchor="end">
<line x1="420.3" y1="600.3" x2="422.8" y2="600.3" stroke="#000" stroke-width="0.6"/>
<text x="418" y="602.4">1500</text>
<line x1="420.3" y1="606.5" x2="422.8" y2="606.5" stroke="#000" stroke-width="0.6"/>
<text x="418" y="608.6">1000</text>
<line x1="420.3" y1="613.1" x2="422.8" y2="613.1" stroke="#000" stroke-width="0.6"/>
<text x="418" y="615.2">500</text>
<line x1="420.3" y1="619.3" x2="422.8" y2="619.3" stroke="#000" stroke-width="0.6"/>
<text x="418" y="621.4">0</text>
</g>
<line x1="673.4" y1="901.2" x2="696.7" y2="901.2" stroke="#000" stroke-width="0.7"/>
<g font-size="5.6" text-anchor="end">
<line x1="674" y1="901.2" x2="674" y2="903.2" stroke="#000" stroke-width="0.6"/>
<text x="675.6" y="905.6" transform="rotate(-90 675.6 905.6)">0</text>
<line x1="679.6" y1="901.2" x2="679.6" y2="903.2" stroke="#000" stroke-width="0.6"/>
<text x="681.2" y="905.6" transform="rotate(-90 681.2 905.6)">500</text>
<line x1="685.2" y1="901.2" x2="685.2" y2="903.2" stroke="#000" stroke-width="0.6"/>
<text x="686.8" y="905.6" transform="rotate(-90 686.8 905.6)">1000</text>
<line x1="690.9" y1="901.2" x2="690.9" y2="903.2" stroke="#000" stroke-width="0.6"/>
<text x="692.5" y="905.6" transform="rotate(-90 692.5 905.6)">1500</text>
</g>
<g font-size="6.2" text-anchor="end">
<text x="413.7" y="639.15">B_cell</text>
<text x="413.7" y="670.25">CMP</text>
<text x="413.7" y="701.35">Adenoma_epithelium</text>
<text x="413.7" y="732.45">CRC_epithelium</text>
<text x="413.7" y="763.55">Normal_epithelium</text>
<text x="413.7" y="794.65">Monocyte</text>
<text x="413.7" y="825.75">NK_cell</text>
<text x="413.7" y="856.85">Smooth_muscle_cells</text>
<text x="413.7" y="887.95">T_cells</text>
<text x="439.02" y="910.5" transform="rotate(-90 439.02 910.5)">B_cell</text>
<text x="466.67" y="910.5" transform="rotate(-90 466.67 910.5)">CMP</text>
<text x="494.31" y="910.5" transform="rotate(-90 494.31 910.5)">Adenoma_epithelium</text>
<text x="521.96" y="910.5" transform="rotate(-90 521.96 910.5)">CRC_epithelium</text>
<text x="549.6" y="910.5" transform="rotate(-90 549.6 910.5)">Normal_epithelium</text>
<text x="577.24" y="910.5" transform="rotate(-90 577.24 910.5)">Monocyte</text>
<text x="604.89" y="910.5" transform="rotate(-90 604.89 910.5)">NK_cell</text>
<text x="632.53" y="910.5" transform="rotate(-90 632.53 910.5)">Smooth_muscle_cells</text>
<text x="660.18" y="910.5" transform="rotate(-90 660.18 910.5)">T_cells</text>
</g>
<text x="547.5" y="590.5" font-size="7.8" text-anchor="middle">Number of interactions</text>
<text x="348.5" y="761" font-size="7.9" text-anchor="middle" transform="rotate(-90 348.5 761)">Sources (Sender)</text>
<defs><linearGradient id="gf" x1="0" y1="0" x2="0" y2="1"><stop offset="0" stop-color="#67000d"/><stop offset=".2" stop-color="#b01217"/><stop offset=".4" stop-color="#e0352b"/><stop offset=".6" stop-color="#fb7050"/><stop offset=".8" stop-color="#fcb499"/><stop offset="1" stop-color="#fff5f0"/></linearGradient></defs>
<rect x="710" y="735.8" width="4.5" height="50.2" fill="url(#gf)"/>
<text x="716.5" y="739.7" font-size="6.2">250</text>
<text x="716.5" y="749.2" font-size="6.2">200</text>
<text x="716.5" y="758.7" font-size="6.2">150</text>
<text x="716.5" y="768.2" font-size="6.2">100</text>
<text x="716.5" y="777.7" font-size="6.2">50</text>
<text x="716.5" y="787.2" font-size="6.2">0</text>
<text x="705.2" y="761" font-size="6.2" text-anchor="middle" transform="rotate(-90 705.2 761)">Number of interactions</text>
</g>
</svg>
</body></html>
